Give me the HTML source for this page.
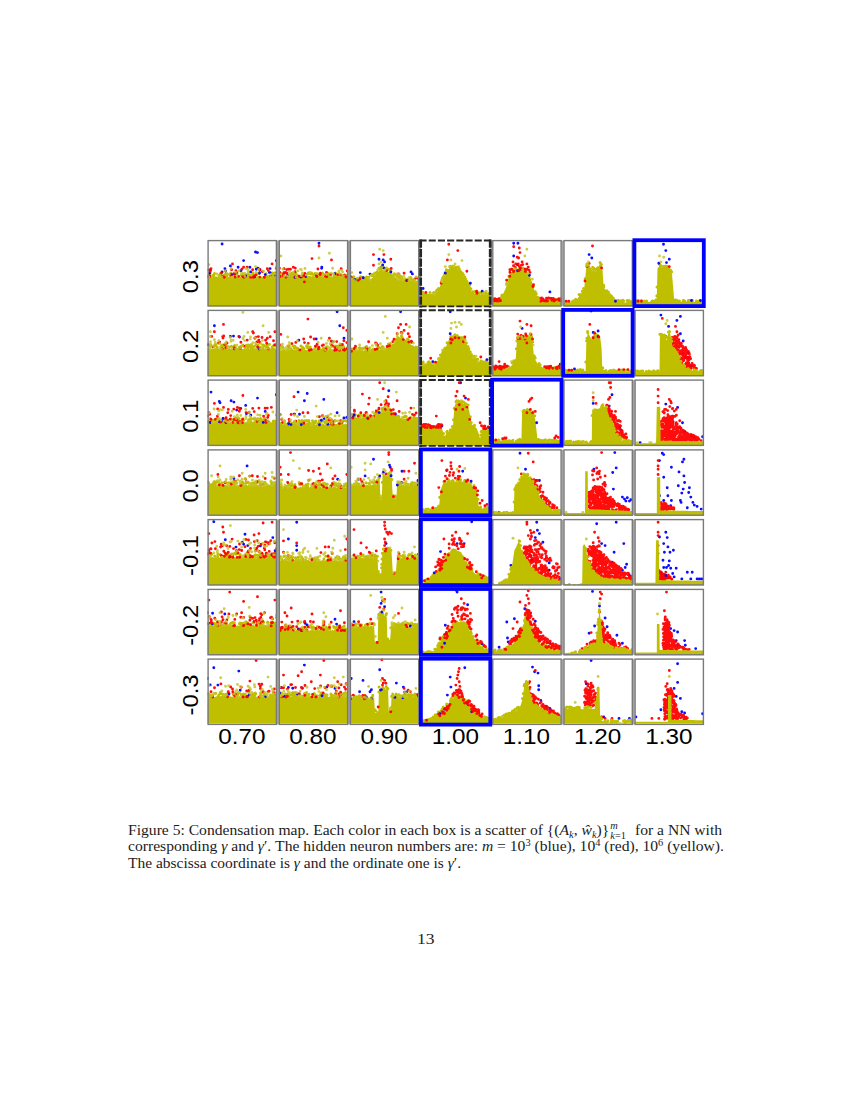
<!DOCTYPE html>
<html><head><meta charset="utf-8"><style>
html,body{margin:0;padding:0;background:#fff;}
body{width:850px;height:1100px;position:relative;overflow:hidden;}
.ln{position:absolute;font-family:"Liberation Serif",serif;font-size:14.3px;line-height:16px;color:#1c1c1c;transform-origin:0 0;white-space:nowrap;}
.ln i{font-style:italic;}
sup,sub{font-size:9.5px;line-height:0;position:relative;vertical-align:baseline;}
sup{top:-5px;} sub{top:3px;}
</style></head><body>
<svg width="850" height="1100" viewBox="0 0 850 1100" style="position:absolute;left:0;top:0"><defs><clipPath id="c00"><rect x="207.5" y="240" width="69.5" height="66.5"/></clipPath><clipPath id="c01"><rect x="278.7" y="240" width="69.5" height="66.5"/></clipPath><clipPath id="c02"><rect x="349.8" y="240" width="69.5" height="66.5"/></clipPath><clipPath id="c03"><rect x="421" y="240" width="69.5" height="66.5"/></clipPath><clipPath id="c04"><rect x="492.2" y="240" width="69.5" height="66.5"/></clipPath><clipPath id="c05"><rect x="563.4" y="240" width="69.5" height="66.5"/></clipPath><clipPath id="c06"><rect x="634.5" y="240" width="69.5" height="66.5"/></clipPath><clipPath id="c10"><rect x="207.5" y="309.8" width="69.5" height="66.5"/></clipPath><clipPath id="c11"><rect x="278.7" y="309.8" width="69.5" height="66.5"/></clipPath><clipPath id="c12"><rect x="349.8" y="309.8" width="69.5" height="66.5"/></clipPath><clipPath id="c13"><rect x="421" y="309.8" width="69.5" height="66.5"/></clipPath><clipPath id="c14"><rect x="492.2" y="309.8" width="69.5" height="66.5"/></clipPath><clipPath id="c15"><rect x="563.4" y="309.8" width="69.5" height="66.5"/></clipPath><clipPath id="c16"><rect x="634.5" y="309.8" width="69.5" height="66.5"/></clipPath><clipPath id="c20"><rect x="207.5" y="379.5" width="69.5" height="66.5"/></clipPath><clipPath id="c21"><rect x="278.7" y="379.5" width="69.5" height="66.5"/></clipPath><clipPath id="c22"><rect x="349.8" y="379.5" width="69.5" height="66.5"/></clipPath><clipPath id="c23"><rect x="421" y="379.5" width="69.5" height="66.5"/></clipPath><clipPath id="c24"><rect x="492.2" y="379.5" width="69.5" height="66.5"/></clipPath><clipPath id="c25"><rect x="563.4" y="379.5" width="69.5" height="66.5"/></clipPath><clipPath id="c26"><rect x="634.5" y="379.5" width="69.5" height="66.5"/></clipPath><clipPath id="c30"><rect x="207.5" y="449.2" width="69.5" height="66.5"/></clipPath><clipPath id="c31"><rect x="278.7" y="449.2" width="69.5" height="66.5"/></clipPath><clipPath id="c32"><rect x="349.8" y="449.2" width="69.5" height="66.5"/></clipPath><clipPath id="c33"><rect x="421" y="449.2" width="69.5" height="66.5"/></clipPath><clipPath id="c34"><rect x="492.2" y="449.2" width="69.5" height="66.5"/></clipPath><clipPath id="c35"><rect x="563.4" y="449.2" width="69.5" height="66.5"/></clipPath><clipPath id="c36"><rect x="634.5" y="449.2" width="69.5" height="66.5"/></clipPath><clipPath id="c40"><rect x="207.5" y="519" width="69.5" height="66.5"/></clipPath><clipPath id="c41"><rect x="278.7" y="519" width="69.5" height="66.5"/></clipPath><clipPath id="c42"><rect x="349.8" y="519" width="69.5" height="66.5"/></clipPath><clipPath id="c43"><rect x="421" y="519" width="69.5" height="66.5"/></clipPath><clipPath id="c44"><rect x="492.2" y="519" width="69.5" height="66.5"/></clipPath><clipPath id="c45"><rect x="563.4" y="519" width="69.5" height="66.5"/></clipPath><clipPath id="c46"><rect x="634.5" y="519" width="69.5" height="66.5"/></clipPath><clipPath id="c50"><rect x="207.5" y="588.8" width="69.5" height="66.5"/></clipPath><clipPath id="c51"><rect x="278.7" y="588.8" width="69.5" height="66.5"/></clipPath><clipPath id="c52"><rect x="349.8" y="588.8" width="69.5" height="66.5"/></clipPath><clipPath id="c53"><rect x="421" y="588.8" width="69.5" height="66.5"/></clipPath><clipPath id="c54"><rect x="492.2" y="588.8" width="69.5" height="66.5"/></clipPath><clipPath id="c55"><rect x="563.4" y="588.8" width="69.5" height="66.5"/></clipPath><clipPath id="c56"><rect x="634.5" y="588.8" width="69.5" height="66.5"/></clipPath><clipPath id="c60"><rect x="207.5" y="658.5" width="69.5" height="66.5"/></clipPath><clipPath id="c61"><rect x="278.7" y="658.5" width="69.5" height="66.5"/></clipPath><clipPath id="c62"><rect x="349.8" y="658.5" width="69.5" height="66.5"/></clipPath><clipPath id="c63"><rect x="421" y="658.5" width="69.5" height="66.5"/></clipPath><clipPath id="c64"><rect x="492.2" y="658.5" width="69.5" height="66.5"/></clipPath><clipPath id="c65"><rect x="563.4" y="658.5" width="69.5" height="66.5"/></clipPath><clipPath id="c66"><rect x="634.5" y="658.5" width="69.5" height="66.5"/></clipPath></defs><g clip-path="url(#c00)"><polygon fill="#bfbf00" points="207.5,276.9 208.5,276.8 209.5,276.3 210.5,276.1 211.5,276.4 212.5,276.3 213.5,276.8 214.4,276.1 215.4,276.4 216.4,276.5 217.4,277 218.4,276.4 219.4,276.1 220.4,276.8 221.4,276.6 222.4,276.1 223.4,277 224.4,277.1 225.4,276.8 226.4,277 227.4,276.1 228.3,276.7 229.3,277 230.3,276.7 231.3,276.4 232.3,275.9 233.3,276.3 234.3,276.6 235.3,277 236.3,277.1 237.3,276.4 238.3,276.9 239.3,276.1 240.3,276.8 241.3,276.5 242.2,275.7 243.2,276.7 244.2,276.3 245.2,276.9 246.2,276.6 247.2,275.7 248.2,276.4 249.2,276.9 250.2,276.1 251.2,276.2 252.2,276.9 253.2,276 254.2,276.5 255.2,276 256.1,277.1 257.1,276.8 258.1,276.3 259.1,275.8 260.1,276.2 261.1,276.4 262.1,277 263.1,275.9 264.1,276.5 265.1,276.7 266.1,276.5 267.1,276.8 268.1,276.5 269.1,277.1 270.1,276.6 271,276.5 272,276.3 273,276.5 274,276.2 275,276.5 276,276.1 277,276 278,307.5 206.5,307.5"/><path stroke="#bfbf00" stroke-width="3" stroke-linecap="round" d="M220.5 275.2h0M253.1 274.7h0M213.7 275.7h0M268.4 276.4h0M266.1 276.3h0M271.7 274.9h0M234.7 275.5h0M226.7 275.9h0M266.5 276.3h0M248.5 276.5h0M247.8 274.6h0M253.4 276.6h0M271.2 275.9h0M213.2 275.2h0M241.3 275.3h0M266.2 273.8h0M258.3 273.4h0M222.8 275.9h0M230.6 276h0M214.5 273.5h0M256 273.1h0M247.4 276.3h0M244.6 275.5h0M209.4 275.3h0M249.6 275.1h0M234.7 274.3h0M275.6 273.1h0M209 276.5h0M220.4 273.4h0M222.1 275.9h0M272.6 273h0M237.1 273.3h0M225.6 273.7h0M252.5 274.2h0M220 274.8h0M210.2 273.3h0M276.2 273.7h0M232.4 275.6h0M265.8 276.3h0M219.3 275.4h0M274.7 273.1h0M254.5 276.1h0M231.3 273.9h0M249 274.6h0M219.6 274.7h0M236 275h0M242.8 274.1h0M232.3 276h0M224.9 275h0M208.4 275.7h0M230.8 273.1h0M227 273.8h0M273.7 274.2h0M227.5 274.3h0M273.3 275.3h0M250.7 275.6h0M234.5 274.5h0M252.7 272.9h0M220.9 274.2h0M224.1 275.3h0M233.8 276.2h0M247 274.5h0M235.5 275.5h0"/><path stroke="#0000ff" stroke-opacity="0.95" stroke-width="2.9" stroke-linecap="round" d="M260 269.6h0M257.9 268.1h0M270.2 272.7h0M275.7 276h0M245.6 275.9h0M243.9 277.1h0M275.3 275.6h0M234.9 274h0M225.6 271h0M256.3 269.3h0M254.5 276.9h0M241 270.8h0M222.1 244h0M255.5 252h0M257.5 252.6h0M243.6 260.6h0M276.3 260.6h0M224.9 268.6h0M230.4 265.9h0M238.1 267.3h0M249.9 267.3h0M270.1 268.6h0M250.6 271.9h0M222.1 271.9h0M231.8 274.6h0M259.6 273.2h0M265.2 274.6h0M269.4 272.6h0M210.3 269.9h0M209.6 273.2h0"/><path stroke="#ff0000" stroke-opacity="0.95" stroke-width="2.9" stroke-linecap="round" d="M236.6 272.4h0M238.5 276.2h0M268.3 270.6h0M277 272.8h0M254.7 275.8h0M244.2 277h0M252.6 269.7h0M235.1 277.1h0M231.6 269.8h0M208.1 276.8h0M262.4 271.8h0M250.6 277.2h0M224.2 277.2h0M230.3 275h0M256.1 274.9h0M251.9 277.1h0M259.6 277.1h0M222.5 276.8h0M233.8 273.7h0M276.2 268.2h0M241.9 269.1h0M221.5 273h0M264.4 277.2h0M210.2 276.4h0M208.6 270.1h0M259.4 269.3h0M253.2 277.2h0M242.7 276.2h0M267.3 268.8h0M235.9 270.6h0M232.5 263.9h0M243.6 267.3h0M247.1 267.3h0M272.1 263.9h0M211 268.6h0M259.6 270.6h0M245 276.6h0M270.7 275.9h0M210.3 271.3h0"/><path stroke="#c4c428" stroke-opacity="0.85" stroke-width="2.9" stroke-linecap="round" d="M244.2 274.3h0M229.2 274.5h0M257.4 277.2h0M275.5 277h0M239 270.8h0M216.8 274h0M208.8 277.2h0M246.3 268.7h0M270.7 277.2h0M256.2 272.5h0M244.9 276.5h0M270.7 274.4h0M258.6 269.5h0M251.1 275.3h0M241.5 273.3h0M236.9 275.4h0M232.4 277.1h0M221.9 277.2h0M235.7 272.2h0M242.1 274.2h0M231.1 268.5h0M225.4 270.9h0M248 271.8h0M212.1 277.1h0M218.7 276.8h0M274.8 274.1h0M242.4 273.4h0M263.5 271.3h0M244.7 273.1h0M248.3 270h0M255.5 266.6h0M276.3 267.3h0M208.9 264.6h0"/></g><g clip-path="url(#c01)"><polygon fill="#bfbf00" points="278.7,275.9 279.7,276.9 280.7,276.8 281.6,276.1 282.6,276.4 283.6,276.3 284.6,276.6 285.6,276.8 286.6,275.8 287.6,275.8 288.6,276.9 289.6,276.3 290.6,276.8 291.6,275.7 292.6,276.3 293.6,276.7 294.6,276 295.5,277 296.5,277 297.5,275.8 298.5,275.7 299.5,276.5 300.5,277 301.5,276.2 302.5,276 303.5,276.3 304.5,275.8 305.5,276 306.5,276.3 307.5,276.4 308.5,276 309.4,276 310.4,276 311.4,276.4 312.4,276.1 313.4,275.7 314.4,276.9 315.4,276.5 316.4,276.6 317.4,276 318.4,277.1 319.4,276.9 320.4,275.9 321.4,276.2 322.4,276.7 323.3,276.7 324.3,277 325.3,276.3 326.3,276.9 327.3,276.6 328.3,276.1 329.3,276.5 330.3,276.9 331.3,276.9 332.3,276.4 333.3,276.5 334.3,275.8 335.3,276 336.3,276.8 337.2,276.3 338.2,276 339.2,276.5 340.2,276.7 341.2,276.7 342.2,276.2 343.2,276.3 344.2,276.4 345.2,276.8 346.2,276.4 347.2,276.3 348.2,276.4 349.2,307.5 277.7,307.5"/><path stroke="#bfbf00" stroke-width="3" stroke-linecap="round" d="M280.7 273.1h0M327.6 276.6h0M319.9 274.4h0M290.5 274.8h0M346.9 275.8h0M316.2 276.1h0M294.8 274.8h0M344.9 275.1h0M310.6 273.9h0M316.8 276.5h0M279.1 275.8h0M335.7 276.2h0M330.1 275.9h0M314.7 275h0M308.3 273.1h0M339.1 275h0M292.6 274.8h0M312.4 274.2h0M302.7 274.9h0M322 275.2h0M310.5 273h0M294.6 273.6h0M319.3 276.1h0M334.2 275.9h0M335.4 273.9h0M337.2 275.4h0M284.5 273h0M279.7 275.7h0M296 273.3h0M322.1 274.2h0M283.5 273.5h0M315.3 273.5h0M297.6 275.6h0M310.3 274.1h0M311.6 273h0M305.5 274.5h0M291.7 273.3h0M341.2 274.8h0M293.2 275.2h0M335.5 273h0M279.9 273.5h0M328.6 273.5h0M327.6 275.4h0M316.5 273.7h0M346.5 275.9h0M314.6 273.7h0M323.7 274.4h0M318.7 274.1h0M322.5 273.1h0M299.4 276.5h0M339.5 274.1h0M338.3 274.1h0M344 275.7h0M307.6 273.9h0M279.3 276.2h0M281.3 276h0M345.5 275h0M290.6 276.1h0M346.3 275.5h0M314 274.3h0M302.8 273.7h0M325.5 274.5h0M292.2 273.3h0"/><path stroke="#0000ff" stroke-opacity="0.95" stroke-width="2.9" stroke-linecap="round" d="M321.6 268.2h0M300.9 277h0M334.8 273.7h0M294.9 277.2h0M319 243.3h0M321.8 267.3h0M287.7 275.2h0M305.8 276.6h0"/><path stroke="#ff0000" stroke-opacity="0.95" stroke-width="2.9" stroke-linecap="round" d="M325 275.9h0M279.9 276.5h0M347.3 270.9h0M295 271.7h0M290.5 269.2h0M304.3 275.6h0M285.9 277.2h0M304.9 273.4h0M317.9 269h0M279.5 272.3h0M286.7 269.6h0M295.3 268.1h0M286.7 276.7h0M299.1 276.2h0M285.6 272.5h0M279.4 268.2h0M320.1 274.6h0M346.1 277h0M326.5 272.4h0M316.3 275.8h0M344.1 275.2h0M340.8 275.9h0M295.7 277.2h0M283.7 273.7h0M283.9 272.7h0M284 268.7h0M288.5 269.2h0M326.6 276.7h0M337.8 274.6h0M302.2 276.2h0M283 275.5h0M319 246h0M312 258.6h0M331.5 259.9h0M293.3 267.3h0M304.4 281.9h0M320.4 273.2h0M316.9 276.6h0M330.8 274.6h0M341.2 268.6h0M287 273.2h0"/><path stroke="#c4c428" stroke-opacity="0.85" stroke-width="2.9" stroke-linecap="round" d="M301.3 269.8h0M293.5 272.3h0M343.5 275.6h0M326.4 274.3h0M331.4 273.1h0M339 273.1h0M340.3 276.9h0M338.9 270.9h0M302.4 273h0M284.4 276.1h0M297.9 270.9h0M330.4 277h0M305 268.4h0M283 269.2h0M284.3 276h0M309.8 272.5h0M301.4 275.8h0M316.5 273.4h0M333.7 274.2h0M289.4 274.2h0M332.6 268.2h0M342.6 275.9h0M300.6 269.3h0M341.7 270.2h0M289.6 271.8h0M296.2 277.1h0M323.6 274.9h0M287.4 276.2h0M306.3 275.1h0M329.4 253.3h0M319 258h0M280.8 256h0M342.6 271.9h0"/></g><g clip-path="url(#c02)"><polygon fill="#bfbf00" points="349.8,280.1 350.8,280.1 351.8,279 352.8,279.1 353.8,280 354.8,279.8 355.8,279.8 356.8,279.3 357.8,279.7 358.8,279.7 359.8,279.7 360.8,279.2 361.8,279.5 362.7,279.4 363.7,279.8 364.7,280.2 365.7,280.1 366.7,279.6 367.7,279.5 368.7,279.3 369.7,279 370.7,279 371.7,278.6 372.7,277.5 373.7,276.6 374.7,276.2 375.7,274.8 376.3,274.3 376.6,273.5 377.6,272.1 378.6,271.4 379.6,270 380.4,269.6 380.6,270.2 381.6,270.1 382.6,269.7 383.6,270.8 384.6,270.9 385.6,271.1 386,271.4 386.6,271.5 387.6,271.8 388.6,271.7 389.6,272.8 390.5,273.1 391.5,272.5 392.5,274.3 393.5,275.3 394.5,276.1 395.5,277.2 396.5,278.2 397.1,279.4 397.5,278.9 398.5,279.4 399.5,278.9 400.5,279.7 401.5,279.8 402.5,279.3 403.5,279.6 404.4,280.1 405.4,279.9 406.4,279.7 407.4,279.5 408.4,279.7 409.4,280.2 410.4,279.7 411.4,280.7 412.4,280 413.4,280.9 414.4,280.2 415.4,281.1 416.4,280.9 417.4,280.7 418.3,280.8 419.3,281.1 420.3,307.5 348.8,307.5"/><path stroke="#bfbf00" stroke-width="3" stroke-linecap="round" d="M390.7 270.6h0M364.3 278.2h0M414.8 279.5h0M355.1 279.2h0M400.3 279.1h0M363.1 279h0M353.9 278.7h0M368.8 277.3h0M410.7 277.5h0M386.1 270.7h0M366.9 277.2h0M411 278.5h0M399.7 276.2h0M375 273h0M396.6 275.6h0M416.2 277.7h0M400.5 276.3h0M367.6 279.2h0M360.8 277.2h0M397.9 277.2h0M352.8 279.7h0M360.4 276.7h0M373.8 275.6h0M401.4 276.7h0M373.3 274.2h0M381 269.2h0M401.3 279.2h0M402.4 279.1h0M398.9 277.6h0M365.5 278.7h0M371.8 275.8h0M381 269.5h0M358.7 278.4h0M377.2 271.9h0M359.8 279.6h0M367.8 278.5h0M379 268.2h0M388.6 269.3h0M353.8 276.7h0M361 276.9h0M394 274.2h0M418.2 280.8h0M419 278.6h0M380.7 267.5h0M390.9 271.7h0M405.5 278.9h0M367.7 277.9h0M386.4 268.1h0M352.3 277.9h0M357.6 278.9h0M366.6 276.9h0M362.5 277.3h0M364.9 278.2h0M382.1 268h0M394.4 273.7h0M412.8 280.4h0M400.5 277.6h0M385.4 269.6h0M353.4 277.9h0M386.3 268.6h0M356.4 279.1h0M375.3 273.8h0M413.9 279.4h0"/><path stroke="#0000ff" stroke-opacity="0.95" stroke-width="2.9" stroke-linecap="round" d="M370 274.1h0M355 279.7h0M363.2 277.8h0M382 266.7h0M406.7 280.6h0M382.7 264.9h0M379 259.3h0M383.2 259.9h0M384.6 261.9h0M383.9 267.9h0M360.3 272.6h0M411 271.9h0M412.4 273.9h0M349.8 267.9h0M390.8 271.9h0M419.3 243.3h0"/><path stroke="#ff0000" stroke-opacity="0.95" stroke-width="2.9" stroke-linecap="round" d="M351.2 276.9h0M358.3 280.3h0M407.9 279.9h0M418.6 278.5h0M359.9 278.8h0M391.2 268.4h0M373.5 254.6h0M383.9 254.6h0M390.8 259.3h0M373.5 265.3h0M415.9 277.9h0M398.5 273.9h0M404.1 273.2h0M386.7 270.6h0"/><path stroke="#c4c428" stroke-opacity="0.85" stroke-width="2.9" stroke-linecap="round" d="M371.1 275.1h0M350.9 278.7h0M383.6 270.8h0M414.8 281.4h0M408.9 277.7h0M398 280h0M403.9 276.5h0M374.7 274.8h0M368.5 278.2h0M416.2 276.9h0M383.8 270.6h0M397 274h0M419.2 281.6h0M354.5 280.4h0M370.4 279.9h0M397.2 278.1h0M357.6 278.1h0M402.4 280.2h0M399.6 279.4h0M381.9 267.2h0M419 277.4h0M385.3 269.7h0M399.2 274.1h0M401.7 276.9h0M409.1 280.4h0M377.8 270h0M394 276.5h0M399.3 274.6h0M379.7 249.3h0M383.2 250.6h0M351.9 272.6h0M381.1 261.9h0M379 263.9h0"/></g><g clip-path="url(#c03)"><polygon fill="#bfbf00" points="421,293.7 422,293.9 423,293.8 424,293.9 425,294 426,293.5 427,293.5 428,294.1 429,293.7 429.9,293.7 430.9,294.3 431.9,293.8 432.9,294.1 433.9,293.8 434.9,294 435.9,292.6 436.9,292.1 437.7,291.5 437.9,290.8 438.9,288.7 439.9,286.5 440.9,283.8 441.9,282.1 442.9,279.4 443.8,276.7 444.8,273.9 445.8,272.1 446,271.2 446.8,270.7 447.8,269.8 448.8,268.8 449.8,268 450.2,267.2 450.8,267.4 451.8,267 452.8,267.3 453.8,267.1 454.8,266.4 455.8,266.3 456.8,267.5 457.7,269.2 458.7,269.9 459.7,271.1 459.9,271.1 460.7,272.4 461.7,273.8 462.7,275.3 463.7,276.9 464.7,278.4 465.7,280.1 466.2,280.7 466.7,281.9 467.7,283.9 468.7,286 469.7,287.8 470.7,289.5 471.1,290.8 471.6,291.4 472.6,292.1 473.6,292.7 474.6,293.6 475.2,293.6 475.6,294.1 476.6,294 477.6,293.8 478.6,293.7 479.6,294.3 480.6,294.5 481.6,293.8 482.6,294.4 483.6,294.2 484.6,294 485.5,294.1 486.5,294.6 487.5,294.7 488.5,294.1 489.5,294.6 490.5,294.2 491.5,307.5 420,307.5"/><path stroke="#bfbf00" stroke-width="3" stroke-linecap="round" d="M470.9 289h0M482.2 294.3h0M456.1 267.2h0M442.5 278.3h0M462.7 273.4h0M434.7 292.7h0M463.4 274.8h0M424 293.7h0M442.8 279.5h0M483.3 293h0M453 266h0M465.8 279.2h0M459.9 270.5h0M486.4 293.4h0M451 266.7h0M437.5 290h0M489 293.6h0M459.1 268.4h0M449.9 266.8h0M422.4 293.2h0M464.9 276.9h0M464.6 277.2h0M468.2 283.5h0M470.1 288.3h0M422.6 292h0M468 284.3h0M438.5 288.5h0M462.2 273.3h0M446.3 269.7h0M446.7 269.9h0M441.9 280.6h0M474.7 291.5h0M460.6 271.8h0M442.6 278.6h0M476.9 292.4h0M434 292.8h0M469.5 285.6h0M443.4 276.7h0M478.9 293h0M480.5 292.5h0M444.4 274.8h0M482.5 293.1h0M436.6 290.5h0M457.8 267.3h0M477.1 293.7h0M433.8 292.5h0M477.1 293.3h0M477 292.7h0M430 292.5h0M476.2 292.5h0M445.1 272.6h0M450.2 266.2h0M485 292.6h0M421.3 293.9h0M482.2 294.3h0M451.2 267.2h0M485.5 292.8h0M472.8 291.7h0M467.1 281.5h0M441.1 282.3h0M436.8 290.2h0M461.9 272.8h0M477.3 292.1h0"/><path stroke="#0000ff" stroke-opacity="0.95" stroke-width="2.9" stroke-linecap="round" d="M445.3 273.2h0M470.4 283.2h0M423.1 288.5h0M482.2 291.2h0"/><path stroke="#ff0000" stroke-opacity="0.95" stroke-width="2.9" stroke-linecap="round" d="M477 293.3h0M448.8 244.3h0M457.8 250.6h0M447.4 259.9h0M466.9 271.3h0M441.2 283.2h0M425.9 292.5h0M476.6 291.2h0"/><path stroke="#c4c428" stroke-opacity="0.85" stroke-width="2.9" stroke-linecap="round" d="M483.8 294.1h0M483.3 293.3h0M421.9 293.5h0M441.9 281.9h0M449.8 266.6h0M444.7 275.6h0M454.2 266.3h0M434.7 294.2h0M432.9 293.4h0M448.8 254.6h0M450.9 259.9h0M462 260.6h0M445.3 266.6h0M455.1 263.9h0M441.9 279.9h0M486.3 291.2h0M458.5 266.6h0"/></g><g clip-path="url(#c04)"><polygon fill="#bfbf00" points="492.2,301 493.2,300.9 494.2,301.1 495.2,300.9 496.2,300.8 497.1,301.1 498.1,301.5 499.1,301.4 500.1,300 501.1,298.1 501.9,297.2 502.1,296.5 503.1,294.1 504.1,291.7 505.1,289.4 506.1,287.6 507.1,284.3 508.1,281.1 509.1,278 510.1,274.3 510.2,273.8 511,273.1 512,272 513,270.9 514,270.7 515,269.9 516,270.1 517,270 518,269.6 519,269.2 520,269.2 521,269.1 522,270 523,270.1 524,270.1 524.9,270.1 525.9,270.7 526.9,270.6 527.9,272.8 528.9,274.7 529.9,276.3 530.4,277.2 530.9,278.9 531.9,282 532.9,285 533.9,288.4 534.9,291.3 535.9,293.1 536.9,295.6 537.4,297.3 537.9,298 538.8,300.1 539.4,301.2 539.8,301.1 540.8,301.6 541.8,301 542.8,301.2 543.8,301.1 544.8,301.4 545.8,301.2 546.8,301.3 547.8,301.6 548.8,301.3 549.8,301.5 550.8,301.8 551.8,301.2 552.7,301.2 553.7,301.4 554.7,301.8 555.7,301.8 556.7,301.5 557.7,301.6 558.7,301.5 559.7,301.8 560.7,301.5 561.7,302 562.7,307.5 491.2,307.5"/><path stroke="#bfbf00" stroke-width="3" stroke-linecap="round" d="M554.4 301.7h0M543.3 301.3h0M493.4 299.8h0M559.3 301.4h0M520.7 269.4h0M535.3 291.8h0M512.6 269.6h0M523 268.1h0M518.7 269.6h0M515.2 268.2h0M495.3 299.5h0M546.7 300.2h0M512.4 269.6h0M560.4 300.7h0M506.6 283.6h0M496 299.5h0M539.2 299.1h0M495 300.2h0M509.5 276.5h0M500.7 298.1h0M546 300.3h0M560.8 300.8h0M509 276.8h0M494.7 300.1h0M509.5 276.3h0M549.9 300.6h0M494.4 299.7h0M509 276.3h0M508.3 280.1h0M502 295h0M556.7 300.9h0M561 300.7h0M554.8 301h0M547.1 301h0M526.5 268.7h0M506.8 284.7h0M554.7 301.6h0M515.6 269.5h0M547.7 300.8h0M548.8 300.6h0M537.7 297.3h0M510.8 273.2h0M558.6 299.9h0M559.7 301.8h0M538.6 297.7h0M554.7 299.9h0M559.5 301.2h0M496.4 299.5h0M536.3 293.8h0M544.1 301.3h0M507.4 281.1h0M556.3 299.7h0M553.1 299.8h0M548.5 301.1h0M553.2 300.8h0M553.3 300h0M538.8 298.8h0M554.2 301.3h0M524.9 269.3h0M494 299.3h0M533.5 286.3h0M552.3 300.9h0M501.8 296.1h0"/><path stroke="#0000ff" stroke-opacity="0.95" stroke-width="2.9" stroke-linecap="round" d="M520.6 269h0M517.4 264.8h0M529.4 275.2h0M517.6 270.7h0M513.7 243.3h0M517.9 243.3h0M513.7 256h0M549.9 291.9h0"/><path stroke="#ff0000" stroke-opacity="0.95" stroke-width="2.9" stroke-linecap="round" d="M527.1 269.4h0M529.1 270.3h0M513.8 271h0M532.9 286.5h0M522.8 264.6h0M506.6 280.2h0M513.5 265.8h0M509.8 276.2h0M525.4 271.6h0M520.6 268.2h0M518.8 270.7h0M533.5 284.7h0M518.3 264h0M530 272.4h0M515.3 267.4h0M509.9 269.7h0M521.5 269.4h0M509.9 272.2h0M513.5 271.8h0M528.3 267.1h0M497.1 299.5h0M497 301h0M498.5 301.1h0M493.2 300h0M497.8 300.3h0M497.3 300.6h0M494.7 300.9h0M495.6 299.8h0M499.7 300.2h0M494.8 298.6h0M494.9 299.9h0M500.5 300.8h0M495.5 299.2h0M499 298.8h0M548.6 297.9h0M543.5 299.7h0M554.9 299.9h0M547.5 301h0M553.3 298.4h0M540.9 301.1h0M561.4 300.9h0M552.9 298.9h0M541.5 298.7h0M544.4 300.9h0M559.3 300.4h0M542.7 298.6h0M546.1 301h0M543.1 300.5h0M554.6 299.7h0M560.8 298.7h0M551.1 298.4h0M541.6 298h0M546.5 298.3h0M540.8 301.2h0M545.9 300.8h0M555.1 300.3h0M554 301h0M559 300.2h0M551.9 300.2h0M555.5 299.7h0M550.6 298.4h0M558.2 299.5h0M540.9 298.4h0M558.9 298.7h0M513.7 246.7h0M519.3 248h0M520 252.6h0M517.2 257.3h0M518.6 258h0M513 261.9h0M522.1 261.9h0M526.9 263.9h0M519.3 266.6h0M524.8 269.3h0M511.6 269.3h0M515.8 263.9h0M521.4 265.3h0"/><path stroke="#c4c428" stroke-opacity="0.85" stroke-width="2.9" stroke-linecap="round" d="M528 273.5h0M514.6 268.6h0M522.5 269.8h0M507.1 284.9h0M507.4 282.4h0M532.4 279.1h0M526.9 249.3h0M524.8 256h0"/></g><g clip-path="url(#c05)"><polygon fill="#bfbf00" points="563.4,302.6 564.3,302.6 565.3,302.6 566.3,302.7 567.3,302.5 568.3,302.6 569.3,301.8 570.3,302.1 571.3,302.4 572.3,302.1 573.3,302.3 574.3,301.6 575.2,301.8 575.3,301.5 576.3,300.4 577.2,299.1 578.2,297.3 578.6,297 579.2,296.1 580.2,295.1 581.2,293.4 582.2,291.4 583.2,290.3 584.2,288.3 585.2,278.5 586.2,268 586.3,266.9 587.2,265.6 588.2,262.8 588.4,262.4 589.2,264.7 590.2,266.8 591.1,268.4 592.1,269.4 593.1,269.4 594.1,270 595.1,270 596,270.9 596.1,270.6 597.1,269.2 598.1,267.6 599.1,265.5 600.1,264 600.2,263.7 601.1,265.1 602.1,266.6 602.3,267.1 603.1,278.7 603.7,286.8 604.1,287.9 605.1,289 606,290.3 607,292.1 608,293.2 608.5,293.7 609,294.5 610,295.9 611,296.7 612,298.7 613,299.2 614,301 614.8,302.1 615,301.5 616,302.1 617,301.8 618,302 619,301.6 619.9,301.7 620.9,301.8 621.9,302.5 622.9,301.9 623.9,302.4 624.9,302.6 625.9,302.6 626.9,302.2 627.9,302.2 628.9,302.4 629.9,302.6 630.9,302.1 631.9,302.7 632.9,302.7 633.9,307.5 562.4,307.5"/><path stroke="#bfbf00" stroke-width="3" stroke-linecap="round" d="M623.1 300.2h0M629.1 300.6h0M587 264.9h0M627.2 301h0M627.6 301.5h0M585.1 278.4h0M575.7 299.3h0M573.7 301.4h0M632.6 300.9h0M566.7 302.4h0M600.4 263.2h0M579.8 294.6h0M620.8 301h0M592.7 267.3h0M627 300.4h0M597.7 267.8h0M572.4 301.6h0M629.4 301.7h0M618.1 300.2h0M593.6 267.9h0M622.1 300.7h0M594.8 270.2h0M622.6 302.2h0M594.9 269.2h0M614.1 299.9h0M583.6 288.4h0M573.5 300.7h0M632 302.5h0M606.9 290.7h0M586.9 264.1h0M582.3 291.2h0M623.6 300.9h0M618 301.6h0M611.6 297.2h0M616.1 300.7h0M612.3 297.3h0M597.1 268.5h0M611.4 296.1h0M629.1 301.8h0M603.7 285.3h0M601.4 264.4h0M610 294.8h0M620.1 301.4h0M618.8 300.7h0M608.1 292.9h0M620.9 300.8h0M621.9 302h0M611.2 297.3h0M629.8 301.5h0M600.1 262.4h0M621.5 302.1h0M596.5 269.3h0M613.4 299.6h0M575.3 301.3h0M603.7 286.7h0M592.6 268.5h0M617.2 301.3h0M613.4 298.2h0M574.5 300.8h0M608.5 292.3h0M611 296.4h0M566.3 301.4h0M579.1 294.6h0"/><path stroke="#0000ff" stroke-opacity="0.95" stroke-width="2.9" stroke-linecap="round" d="M589.1 254.6h0M591.8 258h0M615.5 301.2h0"/><path stroke="#ff0000" stroke-opacity="0.95" stroke-width="2.9" stroke-linecap="round" d="M587 266.6h0M589.2 263.4h0M585 281h0M592.5 246h0M601.6 267.9h0M566.1 301.2h0M568.9 301.2h0"/><path stroke="#c4c428" stroke-opacity="0.85" stroke-width="2.9" stroke-linecap="round" d="M588.2 264.2h0M592.1 269.1h0M592.7 270.2h0M586.6 265.9h0M595.6 271.3h0M588.4 261.9h0"/></g><g clip-path="url(#c06)"><polygon fill="#bfbf00" points="634.5,302.2 635.5,302.2 636.5,302 637.5,301.8 638.5,301.6 639.5,302 640.5,301.9 641.5,302.1 642.5,301.8 643.5,302 644.4,301.7 645.4,302 646.4,302 647.4,301.8 648.4,301.8 649.4,301.9 650.4,301.6 651.4,301.8 652.4,301.9 653.4,301.6 654.4,301.9 655.4,301.8 656.4,298.6 656.8,296.9 657.4,272.3 657.5,268.6 658.3,267.5 659.3,266 659.5,265.5 660.3,265.8 661.3,266.2 662.3,266.2 663.3,266.8 664.3,266.8 665.3,266.8 665.8,267.2 666.3,267.2 667.3,267.9 668.3,268.3 669.3,268.4 670.3,270.4 671.3,272.3 672,273.9 672.2,276.4 673.2,287.9 674.1,298.9 674.2,299.2 675.2,300.3 676.2,301.7 677.2,301.4 678.2,301.9 679.2,301.7 680.2,301.5 681.2,301.8 682.2,301.6 683.2,301.6 684.2,301.8 685.2,301.6 686.1,301.6 687.1,302 688.1,301.9 689.1,301.5 690.1,302 691.1,301.6 692.1,301.8 693.1,302.1 694.1,302 695.1,301.8 696.1,301.8 697.1,301.9 698.1,301.7 699.1,302.3 700,301.7 701,301.9 702,302.1 703,301.9 704,302.3 705,307.5 633.5,307.5"/><path stroke="#bfbf00" stroke-width="3" stroke-linecap="round" d="M651.6 301.8h0M696.5 301.5h0M696.3 301.1h0M692.3 301.6h0M670.4 269.9h0M683.6 300.9h0M640.5 301.6h0M653 301h0M689 300.6h0M636 300.7h0M675.5 299.8h0M652.3 301h0M699 300.9h0M663.1 266.4h0M677.1 300.6h0M667.5 267h0M644.4 301h0M655.8 300.1h0M657 286.9h0M702 302h0M660.7 265.5h0M656.8 295.8h0M668.4 267.9h0M699.6 300.9h0M635 301.2h0M638.5 300.5h0M688.3 300.5h0M684.5 300.9h0M699.7 301.8h0M638.8 300.8h0M700.4 301.5h0M663.9 266.4h0M691.1 301.1h0M667.1 266.3h0M659.7 264.5h0M678 301.2h0M644.5 301.4h0M641.3 300.6h0M679.4 301h0M697 301.4h0M683.3 300.5h0M692.4 300.5h0M677.5 301.7h0M697.6 301.9h0M665.9 266.8h0M689.5 300.6h0M700.1 301.9h0M665.2 266.7h0M665.6 266h0M684 300.4h0M690.1 301.9h0M654.4 301.7h0M640.3 301.8h0M654 301.7h0M664.5 266.8h0M636.7 300.6h0M691.3 301.4h0M671.7 271.7h0M646.6 300.9h0M638.1 302h0M687.7 301.8h0M683.2 300.8h0M639.9 301.6h0"/><path stroke="#0000ff" stroke-opacity="0.95" stroke-width="2.9" stroke-linecap="round" d="M663.5 244.2h0M665.8 250.6h0M669.3 259.3h0M658.8 263.3h0M666.5 262.6h0M691.5 300.5h0M700.5 300.5h0"/><path stroke="#ff0000" stroke-opacity="0.95" stroke-width="2.9" stroke-linecap="round" d="M669.3 266.6h0M638 301.2h0M641.5 301.2h0"/><path stroke="#c4c428" stroke-opacity="0.85" stroke-width="2.9" stroke-linecap="round" d="M659.5 256h0M663.7 257.3h0M660.9 261.9h0M662.3 266.6h0"/></g><g clip-path="url(#c10)"><polygon fill="#bfbf00" points="207.5,347.8 208.5,348.2 209.5,348.8 210.5,348.6 211.5,348.7 212.5,348.2 213.5,348.8 214.4,348.4 215.4,347.6 216.4,348.2 217.4,347.6 218.4,349 219.4,349 220.4,348.1 221.4,348 222.4,348.7 223.4,347.8 224.4,347.8 225.4,347.8 226.4,348.1 227.4,348.5 228.3,349.1 229.3,347.9 230.3,349 231.3,348.4 232.3,349 233.3,348.8 234.3,347.8 235.3,348.6 236.3,347.7 237.3,347.5 238.3,348.2 239.3,348.8 240.3,348.4 241.3,347.8 242.2,348.9 243.2,349 244.2,347.9 245.2,348.2 246.2,348.5 247.2,349 248.2,347.7 249.2,348.4 250.2,349.1 251.2,348.5 252.2,348.7 253.2,348.8 254.2,348.3 255.2,348 256.1,348.5 257.1,348.4 258.1,348.1 259.1,348.9 260.1,348.1 261.1,348.3 262.1,348.7 263.1,348.8 264.1,348.9 265.1,348.6 266.1,347.9 267.1,348.9 268.1,349 269.1,348.7 270.1,348.7 271,348.3 272,348.3 273,348.5 274,347.8 275,348.6 276,348.9 277,347.8 278,377.2 206.5,377.2"/><path stroke="#bfbf00" stroke-width="3" stroke-linecap="round" d="M259.9 347.3h0M215.9 344.5h0M248.9 345.3h0M229 347h0M252.7 347.5h0M247 345.8h0M208.4 344.8h0M220.9 346.6h0M257.5 345.2h0M234.6 348.3h0M235.3 347.4h0M250.5 347.1h0M240.6 346.6h0M256.2 345h0M263 348h0M210.8 345.2h0M224.8 344.7h0M217.2 347.1h0M216 344.6h0M273.2 346h0M245.1 346.3h0M231.4 346.3h0M221 346.8h0M225 344.9h0M222 346.1h0M272.2 346.9h0M275.7 346h0M225.6 347.4h0M220.7 348.6h0M234.6 345.5h0M226.4 345.6h0M272.6 348.6h0M246.3 345.3h0M208.2 344.7h0M228.2 347.1h0M251 348h0M264.6 345.8h0M254.3 346.2h0M258.1 345.1h0M275.4 344.4h0M250.4 345.8h0M263.2 344.9h0M269.4 344.3h0M258.6 347.3h0M242.8 345.1h0M234.1 346.2h0M222.3 345h0M266.1 346.7h0M226.3 347h0M251.5 344.9h0M248.1 346.8h0M215.2 345.6h0M267.5 346.8h0M223 346h0M239.4 347.3h0M267.3 344.7h0M210.7 346.2h0M208.9 345h0M214.9 344.7h0M251 344.7h0M246.9 348.4h0M217.3 347.6h0M248.1 345.1h0"/><path stroke="#0000ff" stroke-opacity="0.95" stroke-width="2.9" stroke-linecap="round" d="M208 344.6h0M233.5 336.1h0M234.6 348.9h0M259.4 349h0M214.4 325.7h0M230.4 336.4h0M239.5 337h0"/><path stroke="#ff0000" stroke-opacity="0.95" stroke-width="2.9" stroke-linecap="round" d="M273.5 340.8h0M262 337.5h0M258.8 340.1h0M266.7 343.3h0M223.7 336h0M223 338.1h0M255.9 337.1h0M213.2 346.9h0M234 348h0M226 347.8h0M270.2 336.8h0M219.7 342.1h0M257.6 347.2h0M224.7 344.6h0M222.2 348.8h0M222.7 336.8h0M274.6 344.9h0M238.8 336.4h0M258.4 336.6h0M265.6 340.3h0M240.4 348.2h0M243.9 346.1h0M256.9 341.9h0M247.2 340.1h0M223.5 324.4h0M274.9 331.7h0M252.7 331.7h0M253.4 333h0M214.4 331.7h0M211.7 336.4h0M254.8 338.3h0M267.3 338.3h0M218.6 343h0M227 343h0M240.9 342.3h0M259.6 342.3h0M268.7 349h0"/><path stroke="#c4c428" stroke-opacity="0.85" stroke-width="2.9" stroke-linecap="round" d="M269.2 348.6h0M266.1 348.6h0M209.9 349h0M245.6 348.5h0M211.1 344.9h0M221.6 348.9h0M244 336.5h0M255.4 348.9h0M228.4 347h0M213.6 346.6h0M250.5 337h0M226.1 342h0M260.1 349h0M218.8 340.7h0M210.4 344h0M209.4 347.4h0M232 348.2h0M233.2 340.2h0M235.6 349h0M210.2 344.6h0M262.4 346.4h0M225.4 343.4h0M230.1 337.4h0M231.1 340.2h0M250.3 339.1h0M255.5 343.2h0M255.4 337.9h0M242.9 338.5h0M210.3 336.5h0M244.7 340.6h0M214.4 339.8h0M261 343.8h0M210.5 341.7h0M220.2 348.7h0M252.9 342.6h0M231 341.3h0M242.7 346h0M219.8 343.7h0M262.4 340.6h0M236.9 345.3h0M227.5 348h0M251.7 344.2h0M240.4 347.9h0M215.2 342.5h0M242.9 312.4h0M263.1 325.7h0M210.3 331.7h0M247.8 332.4h0M268.7 332.4h0"/></g><g clip-path="url(#c11)"><polygon fill="#bfbf00" points="278.7,349.8 279.7,349.2 280.7,350.4 281.6,350.3 282.6,349.6 283.6,349.9 284.6,349.2 285.6,349.2 286.6,349.3 287.6,350 288.6,349.2 289.6,350.4 290.6,349 291.6,349.2 292.6,349 293.6,350.1 294.6,349.4 295.5,349.6 296.5,349.4 297.5,349.9 298.5,349.5 299.5,349.2 300.5,349.5 301.5,349.3 302.5,349 303.5,350.2 304.5,349.9 305.5,349.9 306.5,350.3 307.5,349.5 308.5,349.5 309.4,349.5 310.4,349.5 311.4,349.9 312.4,348.9 313.4,349.6 314.4,349.7 315.4,349.4 316.4,348.9 317.4,350 318.4,348.9 319.4,349.8 320.4,349.1 321.4,348.9 322.4,349.1 323.3,349 324.3,349.1 325.3,349.9 326.3,350 327.3,349.4 328.3,349.9 329.3,349.6 330.3,349.6 331.3,350.2 332.3,349.3 333.3,350.2 334.3,350 335.3,349.9 336.3,348.9 337.2,349 338.2,348.9 339.2,349.4 340.2,350.4 341.2,350.2 342.2,350.2 343.2,349 344.2,350 345.2,350.1 346.2,350.1 347.2,350.1 348.2,349.1 349.2,377.2 277.7,377.2"/><path stroke="#bfbf00" stroke-width="3" stroke-linecap="round" d="M291.1 349h0M330 349.5h0M309.7 349.4h0M288.4 349.7h0M340.1 347.1h0M283.4 348h0M326.6 347.2h0M282.7 346.8h0M336 346h0M343.8 346.7h0M292.9 346.1h0M346.9 349.5h0M300.9 346.1h0M324.1 349.4h0M279.5 348.4h0M338.2 347.6h0M318.2 349.1h0M295.2 346.8h0M324.6 348h0M315.9 347.1h0M343.8 346.9h0M325.9 349.5h0M306.5 345.9h0M294 345.9h0M289 346.2h0M302.5 347.2h0M309.8 348.5h0M325.7 348.6h0M304 348.5h0M316.9 346.2h0M316.6 347h0M325.6 348.8h0M295.4 347.5h0M310.3 346.9h0M281.5 345.9h0M347.7 348.8h0M309.2 348.5h0M297.4 348.7h0M344.8 349h0M311 349.8h0M342.8 345.9h0M307.3 347.6h0M297.7 348.3h0M288.6 348.8h0M338.3 345.9h0M326.8 346.8h0M323 348.6h0M346.5 349.1h0M302.2 348.8h0M288.9 348.7h0M307.7 346.8h0M295.2 346.6h0M334 346.1h0M294.8 346.5h0M289.7 348.8h0M319.5 348.5h0M341.2 347.6h0M281.3 346.5h0M314.6 348.7h0M342.5 347.8h0M294.4 348.2h0M343.6 347.1h0M343.4 349.5h0"/><path stroke="#0000ff" stroke-opacity="0.95" stroke-width="2.9" stroke-linecap="round" d="M337.1 311.7h0M339.8 325.7h0M316.2 339h0M344 338.3h0M298.8 340.3h0M332.9 341.7h0"/><path stroke="#ff0000" stroke-opacity="0.95" stroke-width="2.9" stroke-linecap="round" d="M318.8 347.2h0M347.7 348h0M347.2 348.9h0M331.2 341.3h0M311.3 349.6h0M291.9 343.6h0M323.4 344.9h0M346.8 342.6h0M304.5 342.6h0M344.5 350.2h0M336.7 341.6h0M326.2 349h0M279.4 344.7h0M322.2 345.6h0M344.3 349.3h0M309.4 350.2h0M336.4 349.8h0M315.4 346.3h0M317.1 344.3h0M299.9 349.9h0M308.2 343.4h0M334.7 350.2h0M325.1 350.3h0M295.8 342.4h0M332.4 346.1h0M340.3 344.7h0M318.5 348.9h0M343.9 340.7h0M342.4 344.5h0M343 349.5h0M339.6 350.3h0M307.9 319.1h0M343.3 327.7h0M346.8 330.4h0M280.8 334.4h0M310.6 337h0M314.1 339h0M329.4 338.3h0M303.7 339h0M331.5 345h0M335 347.7h0M288.4 346.3h0"/><path stroke="#c4c428" stroke-opacity="0.85" stroke-width="2.9" stroke-linecap="round" d="M286.3 350.3h0M328.2 340.4h0M282.8 349h0M328.9 348.1h0M289.2 342.6h0M280.9 348.8h0M290.1 347.6h0M340.1 343.9h0M315.2 350.3h0M287.6 346h0M333.7 341.3h0M325.3 350.1h0M278.8 350h0M326.5 343.4h0M297.4 340.8h0M331.3 346.9h0M342.6 347.8h0M281.9 346.7h0M331.6 350.1h0M340.2 347.5h0M333.2 342.4h0M328.3 346.9h0M330.1 343.8h0M282.5 344.1h0M279.6 349.2h0M318.1 342.2h0M288.4 346.4h0M287 349.8h0M289.4 349.4h0M289.7 344.4h0M286.2 347.7h0M339.4 349.2h0M307.5 344.9h0M287.7 337h0M321.1 338.3h0"/></g><g clip-path="url(#c12)"><polygon fill="#bfbf00" points="349.8,350.2 350.8,350.8 351.8,350.3 352.8,350.9 353.8,350.8 354.8,350.5 355.8,350.8 356.8,350.7 357.8,350.1 358.8,350.7 359.8,350.8 360.8,350.7 361.8,351.1 362.7,350.9 363.7,350.5 364.7,350.3 365.7,350.2 366.7,351 367.7,350.9 368.7,350.8 369.7,350.6 370.7,350.6 371.7,350.2 372.7,350.5 373.7,349.9 374.7,350.4 375.7,350.3 376.6,350.3 377.6,349.7 378.6,349.4 379.6,349.6 380.6,349.9 381.6,349.6 382.6,349.8 383.6,349.3 384.6,349.2 385.6,349.1 386.6,347.6 387.6,347 388.6,346.8 389.6,346.2 390.5,345.3 391.5,344.8 392.5,344 393.5,343.6 393.6,343.8 394.5,343.2 395.5,342.3 396.5,341.5 397.5,341.4 398.5,340.2 399.5,339.7 400.5,339.4 401.5,338.5 402,337.9 402.5,338.5 403.5,338.8 404.4,339.6 405.4,339.6 406.4,340 407.4,340.9 408.2,340.7 408.4,340.8 409.4,342.9 410.4,344.3 411.4,344.8 412.4,346.1 413.4,348.5 413.8,349.1 414.4,348.8 415.4,349.1 416.4,350.1 417.4,350.9 418.3,350.5 419.3,351.3 420.3,377.2 348.8,377.2"/><path stroke="#bfbf00" stroke-width="3" stroke-linecap="round" d="M395.9 339.6h0M378.7 347.3h0M383.2 347.2h0M355.4 348.9h0M360.3 348h0M360.3 349h0M371.9 349.9h0M378.6 347.7h0M362.9 348.6h0M401.5 336h0M382.2 349.1h0M407.5 338.9h0M408.4 340h0M365.6 348h0M361.7 350.2h0M376.9 349.7h0M417.1 350.2h0M382.4 346.6h0M369 348.4h0M394.9 341.7h0M413.9 348h0M416.5 349h0M382.8 349.2h0M368.9 350.1h0M400.4 338.8h0M354 348.3h0M415.8 347.1h0M381.2 348.6h0M383.3 349.3h0M416.2 347.9h0M359.2 350.6h0M381.4 347.4h0M359.4 347.7h0M390.3 343.4h0M388.5 346.7h0M383.5 349.5h0M354.5 350.1h0M402.3 338.2h0M352 349.3h0M388.5 345.6h0M382.6 347.4h0M412.6 346.7h0M398.6 340.2h0M388.3 344.1h0M398.1 337.8h0M402 337.1h0M364.2 348.1h0M354.5 348.2h0M417.8 348.3h0M411.3 342.5h0M373.4 348.9h0M374.7 350.3h0M366.5 349.2h0M364.1 348h0M397.8 338.7h0M383.7 348.6h0M356 347.8h0M397.6 341h0M351.1 349.1h0M419 350.8h0M418.6 349.7h0M417.4 347.6h0M382.6 349.2h0"/><path stroke="#0000ff" stroke-opacity="0.95" stroke-width="2.9" stroke-linecap="round" d="M400.6 311.7h0"/><path stroke="#ff0000" stroke-opacity="0.95" stroke-width="2.9" stroke-linecap="round" d="M377 348.9h0M409.5 336.8h0M401.2 332.4h0M351.5 351.2h0M366.9 348.3h0M377.6 345.3h0M387.1 346.5h0M354.3 348.8h0M355.4 346.2h0M411.9 342h0M394 339.3h0M376.6 343.7h0M408.8 342.1h0M403.3 339.6h0M411.3 341.2h0M392.9 341.8h0M366.7 350.1h0M375.2 349.5h0M400.6 324.4h0M406.1 324.4h0M398.5 327.7h0M404.1 330.4h0M397.1 333.7h0M408.2 333.7h0M368.6 341.7h0M375.6 343h0M366.5 347h0M389.5 345.7h0M402 333h0"/><path stroke="#c4c428" stroke-opacity="0.85" stroke-width="2.9" stroke-linecap="round" d="M376.2 345.4h0M365.9 350.3h0M401.5 333.5h0M413.4 343.1h0M369.6 351.5h0M397.1 336.3h0M397.7 334h0M380.4 343.7h0M356.6 349.8h0M382.5 348.9h0M372.4 345.6h0M384.8 349.1h0M375.8 344.3h0M370 347.7h0M394.7 342.2h0M366.7 346.8h0M361.6 350h0M385.3 316.4h0M383.2 332.4h0M387.4 338.3h0M409.6 327h0M351.9 339h0M359.6 345h0"/></g><g clip-path="url(#c13)"><polygon fill="#bfbf00" points="421,364 422,363.6 423,363.8 424,363.8 425,363.4 426,363.3 427,363.7 428,363.3 429,363.5 429.9,363.9 430.9,363.9 431.9,363.3 432.9,363.3 433.9,363.4 434.9,363.9 435.9,362.3 436.9,361.5 437.9,360.5 438.4,360 438.9,359.5 439.9,357.7 440.9,356.3 441.9,354.9 442.9,353.3 443.8,351.5 444.6,350.5 444.8,349.9 445.8,347.6 446.8,344.7 447.8,342.4 448.8,340.1 449.5,338.7 449.8,338.4 450.8,338 451.8,337.5 452.8,337.2 453.8,336.9 454.8,337.2 455.8,336.9 456.5,336.7 456.8,336.5 457.7,337 458.7,337.1 459.7,337.7 460.7,337.8 461.3,338.3 461.7,338.5 462.7,339.1 463.7,340.6 464.7,340.7 465.5,341.9 465.7,342.3 466.7,344.3 467.7,347 468.7,349.9 469.7,352.3 470.4,353.7 470.7,354.2 471.6,355.4 472.6,356.2 473.6,357.6 474.6,358.8 475.6,359.8 475.9,360.5 476.6,360.6 477.6,361.3 478.6,361.2 479.6,362 480.1,361.9 480.6,362.5 481.6,362.8 482.6,362.6 483.6,362.8 484.6,363 485.5,362.8 486.5,363 487.5,363.3 488.5,363.5 489.5,363.4 490.5,363.6 491.5,377.2 420,377.2"/><path stroke="#bfbf00" stroke-width="3" stroke-linecap="round" d="M444 350.5h0M468 346.5h0M468.6 349.2h0M458.3 337.2h0M442.5 353.7h0M433.7 362.4h0M477.8 359.3h0M463.7 340.1h0M486.6 362.6h0M445 348.1h0M464.9 339.3h0M423 363.5h0M464.6 339.3h0M450.8 336.6h0M481.4 361.1h0M471.4 354.4h0M443.2 351.2h0M457.2 335.5h0M462.3 337.8h0M476.2 359.3h0M430.5 363.3h0M483.2 362.1h0M459 337.3h0M485.9 361.1h0M454.9 334.8h0M444.2 349.6h0M453.1 336.8h0M480.8 360.9h0M421.8 363.7h0M475.4 358.8h0M428.8 361.7h0M485.9 362.2h0M480.8 362h0M473.2 356.8h0M438.6 358.4h0M451.2 337.5h0M476.2 360h0M461.3 337.4h0M434.5 363h0M466.4 343.1h0M471.5 355.1h0M486.6 361.3h0M441 355.4h0M468.9 348.8h0M485.7 362h0M474.2 356.3h0M440.4 355.1h0M476 359.4h0M487.2 362.5h0M443.6 350.7h0M447.1 342.8h0M428.5 363h0M442.8 352.2h0M470.3 352.1h0M451.6 336.4h0M443.5 351.5h0M427.9 362.5h0M428.6 363h0M441.7 355h0M454.6 336.3h0M457.4 336.5h0M469.7 351.4h0M423.2 361.9h0"/><path stroke="#0000ff" stroke-opacity="0.95" stroke-width="2.9" stroke-linecap="round" d="M450.2 311.7h0M450.2 333.7h0M432.8 361.6h0M487 359.6h0"/><path stroke="#ff0000" stroke-opacity="0.95" stroke-width="2.9" stroke-linecap="round" d="M450.6 339h0M458.8 338.1h0M455.1 337.7h0M464.8 337h0M463.4 341.7h0M450.9 343h0M430.7 358.3h0M435.6 362.3h0M480.8 357h0M452.3 339.7h0"/><path stroke="#c4c428" stroke-opacity="0.85" stroke-width="2.9" stroke-linecap="round" d="M473.2 357.7h0M465.2 340.8h0M487.9 363.3h0M438.6 359.1h0M424 364.9h0M439.2 358.2h0M477.9 362.2h0M434.7 364.6h0M451.6 323.1h0M455.1 322.4h0M459.2 322.4h0M461.3 324.4h0M450.9 328.4h0M456.5 327h0M475.9 356.3h0M442.6 350.3h0"/></g><g clip-path="url(#c14)"><polygon fill="#bfbf00" points="492.2,370 493.2,369.8 494.2,369.6 495.2,369.2 496.2,369.2 497.1,369.4 498.1,369.4 499.1,368.7 500.1,368.7 501.1,369.2 502.1,368.5 503.1,368.9 504.1,368.6 505.1,368.7 506.1,368.8 507.1,368.5 508.1,368.3 509.1,368.2 509.6,368.4 510.1,367.7 511,366.2 512,364.9 513,363.6 514,361.5 515,359.6 515.8,358.3 516,354.9 517,340.1 517.2,337.3 518,337.4 519,337.2 520,337.5 521,338.2 522,337.9 523,338.6 523.5,338.1 524,338.4 524.9,337.4 525.9,337.5 526.9,337.3 527.9,336.7 528.9,336.4 529.9,336.2 530.4,336.1 530.9,336.5 531.9,339 532.5,340 532.9,345 533.9,356.7 534.9,358.6 535.9,360.9 536.9,362.3 537.4,363.3 537.9,363.8 538.8,365.5 539.8,366.1 540.8,367.1 541.8,368.6 542.2,369.1 542.8,369.1 543.8,369 544.8,369.1 545.8,369.2 546.8,368.9 547.8,369.4 548.8,369.3 549.8,369.5 550.8,369.5 551.8,369.5 552.7,369.3 553.7,369.3 554.7,369.5 555.7,369.5 556.7,369.1 557.7,369.8 558.7,369.3 559.7,369.5 560.7,369.5 561.7,369.3 562.7,377.2 491.2,377.2"/><path stroke="#bfbf00" stroke-width="3" stroke-linecap="round" d="M532.4 339.3h0M548.7 368.5h0M513.5 361.9h0M558.8 368.9h0M550.8 367.3h0M540.1 365.1h0M503.5 367.4h0M504.5 366.8h0M506.8 367h0M509.5 368h0M498 367.6h0M496 368.4h0M508.1 367.5h0M508.7 366.8h0M526.1 335.5h0M553.7 368.5h0M519.7 336.7h0M558 368.5h0M519.6 336h0M518.6 337h0M534.8 357.3h0M554.6 367.6h0M516.9 341.1h0M555.8 368.4h0M493 368.7h0M521.9 336.1h0M516.4 348.8h0M494.8 367.8h0M503.8 368.4h0M513.6 362.1h0M539.1 363.6h0M522.6 336.4h0M547.7 368.2h0M517.8 336.9h0M549.3 367.3h0M498.8 367.8h0M513.9 360.8h0M521.9 338.1h0M538.8 365.3h0M535.2 357.9h0M531.6 336.8h0M532.8 342.1h0M556.9 368.1h0M554.3 367.8h0M506.6 367h0M549.4 368.9h0M544 368.2h0M502.3 367.3h0M494.4 369.4h0M501.1 368.4h0M492.2 368.2h0M534.1 355.8h0M497 369.1h0M512.1 362.8h0M541.1 367.9h0M530.1 333.9h0M521.2 337.2h0M509.2 367.2h0M543.7 368.4h0M550 369.2h0M528.2 336.6h0M500.3 368.1h0M539.1 365.5h0"/><path stroke="#0000ff" stroke-opacity="0.95" stroke-width="2.9" stroke-linecap="round" d="M522.1 328.4h0M560.3 364.3h0"/><path stroke="#ff0000" stroke-opacity="0.95" stroke-width="2.9" stroke-linecap="round" d="M525 339h0M530.7 334.1h0M526.3 336h0M517.8 338.5h0M525.7 334h0M522.7 336.5h0M519.8 338.5h0M517.7 334.1h0M521.2 335.5h0M503.8 367.4h0M493.6 367.3h0M507.3 366.1h0M496.5 366.5h0M501.2 366.6h0M505.2 367.2h0M506.7 366.3h0M495.7 366h0M492.9 366.6h0M501.2 367.8h0M503.3 366.7h0M501.3 369.2h0M497.1 366.7h0M495 369.2h0M501.9 367.6h0M499.8 366.2h0M495.6 368.3h0M496 367.7h0M506 366.6h0M499.4 368.5h0M557.1 368.7h0M560.1 367.9h0M547.7 367.6h0M560.4 366.6h0M548.9 366.6h0M559.5 366.3h0M546.3 368h0M556.8 367.3h0M557.1 368.3h0M550.7 366.2h0M556.1 368h0M560.9 368.3h0M544.7 366.6h0M549.2 368.4h0M549.2 366.7h0M547 366.8h0M552.6 368.3h0M558.9 366.3h0M520 321.1h0M526.9 324.4h0M531.1 325.7h0M531.1 334.4h0M520.7 338.3h0M524.8 337h0M532.5 339h0M526.9 343h0M499.1 361.6h0M504.7 364.3h0M504.7 366.9h0M522.8 336.4h0"/><path stroke="#c4c428" stroke-opacity="0.85" stroke-width="2.9" stroke-linecap="round" d="M525 337.7h0M521.7 336.6h0M518 337.7h0M533.1 345.1h0M530.3 333.6h0M521.8 337.6h0M520.7 327h0M511.6 361.6h0"/></g><g clip-path="url(#c15)"><polygon fill="#bfbf00" points="563.4,371.7 564.3,371.3 565.3,371.5 566.3,371.6 567.3,371.2 568.3,371.4 569.3,371.2 570.3,371 571.3,371.1 572.3,371.3 573.3,370.9 574.3,371.2 575.3,371 576.3,370.8 577.2,371 578.2,370.9 579.2,370.9 580.2,371.2 581.2,371.1 582.2,370.7 583.2,371.1 584.2,370.9 585.2,371.1 585.6,371 586.2,347.4 586.3,343.3 587.2,336.5 587.7,332.5 588.2,333.2 589.2,334.8 590.2,337.1 591.1,339 592.1,338.3 593.1,337.5 594.1,336.8 595.1,335.8 595.3,335.5 596.1,335.9 597.1,336.3 598.1,336.8 599.1,337.1 600.1,337.7 600.2,337.5 601.1,344.4 601.6,348.4 602.1,363.1 602.3,369 603.1,369.6 604.1,370.3 605.1,371.4 606,371.3 607,371.3 608,371.2 609,371.2 610,371.4 611,371.6 612,371.6 613,371.7 614,371.5 615,371.1 616,371.2 617,371.2 618,371.6 619,371.3 619.9,371.6 620.9,371.4 621.9,371.5 622.9,371.6 623.9,371.5 624.9,371.2 625.9,371.5 626.9,371.3 627.9,371.7 628.9,371.3 629.9,371.3 630.9,371.7 631.9,371.4 632.9,371.2 633.9,377.2 562.4,377.2"/><path stroke="#bfbf00" stroke-width="3" stroke-linecap="round" d="M618.7 371.4h0M597.6 335.2h0M623.5 370.5h0M580.4 369.5h0M624.6 370.3h0M571.7 370.3h0M612 371.5h0M578 370.5h0M582.1 370.7h0M597.2 335.9h0M621.6 370.8h0M596.1 334.4h0M574.9 370.7h0M616.2 370.9h0M566.8 371h0M622.4 371.3h0M615.5 371h0M587.6 331.5h0M576.6 370.6h0M586.9 338.2h0M579.5 369.9h0M569.3 370.2h0M617.4 371.2h0M627.1 370h0M611 370.8h0M587.6 332.4h0M610.8 370.4h0M621.1 370.6h0M596.1 335.1h0M596.4 334.5h0M620.3 370.4h0M594.6 334.9h0M602.8 367.9h0M565.4 370.2h0M624.4 371h0M613.5 370.1h0M594.7 335.7h0M615.1 370.7h0M568.7 370.4h0M629.2 371.4h0M606 370.5h0M605.2 370.9h0M595.5 335.4h0M602.5 367.7h0M614.2 371h0M570.4 370.6h0M631.3 371h0M610.2 370.7h0M592.9 337.5h0M582.9 370.1h0M569.9 370.6h0M609.4 371h0M631.3 370.4h0M577.8 370.1h0M586.6 340.7h0M577.8 370.3h0M632.8 370.6h0M595.2 334.8h0M585.8 362h0M621.5 370h0M568 371.1h0M613.7 370.6h0M596.7 335.3h0"/><path stroke="#0000ff" stroke-opacity="0.95" stroke-width="2.9" stroke-linecap="round" d="M591.1 311.1h0M593.2 332.4h0M598.1 331h0M598.1 336.4h0M574.5 368.9h0"/><path stroke="#ff0000" stroke-opacity="0.95" stroke-width="2.9" stroke-linecap="round" d="M589.8 324.4h0M594.6 333h0M598.8 337h0M593.2 337.7h0M568.9 370.3h0M623.8 369.6h0M619 369.6h0M628 369.6h0M571.7 370.3h0"/></g><g clip-path="url(#c16)"><path stroke="#0000ff" stroke-opacity="0.95" stroke-width="2.9" stroke-linecap="round" d="M660.9 315.1h0M668.6 326.4h0M680.4 316.4h0M676.9 320.4h0M680.4 333.7h0M664.4 336.4h0M672.7 343h0M683.2 341h0M683.2 353.6h0M688 353h0M685.3 357.6h0M688.7 357.6h0M691.5 366.3h0"/><path stroke="#ff0000" stroke-opacity="0.95" stroke-width="2.9" stroke-linecap="round" d="M689 352.6h0M683 367.9h0M684.4 352.6h0M685.6 347.5h0M688.6 366.9h0M690.3 365.2h0M682.2 361.7h0M677 346h0M696.5 368.5h0M684.5 357.3h0M680.2 351.5h0M673.8 347.6h0M676.2 349.5h0M688.3 365.9h0M673.4 339.8h0M687.3 368.7h0M685.8 353.7h0M689 357.1h0M673.1 343.2h0M677.4 346.8h0M689.8 357h0M675.5 346.5h0M675.9 337.8h0M684.8 364.9h0M688.8 363.1h0M673 350.9h0M679.1 343.4h0M676.7 364.9h0M683.2 350.5h0M689.2 358.7h0M688 364.5h0M686.7 350.2h0M676.6 338.1h0M685.4 367.1h0M689.4 358.6h0M671.5 338.7h0M687 365.1h0M678.1 358.3h0M685.6 350h0M692.1 363.5h0M684.1 354.1h0M672.2 346h0M683.9 367.7h0M674.7 343.1h0M683.9 350.7h0M677.7 346.7h0M676.7 350.7h0M681.7 350.4h0M684.9 355.7h0M677.7 353.6h0M685.7 364.3h0M678.1 339.9h0M680 363.8h0M682.9 347.8h0M683.9 358.7h0M674.2 338.1h0M686.7 352h0M676.7 350h0M686.3 350.1h0M676.8 343.9h0M672.3 337.5h0M685.2 367.3h0M684.9 353.3h0M688.8 365.4h0M686.4 353.2h0M689 366.7h0M676.9 344.7h0M682.7 359.1h0M676.4 363.2h0M680.3 368.7h0M676.4 363.4h0M686.3 362.9h0M677.6 368.2h0M673.2 348.7h0M687.4 366.6h0M682.2 359h0M678.9 339.7h0M686.8 357h0M693.8 368h0M682.9 352.8h0M674.1 347.3h0M694.5 367.6h0M683.6 357.4h0M682.7 352.4h0M685.1 357.4h0M673.9 348.6h0M680.6 362.8h0M675.7 349.1h0M681.2 343.1h0M689.8 357.2h0M677 345.2h0M694 365.3h0M693.2 365.9h0M682.8 360.9h0M688.6 352.4h0M676.3 345.7h0M689.7 357.3h0M680.7 350.7h0M676 358.9h0M683 357.3h0M678.6 341.6h0M677.4 358.2h0M673.4 340.6h0M680.6 354h0M687.2 359.5h0M694 366.5h0M675.2 345.8h0M675.9 338.6h0M686.5 353.8h0M675.3 349.1h0M674.4 353.9h0M672.6 344.1h0M684.2 348.3h0M674.2 357.7h0M676.8 345.8h0M679.5 366.5h0M674.9 353.5h0M685 350.8h0M683.8 350.7h0M678.6 354.4h0M675.7 351.4h0M680.2 344.3h0M685.9 348.8h0M684.1 348h0M691.1 365h0M680.9 358.2h0M690.9 368.3h0M677.1 336.7h0M687.1 366.6h0M679.1 359.7h0M681.4 346.1h0M691.2 365.5h0M688.7 365.6h0M683.8 367.2h0M680.6 359.5h0M675.3 350.3h0M675.8 346.1h0M682.7 355.5h0M672.7 346.8h0M679.7 354h0M681.2 344.8h0M674.4 358.5h0M681.4 343.7h0M678.1 343.2h0M687.7 364.1h0M689.4 354.3h0M679.9 343h0M685.9 355.7h0M675.8 356.6h0M681.5 360.6h0M677.1 364.6h0M676 338.2h0M685.5 348.6h0M682 364.4h0M682.7 346.5h0M688.2 357.7h0M688.3 351.4h0M679.8 363.3h0M690.6 358.8h0M682.5 349.9h0M681.4 368h0M688.8 360.3h0M694.6 365.8h0M678.4 350.4h0M675.1 343.4h0M676.7 350.9h0M674.9 358.5h0M678.5 360.4h0M682.5 358.7h0M672.4 350.7h0M674.9 340.1h0M679.7 357.7h0M679.5 353.2h0M673.2 354.6h0M687.3 362.5h0M688.9 370.5h0M676.8 338.4h0M676.7 348.1h0M677.5 357h0M684.9 357h0M674.1 352.6h0M676.3 341.2h0M674.9 355.7h0M676.1 358.7h0M688.9 365.8h0M683.8 360.5h0M690.6 369.2h0M683.4 357.9h0M679.1 347.5h0M676.5 349.1h0M678.7 346.4h0M678.9 367.7h0M682.2 358.7h0M662.3 318.4h0M675.5 326.4h0M676.9 331.7h0M695 368.3h0M665.8 336.4h0M674.8 336.4h0M678.3 335h0"/><polygon fill="#bfbf00" points="634.5,372.2 635.5,372.3 636.5,371.8 637.5,372.4 638.5,372.3 639.5,371.8 640.5,372.3 641.5,372.3 642.5,371.9 643.5,372.4 644.4,372 645.4,372.1 646.4,372.2 647.4,372.2 648.4,372.2 649.4,372 650.4,372.1 651.4,371.9 652.4,372 653.4,372.1 654.4,371.8 655.4,372 656.4,372.3 657.4,371.9 658.3,372.1 659.3,371.8 659.5,372.2 659.9,335.3 660.3,335.3 661.3,335.7 662.3,335.5 663.3,335.6 664.3,335.6 665.1,335.5 665.3,336.2 666.3,339.9 666.5,340.6 667.3,337.4 668.3,333.3 668.6,332.1 669.3,332.8 670,332.7 670.3,334.2 671.3,339.3 672,343.3 672.2,344.4 673.2,347.8 673.4,348.3 674.2,349.9 675.2,351.5 676.2,353.2 677.2,355 678.2,357 679.2,358.6 680.2,360.5 681.2,362.3 681.8,363.5 682.2,364.1 683.2,364.9 684.2,365.5 685.2,366.7 686.1,367.8 687.1,368.6 688.1,369.3 688.7,369.9 689.1,370.2 690.1,370.4 691.1,370.4 692.1,370.7 693.1,370.7 694.1,371 695.1,370.8 696.1,371.3 697.1,371.3 698.1,371.1 699.1,371.3 700,371.5 701,371.9 702,371.9 703,371.7 704,372.2 705,377.2 633.5,377.2"/><path stroke="#bfbf00" stroke-width="3" stroke-linecap="round" d="M655.9 372h0M653.8 370.8h0M657.5 371.3h0M664.4 334.9h0M642 371h0M637.4 372.2h0M668.4 331.9h0M646.2 371.6h0M634.9 370.8h0M680.9 361.3h0M683.7 365.1h0M657.1 371.8h0M690.5 370.2h0M671.7 341.6h0M636.9 370.9h0M674.6 349.7h0M677 353.8h0M638 371.1h0M648.4 371.7h0M650.9 371.8h0M671.8 341.2h0M677.2 355h0M657.6 370.7h0M694.3 369.8h0M696.5 370.4h0M662.8 335.4h0M642.4 372h0M653.8 371.8h0M701 371.5h0M658 372.1h0M671.2 338.2h0M659.9 334.2h0M678.3 356.3h0M673.6 348.4h0M665.8 336.7h0M676.2 351.8h0M676.1 352.3h0M665.6 337.2h0M640.7 371.2h0M648.9 370.9h0M642.8 371h0M693.9 370.8h0M677.3 355h0M635.5 371.1h0M684.6 366.1h0M638.2 372.2h0M702 370.5h0M662.6 335.5h0M658.4 370.9h0M675 350.6h0M688.1 368.4h0M669.5 331.5h0M699.7 371.5h0M700.7 370.4h0M646.9 371.9h0M667.2 337.6h0M679.3 357.5h0M642.5 371.8h0M653.5 371.2h0M677.5 354.2h0M641.4 371.4h0M635.8 371.1h0M661.5 334.2h0"/><path stroke="#c4c428" stroke-opacity="0.85" stroke-width="2.9" stroke-linecap="round" d="M667.2 320.4h0M665.8 323.7h0M669.3 331.7h0"/></g><g clip-path="url(#c20)"><polygon fill="#bfbf00" points="207.5,421.3 208.5,421.5 209.5,422.2 210.5,421.4 211.5,422.4 212.5,421.6 213.5,421.2 214.4,421.8 215.4,421.4 216.4,421.2 217.4,421.6 218.4,421.8 219.4,421.5 220.4,422.4 221.4,421.6 222.4,422.2 223.4,421.7 224.4,421.3 225.4,421.8 226.4,422.2 227.4,421.9 228.3,422.1 229.3,421.4 230.3,421.4 231.3,421.4 232.3,421.9 233.3,422.4 234.3,421.7 235.3,422.3 236.3,421.4 237.3,421.5 238.3,422.1 239.3,422.3 240.3,422.3 241.3,421.4 242.2,422 243.2,421.5 244.2,422.2 245.2,422 246.2,422.2 247.2,422.3 248.2,422.6 249.2,421.8 250.2,422.6 251.2,421.6 252.2,422.4 253.2,421.3 254.2,422.2 255.2,422.4 256.1,422 257.1,421.7 258.1,422.3 259.1,422.3 260.1,422.2 261.1,421.7 262.1,421.9 263.1,421.2 264.1,421.9 265.1,421.6 266.1,422.1 267.1,421.2 268.1,421.8 269.1,421.4 270.1,421.7 271,422.6 272,422.3 273,422.1 274,421.7 275,421.3 276,421.2 277,422 278,447 206.5,447"/><path stroke="#bfbf00" stroke-width="3" stroke-linecap="round" d="M275.9 421.1h0M222.2 422h0M223.2 418.6h0M242.9 420.1h0M212.3 421.8h0M227.8 419.9h0M210.3 418.5h0M273.4 422h0M250.8 418.6h0M217.5 418.9h0M208.3 421.4h0M239.1 418.5h0M226 420.1h0M243.5 420.3h0M216.8 421.4h0M214.3 420h0M258.2 418.8h0M209 422.1h0M255.7 419.1h0M253.4 418.8h0M264.9 418.5h0M215.2 419.2h0M251 421.6h0M224.4 421.3h0M236.2 420.1h0M254.5 419.3h0M256.7 419.7h0M218.5 420.8h0M243.1 418.6h0M273.2 421.3h0M238.6 421.4h0M260.7 418.5h0M211.6 420.2h0M236.9 420.9h0M218.8 418.9h0M233.9 422.1h0M208.8 422h0M248.7 419.7h0M214.3 420h0M237.7 418.6h0M235.4 421.8h0M273.9 421h0M234.6 421.6h0M210.3 421.1h0M256.5 419h0M232.9 419.9h0M262.6 420.6h0M224.2 421.5h0M241.3 421.3h0M232.3 419.7h0M230.7 419h0M260.8 420.8h0M234.8 420.6h0M255.3 422h0M216.9 418.8h0M269 421.9h0M257.8 420.4h0M274.1 421.7h0M214 421h0M263.6 419.4h0M263.8 421.8h0M242 420h0M248.1 421.4h0"/><path stroke="#0000ff" stroke-opacity="0.95" stroke-width="2.9" stroke-linecap="round" d="M240.7 408.4h0M223 418.5h0M250.8 415.3h0M219.4 421.7h0M246.4 413.8h0M267.7 421.5h0M263.3 422.4h0M221.6 420.5h0M239.9 422.7h0M210.3 422.5h0M226 422.6h0M211 392.1h0M276.3 394.8h0M257.5 398.1h0M219.3 401.4h0M220 402.8h0M231.1 400.8h0M233.9 402.1h0M245.7 405.4h0M236.7 410.1h0M265.2 411.4h0"/><path stroke="#ff0000" stroke-opacity="0.95" stroke-width="2.9" stroke-linecap="round" d="M252.7 408.4h0M226.1 417.8h0M263.6 416.2h0M268.3 415.5h0M238 422.7h0M230.2 419.3h0M225.6 421.8h0M215.6 419.4h0M217.7 408.9h0M257.5 421.8h0M265.1 408.2h0M267.7 417.4h0M217.4 416.2h0M230.7 415.6h0M249 412.4h0M233.8 409.1h0M242.3 422.7h0M258 421.1h0M234.1 419.5h0M227.3 420.8h0M239.5 408.1h0M220.8 422h0M239.3 411.3h0M209.7 414.2h0M267.3 408.1h0M239.8 421.6h0M266.1 422.5h0M254.2 411.6h0M233.1 422.4h0M236.1 420h0M236.9 419.7h0M242.6 419.4h0M225.7 418.9h0M227.8 412.7h0M246.1 412.6h0M265.8 420.4h0M239.8 409.5h0M235.9 418.1h0M242.9 395.5h0M214.4 403.4h0M223.5 407.4h0M237.4 407.4h0M258.9 408.1h0M208.9 412.8h0M228.3 409.4h0M271.4 407.4h0M207.5 416.1h0M211 419.4h0"/><path stroke="#c4c428" stroke-opacity="0.85" stroke-width="2.9" stroke-linecap="round" d="M230 422h0M246 416.2h0M267.1 413.4h0M237.3 415h0M212.3 422.5h0M227.4 422h0M249.2 421.9h0M218.7 410.9h0M260.1 415.2h0M257.9 419.8h0M213.7 422.4h0M219.2 418.5h0M222.4 409.9h0M237.7 417.3h0M209.3 413h0M240.3 422.7h0M249.5 411.9h0M257.7 414.9h0M254.6 417.9h0M217.5 420.5h0M232.2 411.2h0M266.3 414.4h0M267.8 420.8h0M272.9 412h0M218.4 414.5h0M268.6 422.4h0M234.8 422.3h0M221 420.1h0M234.3 416.6h0M220.3 409.6h0M249.8 416.3h0M276.3 414.9h0M240.7 415.5h0M215.4 422.1h0M236.1 418.6h0M246 418.8h0M214.1 409h0M258.9 422.7h0M225.4 420.7h0M245.7 409.4h0M266.6 414.1h0"/></g><g clip-path="url(#c21)"><polygon fill="#bfbf00" points="278.7,423.3 279.7,423.6 280.7,423.2 281.6,423.6 282.6,424.2 283.6,424.2 284.6,423.8 285.6,424.2 286.6,423.8 287.6,424.4 288.6,424 289.6,423.4 290.6,424 291.6,423.9 292.6,423.9 293.6,423.5 294.6,424.2 295.5,423.5 296.5,423.6 297.5,423.5 298.5,423.6 299.5,423.4 300.5,424.2 301.5,424.1 302.5,423.2 303.5,424 304.5,423.3 305.5,424.1 306.5,423.8 307.5,423.9 308.5,424.3 309.4,424.3 310.4,424.1 311.4,423.6 312.4,423.3 313.4,424 314.4,423.9 315.4,424.4 316.4,424.4 317.4,423.5 318.4,423.8 319.4,424.2 320.4,423.8 321.4,424.5 322.4,423.2 323.3,423.8 324.3,424.4 325.3,424.5 326.3,423.9 327.3,423.5 328.3,424 329.3,423.6 330.3,424.2 331.3,423.7 332.3,423.5 333.3,424 334.3,424.3 335.3,423.9 336.3,424 337.2,424 338.2,423.9 339.2,423.2 340.2,423.7 341.2,424.4 342.2,423.9 343.2,424.3 344.2,424.5 345.2,423.2 346.2,424.2 347.2,423.9 348.2,423.2 349.2,447 277.7,447"/><path stroke="#bfbf00" stroke-width="3" stroke-linecap="round" d="M293.9 422.2h0M310.7 423.6h0M303.4 423.3h0M307.2 423.9h0M346.6 421h0M335.5 420.8h0M302 423.7h0M308.8 420.5h0M279 424.1h0M338.4 424h0M302.3 421.5h0M326.3 420.6h0M320.3 421h0M291.6 423.2h0M295.2 424.1h0M325.2 422.6h0M323.3 421.3h0M345.2 420.5h0M341.7 422.4h0M320.5 422.4h0M305.6 421h0M303.1 422.8h0M300.3 423.4h0M326.8 420.5h0M285.1 423.6h0M315.8 420.9h0M315.5 422.4h0M327.9 422.2h0M343.4 420.5h0M340.4 423h0M304.8 420.8h0M288.7 423h0M325 422.4h0M284.4 420.8h0M312.5 420.8h0M299.1 420.5h0M294.4 422.5h0M334.6 420.4h0M299.5 421.6h0M294 421.9h0M278.7 421.1h0M297.1 423.6h0M299.4 423h0M331.8 423h0M308.8 421.6h0M315.2 421.7h0M299.9 421.8h0M282.7 422.6h0M306.4 420.6h0M302.2 420.6h0M313.5 422.4h0M346.2 421h0M318.4 423.3h0M295.5 422.1h0M319.2 420.8h0M309.8 423.8h0M342 423.8h0M279.6 422.9h0M329.9 421.6h0M295.2 422.9h0M302.9 423.8h0M300.8 423.6h0M327.3 421.8h0"/><path stroke="#0000ff" stroke-opacity="0.95" stroke-width="2.9" stroke-linecap="round" d="M324.1 418.6h0M288.1 424.1h0M321.4 420.2h0M290.9 424.6h0M327.9 424.2h0M299.5 414.3h0M347.8 417h0M301.3 424.6h0M319.5 424.7h0M288.6 423.6h0M343.9 417.9h0M298.1 392.1h0M307.2 393.5h0M304.4 400.8h0M323.8 399.4h0M294 414.1h0M337.1 412.8h0M346.8 417.4h0M280.1 414.7h0"/><path stroke="#ff0000" stroke-opacity="0.95" stroke-width="2.9" stroke-linecap="round" d="M331.5 419.9h0M327.4 416.7h0M340.7 420.8h0M303.9 423.2h0M281.7 419.4h0M319.4 416.8h0M339.5 423.6h0M294.7 414.1h0M295.8 421.3h0M332.5 423.8h0M328.9 419.8h0M282.6 422.6h0M291.1 414.5h0M322.5 415.8h0M333.3 421.4h0M333.2 424.3h0M342 422.3h0M331.6 424h0M289.4 421h0M294 396.8h0M303 412.8h0M307.9 412.8h0M289.1 419.4h0"/><path stroke="#c4c428" stroke-opacity="0.85" stroke-width="2.9" stroke-linecap="round" d="M328.3 415.7h0M298.3 424.4h0M327 419.1h0M280 414.9h0M338.2 420.9h0M284.3 421.5h0M323.1 416.5h0M295.2 423h0M332 420.4h0M297.5 416.5h0M325.8 416.4h0M286.3 424.7h0M294.7 421.3h0M327.4 422.2h0M284.2 423.6h0M311.6 424.4h0M317.2 416.6h0M332.1 423.4h0M311.3 424.7h0M297.1 423.7h0M294.4 415.2h0M335 421.2h0M341.4 422.1h0M330.2 418.5h0M335.1 415.9h0M339.1 415.6h0M304.4 416.5h0M282 418.6h0M290.7 420.2h0M341.8 421.2h0M316.2 406.1h0M296.7 410.1h0M330.8 414.1h0"/></g><g clip-path="url(#c22)"><polygon fill="#bfbf00" points="349.8,417.4 350.8,417.3 351.8,417 352.8,416.8 353.8,417.4 354.8,417.8 355.8,417.1 356.8,417.7 357.8,416.7 358.8,417.4 359.8,417 360.8,417.4 361.8,417.5 362.7,417.9 363.7,417.5 364.7,417.9 365.7,417.3 366.7,417.1 367.7,417.5 368.7,417.8 369.7,417.9 370.7,417.1 371.7,417.4 372.7,417.4 373.7,417.7 374.2,418.2 374.7,416.9 375.7,415.6 376.6,415.5 377.6,414.4 378.6,413.2 379,411.9 379.6,411.9 380.6,411.5 381.6,412 382.6,410.7 383.6,410.3 384.6,410.1 385.6,411 386.6,410.5 387.6,411.7 388.6,411.1 389.6,411.8 390.2,411.4 390.5,412 391.5,414.1 392.5,415.6 393.5,416.1 394.5,417.5 395,417.9 395.5,418.1 396.5,418.3 397.5,418.5 398.5,418.6 399.5,418.3 400.5,418.1 401.5,418.6 402.5,418.4 403.5,418.4 404.4,419.2 405.4,418.8 406.4,418.1 407.4,419.3 408.4,419.3 409.4,418.7 410.4,419.4 411.4,418.4 412.4,419.4 413.4,418.5 414.4,419.4 415.4,419.2 416.4,419.5 417.4,418.8 418.3,419.2 419.3,419.6 420.3,447 348.8,447"/><path stroke="#bfbf00" stroke-width="3" stroke-linecap="round" d="M358.8 414.9h0M388.6 408.8h0M353.6 414.2h0M374 416.8h0M382.2 410.2h0M351.7 414.5h0M389.1 409h0M350.7 414.3h0M395.1 418.5h0M384.3 407.5h0M363.4 416.6h0M404.9 416.3h0M382.3 408.4h0M387.4 410.5h0M384.6 409.9h0M366.1 416.7h0M382.6 410.1h0M354.9 415.7h0M392.9 413.3h0M388.3 408.4h0M378.9 412.6h0M394.8 416.7h0M410.4 418h0M385.2 408.8h0M410.6 417.6h0M383.7 408.9h0M360.5 415h0M391.7 412.6h0M403.7 417.1h0M376.6 413.9h0M367.3 417.6h0M394 415h0M384 410.3h0M415.9 418.2h0M410.8 418.4h0M375.4 414.8h0M382.2 408.5h0M390.9 411.6h0M404.5 416.8h0M417.8 418.4h0M390.1 409.5h0M414.8 418.1h0M393.9 414.5h0M363.6 415.1h0M413.7 417.3h0M398.6 417.7h0M406.3 416.6h0M363.9 417.5h0M359.6 417.5h0M377.4 411.3h0M370.8 417.1h0M378 411h0M355.2 414.4h0M389.6 409.8h0M397 415.9h0M369.6 416.4h0M372.5 416.9h0M368 417h0M396 416.8h0M398.8 416.6h0M413.8 418.3h0M369.7 417.3h0M393.5 416h0"/><path stroke="#0000ff" stroke-opacity="0.95" stroke-width="2.9" stroke-linecap="round" d="M352.9 417.2h0M354.1 415h0M379.1 412.6h0M367.8 418.2h0M395.4 414h0M388.8 390.8h0M349.8 407.4h0"/><path stroke="#ff0000" stroke-opacity="0.95" stroke-width="2.9" stroke-linecap="round" d="M399.2 411.5h0M390.9 410.3h0M416.1 413h0M414.4 415.1h0M354.5 411.2h0M376.1 413.4h0M368.1 418.5h0M412.5 414.4h0M373.6 416.2h0M385.3 404.6h0M394.4 413.8h0M370.6 415.7h0M364.4 415.5h0M386.3 402.7h0M393.3 409.6h0M352.9 418h0M354.4 410.2h0M366 412.9h0M409.7 418.1h0M408 419.6h0M376.3 411h0M378.9 408.9h0M388.6 403.9h0M366.3 412.4h0M385.3 409.4h0M360.8 412.8h0M391.6 414.1h0M379.7 382.8h0M383.2 388.8h0M362.4 394.1h0M369.3 398.1h0M368.6 404.1h0M388.1 396.8h0M397.1 400.8h0M381.1 404.8h0M386 400.8h0M388.1 406.1h0M379 408.1h0M358.2 416.1h0M370.7 416.1h0M411 408.1h0"/><path stroke="#c4c428" stroke-opacity="0.85" stroke-width="2.9" stroke-linecap="round" d="M373.8 413h0M386.3 406.4h0M373 418h0M361.4 415.8h0M376.3 413.9h0M401.9 417.7h0M383.5 411.8h0M405.4 413h0M360.4 418.1h0M409.5 412.2h0M387.9 407.9h0M372.9 416.8h0M403.3 419.3h0M402.6 413.3h0M372.8 412.2h0M367.2 414.5h0M384.6 382.8h0M396.4 392.1h0M377.6 399.4h0M384.6 401.4h0M413.8 408.1h0"/></g><g clip-path="url(#c23)"><polygon fill="#bfbf00" points="421,426.4 422,427.1 423,426.9 424,426.7 425,427.2 426,427.1 427,427.4 428,427.2 429,427.4 429.9,427.5 430.9,427.2 431.9,427.1 432.9,427.8 433.9,427.2 434.9,427.6 435.9,428.1 436.9,427.6 437.9,427.6 438.9,427.8 439.9,427.7 440.9,428.2 441.9,427.9 442.9,431.5 443.2,433.4 443.8,435.5 444.6,438.4 444.8,437.5 445.8,434.4 446,433.3 446.8,432.9 447.8,432.2 448.8,431.9 449.8,430.6 450.2,430.8 450.8,430.1 451.8,428.3 452.8,426.9 453,426.6 453.8,415.2 454.4,407.1 454.8,405.4 455.8,403 456.8,402.5 457.7,403.2 458.7,402.7 459.7,403.4 460.7,402.9 461.7,403.1 462.7,403.3 463.7,403.9 464.7,404.8 465.7,405.2 466.7,405.5 467.7,406.2 468.3,406.7 468.7,408.8 469.7,413.5 470.7,420.5 471.1,423.6 471.6,424.2 472.6,425.1 473.6,425.9 474.6,426.7 475.6,427.6 476.6,428.2 477.6,430.7 478.6,433.2 478.7,433.3 479.6,437.1 480.1,438.6 480.6,436.6 481.5,432 481.6,431.6 482.6,431.9 483.6,431.3 484.6,430.5 485.5,430.8 486.5,430.4 487.5,430.1 488.5,429.4 489.5,428.8 490.5,428.5 491.5,447 420,447"/><path stroke="#bfbf00" stroke-width="3" stroke-linecap="round" d="M458.4 402.5h0M459.7 401.7h0M431.3 427.4h0M490.4 428.8h0M457.1 401.1h0M436.3 426.9h0M481.5 431.5h0M428.5 427.1h0M465.6 404.1h0M474.5 425.2h0M458.5 401.1h0M426.3 427h0M450.3 430.2h0M446.8 431.7h0M428.7 427.1h0M438.5 427.5h0M433.4 426.2h0M427.2 426.6h0M484.8 430.2h0M465.8 403.8h0M487.2 428.2h0M438.4 427h0M465.5 403.7h0M462.1 401.6h0M424.4 425.8h0M461.1 403.2h0M453.5 419.8h0M474.3 426.2h0M470.3 416.8h0M465.2 404.4h0M438.7 426.2h0M443.5 433.5h0M424.5 425.7h0M431.1 427.4h0M452.4 426.7h0M430.7 426.3h0M487.9 429.5h0M484.4 429.3h0M480.8 435h0M447.3 431.3h0M484.4 429.6h0M439.4 427.3h0M456 401.7h0M450.5 429.8h0M471.2 422.5h0M486.3 428.8h0M440.4 426.8h0M421.2 425.8h0M454.2 408.3h0M452.3 426.6h0M461.3 402.5h0M444.8 437h0M481.2 431.5h0M483 429.8h0M432.9 426.4h0M489.7 427.5h0M424.5 426.6h0M456.4 401.1h0M482.9 430.8h0M468 404.9h0M463.6 402.1h0M438.8 427.1h0M490 428.9h0"/><path stroke="#0000ff" stroke-opacity="0.95" stroke-width="2.9" stroke-linecap="round" d="M460.6 382.8h0M465.5 398.1h0M441.9 426.1h0M488.4 427.4h0"/><path stroke="#ff0000" stroke-opacity="0.95" stroke-width="2.9" stroke-linecap="round" d="M425 427.4h0M439.7 424.7h0M422.2 425.1h0M441.8 425.2h0M432.3 426.6h0M429.7 425.5h0M432.8 427.1h0M425.6 424.5h0M430.4 427.6h0M438.8 424.6h0M436.2 427.4h0M438.4 424.5h0M421.3 425.9h0M440.8 427.4h0M427.2 427.5h0M437.9 425.8h0M424.8 424.8h0M428.3 424.7h0M431.5 426.4h0M441.3 424.6h0M423 426.4h0M424.3 424.9h0M433.3 426.7h0M437.1 425.6h0M423.9 424.4h0M437.5 426.8h0M422.8 426.3h0M422.1 425.9h0M438.4 427.6h0M433.2 427.3h0M431.3 427.6h0M425.8 424.4h0M431.1 427.7h0M434.3 426.7h0M437.3 426.7h0M488.2 426.9h0M484.6 428.6h0M483.8 427.5h0M483.6 427.9h0M485.7 428.7h0M484.3 426.3h0M481.5 425.8h0M483.8 428.5h0M459.2 382.8h0M457.1 391.5h0M455.8 396.1h0M464.1 396.1h0M468.3 399.4h0M436.3 416.1h0M480.1 422.7h0M484.9 426.1h0M455.8 409.4h0M462.7 409.4h0M459.2 404.8h0M466.9 407.4h0M469.7 419.4h0"/><path stroke="#c4c428" stroke-opacity="0.85" stroke-width="2.9" stroke-linecap="round" d="M457.1 402.8h0M461.3 400.8h0M466.2 409.4h0"/></g><g clip-path="url(#c24)"><polygon fill="#bfbf00" points="492.2,441.1 493.2,440.9 494.2,441.1 495.2,440.8 496.2,440.9 497.1,440.8 498.1,440.9 499.1,440.5 500.1,441 501.1,440.4 502.1,440.3 502.6,440.6 503.1,440.9 504.1,440.9 505.1,440.9 506.1,440.6 507.1,440.8 508.1,440.9 509.1,441 510.1,441 511,441.2 512,441.3 513,441.4 514,441.8 515,441.9 516,441.6 516.5,441.9 517,441.8 518,441 519,441.1 520,440.5 521,440 521.4,439.8 522,416.1 522.1,411.9 523,411.5 524,411.3 524.8,410.4 524.9,410.6 525.9,411 526.9,411 527.9,411.1 528.9,411.3 529.9,411 530.4,411.4 530.9,411.5 531.9,412.4 532.9,413 533.9,413.2 534.9,418.2 535.3,419.8 535.9,425.2 536.9,434.2 537.4,438.7 537.9,439.3 538.8,440.2 539.4,440.9 539.8,441.4 540.8,441.2 541.8,441.2 542.8,441.3 543.8,441.4 544.8,441.3 545.8,441.2 546.8,441.2 547.8,441.3 548.8,441.3 549.8,441.2 550.8,441.5 551.8,441.1 552.7,441.4 553.7,441.5 554.7,441.3 555.7,441.1 556.7,441.2 557.7,441.1 558.7,441.4 559.7,441.3 560.7,441 561.7,441.1 562.7,447 491.2,447"/><path stroke="#bfbf00" stroke-width="3" stroke-linecap="round" d="M545 439.9h0M544.3 440.6h0M503.7 439.7h0M554.6 439.9h0M525.3 410.7h0M512.3 441.2h0M520.5 440.2h0M557.3 440.9h0M506.4 440.9h0M516.1 441.6h0M538.4 439.4h0M519.5 440.4h0M560.3 441.1h0M549.8 440.1h0M509.3 440.8h0M524.1 410.9h0M527 410.9h0M493.2 441.1h0M512.5 441.1h0M533.2 412.4h0M523 411.2h0M552 440.3h0M542.2 440.5h0M538.7 439.5h0M539.5 440h0M520.4 440.1h0M504.5 440.3h0M523.9 410.3h0M510.2 440.9h0M503.5 439.7h0M498.7 440h0M496.7 440.2h0M527.3 409.6h0M499 439.9h0M556.3 440.5h0M534.7 415.8h0M545.4 439.8h0M559.8 440.7h0M520.6 440h0M505.7 439.9h0M547.9 441.1h0M512.9 440.3h0M540.7 440.4h0M554.6 441.3h0M561.4 440.7h0M560.2 440.9h0M508.8 441.1h0M495.8 440.3h0M508.8 440.7h0M529.9 410.6h0M548.4 440.3h0M526.5 410.7h0M518.2 439.9h0M527.2 410.1h0M528.9 410.5h0M516.8 440.9h0M555.6 440.7h0M549.9 439.9h0M533.4 411.7h0M505.9 440.4h0M543.6 440.7h0M519.9 439.3h0M553.8 440.7h0"/><path stroke="#0000ff" stroke-opacity="0.95" stroke-width="2.9" stroke-linecap="round" d="M536.7 422.7h0"/><path stroke="#ff0000" stroke-opacity="0.95" stroke-width="2.9" stroke-linecap="round" d="M530.4 399.4h0M529 401.4h0M531.8 398.1h0M530.4 409.4h0M535.3 411.4h0M526.9 412.8h0M532.5 412.8h0M504.7 438h0M506.1 438h0M502.6 438.7h0M556.1 436h0M558.2 437.4h0M554.7 438h0M495.7 440h0"/></g><g clip-path="url(#c25)"><path stroke="#0000ff" stroke-opacity="0.95" stroke-width="2.9" stroke-linecap="round" d="M612 394.8h0M609.2 406.1h0M619.6 427.4h0M621 430h0M593.2 403.4h0"/><path stroke="#ff0000" stroke-opacity="0.95" stroke-width="2.9" stroke-linecap="round" d="M622.4 436.8h0M619.1 433.5h0M615.5 425.9h0M614.1 434.8h0M613.2 422.1h0M621.5 436.6h0M619.5 438.4h0M613.4 430.1h0M617.7 432.5h0M613.5 426.3h0M611.2 427.4h0M612.1 427.2h0M619.2 436.5h0M623.9 436.1h0M608.9 416.1h0M607.6 411.6h0M614.8 416.8h0M624.9 437.1h0M613.5 431.4h0M615.1 425.7h0M613 427.4h0M620.7 430.1h0M611.4 417.3h0M608 413.6h0M608.6 408.5h0M617.7 426.6h0M606.6 405.6h0M626.1 438.5h0M620.5 432.8h0M612.2 415.4h0M611.5 414.2h0M620.9 431.3h0M618.9 420.8h0M624.4 437.7h0M617.8 436.2h0M618.7 427.9h0M609.1 413.5h0M615.7 437.2h0M607.3 406.5h0M623.2 436.3h0M617.4 420.8h0M621.8 434.9h0M614.3 421.3h0M613.9 418.2h0M612.3 428.3h0M614.5 425.3h0M620.6 426.1h0M624.8 438.2h0M613.5 435.4h0M610.2 410.6h0M625.8 438.1h0M614.4 420.8h0M609.9 423.3h0M619.4 429.2h0M618.3 434.2h0M610.7 426.8h0M614.6 426.7h0M606.9 408h0M617.6 435.6h0M616.2 429.3h0M616.9 426.4h0M608.1 418.3h0M614.3 419.8h0M607.4 411.5h0M618.3 425.7h0M611.8 411.5h0M616.4 432h0M618.5 427.5h0M609.3 408.9h0M613.4 434.2h0M608.8 409.5h0M610.3 414.3h0M618.5 438.3h0M616.2 431.8h0M626.7 437.4h0M623.7 436.6h0M612.4 429.1h0M613.5 416.2h0M610.2 424.3h0M611.9 421.8h0M624.1 434.9h0M617 433.9h0M622 433.9h0M616.3 434.6h0M615.5 417.1h0M616.4 434.8h0M622.2 431h0M610 416.7h0M608.7 413.6h0M621.6 431.9h0M615.8 427.7h0M608.6 415.3h0M611.5 425.2h0M613.1 419.2h0M611 413.8h0M613.3 426.4h0M609.3 419.3h0M616.3 436.2h0M622 430.8h0M611.1 417.3h0M615.6 418.4h0M618.7 427.7h0M609 412h0M620.5 426.1h0M619.2 429.2h0M608.5 415.7h0M608.6 406.3h0M616 427.4h0M621.5 436.2h0M621.3 435.6h0M611.6 429.2h0M611.4 419.5h0M618.5 435.8h0M618.7 420.6h0M606.9 405.1h0M619.8 425.5h0M617.8 428h0M616.3 425.1h0M608 408.2h0M614.1 417.1h0M618.6 436h0M616.6 436h0M616.5 427.4h0M610.3 415.6h0M612.8 415.7h0M609.6 417.3h0M617.9 432.6h0M612.3 420.2h0M617.4 424h0M611.8 411.4h0M608.2 419.1h0M617.5 434.3h0M608.7 416.7h0M609.8 420.9h0M613.7 421.2h0M616.3 431h0M614.2 433.5h0M608.5 416.8h0M614.3 415.5h0M606.9 414.5h0M617.3 432.8h0M615.4 418h0M617 427h0M612.9 416.8h0M615.9 433.3h0M615.3 423h0M609.6 422.1h0M616 433.3h0M609.2 382.8h0M610.6 382.8h0M610.6 387.5h0M609.9 397.5h0M608.5 399.4h0M593.2 397.5h0M596 403.4h0M615.5 411.4h0M620.3 421.4h0M622.4 432.7h0M625.9 434h0M566.8 442.7h0M577.2 442.7h0"/><polygon fill="#bfbf00" points="563.4,442.5 564.3,442.6 565.3,442.5 566.3,442.5 567.3,442.7 568.3,442.3 569.3,442.8 570.3,442.5 571.3,442.3 572.3,442.7 573.3,442.3 574.3,442.8 575.3,442.6 576.3,442.3 577.2,442.8 578.2,442.4 579.2,442.8 580.2,442.2 581.2,442.4 582.2,442.6 583.2,442.4 584.2,442.4 585.2,442.3 586.2,442.6 587.2,442.7 588.2,442.4 589.2,442.6 590.2,442.5 591.1,442.6 591.8,440.1 592.1,413.7 592.2,409.2 593.1,409.8 594.1,410.4 594.6,410.9 595.1,411.1 596.1,411 597.1,411.3 598.1,412.2 599.1,410.5 600.1,409.6 601.1,408 602.1,407 603,406.1 603.1,406.2 604.1,406.3 605.1,406.7 606,407.3 606.4,407.3 607,409 608,412.5 609,415.8 609.2,416.7 610,418.8 611,421.1 612,424 613,426.8 614,429.4 615,432 615.5,433.2 616,433.8 617,435.2 618,436 619,437 619.9,438.2 620.9,439.4 621.9,440.6 622.4,441 622.9,441.2 623.9,441.6 624.9,441.3 625.9,441.4 626.9,441.6 627.9,441.7 628.9,442.3 629.9,442.3 630.9,442.4 631.9,442.1 632.9,442.6 633.9,447 562.4,447"/><path stroke="#bfbf00" stroke-width="3" stroke-linecap="round" d="M614.1 428.3h0M581.7 441.8h0M591.2 441.6h0M599.9 409.4h0M616.8 434.6h0M619.8 437h0M606.7 406.9h0M601.5 406.9h0M627.4 441.1h0M596.5 410.3h0M598.8 410.5h0M571.5 442.5h0M598.9 409.9h0M621.3 438.5h0M612.5 424.3h0M628.7 440.6h0M625.8 441.1h0M612.7 425.1h0M586.2 442h0M583.4 442.5h0M599.9 409.4h0M615 430.8h0M596.7 410h0M570.6 441.1h0M631.5 441.6h0M590.6 442.1h0M578.5 441.2h0M568.6 441.2h0M583.4 441.4h0M594.7 409.7h0M625.2 440.9h0M623.8 440.8h0M602 407.2h0M567.6 442.5h0M624.5 440h0M566.2 441.6h0M582.9 442.1h0M586.5 442.2h0M598.6 410.4h0M580.3 442.1h0M576.2 441.8h0M577.7 442.1h0M610.3 418.7h0M617.3 434.9h0M567.1 441.9h0M598.4 411h0M596.1 411h0M614.7 430.8h0M569.2 441.6h0M578.8 442.5h0M602.1 405.6h0M613.1 425.5h0M592.1 415.6h0M573.7 442.1h0M629.5 441h0M580.3 442.6h0M628.2 441.7h0M617.4 434.2h0M567.1 441.3h0M602.8 404.7h0M611.7 421.8h0M631.8 442.1h0M613.7 427.7h0"/><path stroke="#c4c428" stroke-opacity="0.85" stroke-width="2.9" stroke-linecap="round" d="M593.2 392.8h0M593.2 400.8h0M571.7 442.7h0M584.2 442.7h0"/></g><g clip-path="url(#c26)"><path stroke="#0000ff" stroke-opacity="0.95" stroke-width="2.9" stroke-linecap="round" d="M665.8 404.1h0M677.6 407.4h0M682.5 422.7h0M680.4 428h0M684.6 431.4h0M691.5 436h0M694.3 437.4h0M702.6 436.7h0M640.1 442.7h0"/><path stroke="#ff0000" stroke-opacity="0.95" stroke-width="2.9" stroke-linecap="round" d="M661.9 426.8h0M668.4 425h0M667.7 428.7h0M671.9 424.2h0M682.9 438.7h0M664.6 420.4h0M667.8 417.1h0M688.2 437.9h0M681.9 441.3h0M689.2 439.1h0M683.6 440.1h0M662.1 420.6h0M661 434.6h0M667.5 417.8h0M690.8 440.3h0M701.1 440.6h0M661.2 439.3h0M668.2 439h0M683.8 433.1h0M690.6 437.3h0M685.7 437.8h0M693.1 438.8h0M679.5 426.9h0M664.4 434.4h0M676.5 432.1h0M679.6 426.8h0M679.3 432.6h0M662 434.7h0M690.2 438.3h0M680.5 433.8h0M665.5 427.5h0M690.5 438.5h0M662.7 437.4h0M661.4 430.7h0M672.1 438.4h0M678.7 441.2h0M686.3 432.7h0M670 417.2h0M661.2 438.3h0M662.8 424.7h0M675.8 429.4h0M679.7 434.6h0M686.1 440.3h0M668.2 418.3h0M667.1 426h0M660.7 435.8h0M664.6 430.3h0M668.8 416.6h0M666.3 424.9h0M670.7 420.1h0M670.3 427.5h0M668.8 427.3h0M663.3 427.4h0M692.9 436.6h0M665.8 422.8h0M673.5 437.7h0M683.3 434.1h0M663.1 424.2h0M698.9 439.3h0M686.1 439.5h0M670.1 425.4h0M670.8 427h0M692.2 440.4h0M670.5 424.8h0M682.6 439.3h0M666.7 419.2h0M672.6 427.3h0M666.8 427.8h0M678.7 427.4h0M691.9 435.6h0M673.6 434.6h0M675.2 436h0M667.4 420.4h0M668.2 437.3h0M692 435.7h0M672.3 422.2h0M662.8 433.1h0M662.9 425.8h0M664.5 432.8h0M679.7 440.6h0M686.9 436.6h0M672.1 417.5h0M691.8 439.7h0M690.5 436.8h0M669.7 418.7h0M675.5 433h0M669.4 431.6h0M681.4 435.9h0M664.1 419.5h0M667.4 420.2h0M661.5 435.6h0M666.4 422.7h0M672.8 431.6h0M686.3 439.4h0M664.3 426.9h0M677.7 441.2h0M666.6 426.2h0M686.1 439.6h0M685.8 438.7h0M665.6 420.7h0M667.9 423.2h0M666.8 429h0M691.6 441.3h0M690.8 439.4h0M672.6 424.9h0M679.4 436.2h0M661.7 427.2h0M662.4 424.3h0M666.8 425.5h0M685.5 433.2h0M670.3 434h0M676 425.8h0M663.8 430.8h0M660.2 433.2h0M674.9 440.6h0M668.1 432.2h0M689.1 435.5h0M683 436.2h0M672.6 420.1h0M689 437.2h0M669 429.4h0M664.7 435.8h0M690.4 436.8h0M671.5 420.5h0M666 430.8h0M668.3 424.9h0M668.5 416.1h0M681.1 439.2h0M676.2 439.7h0M673.8 440h0M692.7 438h0M683.1 433.4h0M683.7 430.7h0M664.6 421.6h0M668.2 440.8h0M663.1 418.4h0M672.6 424.5h0M666.4 428.1h0M664.1 417.8h0M682.2 432.4h0M675.4 432.4h0M670.6 417.2h0M676.4 425.9h0M680.1 434.4h0M662.2 423.9h0M668.3 429.5h0M669.7 438.1h0M694.1 435.7h0M663 436h0M669.7 433.4h0M679.5 437.7h0M672.6 416.4h0M695.2 438.6h0M676.7 433.8h0M675.9 429h0M667.9 429.7h0M677.2 424h0M665.1 440.6h0M671.5 432.1h0M675.9 424.1h0M666.4 436.7h0M678.9 437.2h0M670.6 426.6h0M670.7 439.6h0M666.2 420h0M689.5 436.9h0M668.3 416.5h0M662.7 432.5h0M675 433.5h0M668.9 435.1h0M691.8 438.2h0M680.5 430.9h0M667.3 433.8h0M680.6 436h0M667.2 427.3h0M662.8 425.4h0M686.4 440h0M669.1 427.5h0M672.1 425.5h0M689.6 440.6h0M666.6 438.2h0M660.3 433.9h0M671.2 420.1h0M673.3 429.4h0M667.3 437h0M665.8 435.7h0M664.8 439.6h0M660.5 440.8h0M697 440.4h0M674.6 438.8h0M676.3 422.8h0M671.4 435.2h0M673.1 425.9h0M682.7 436.1h0M673.2 422h0M672 434.7h0M696.6 437.9h0M666.6 437.3h0M669.7 422.7h0M668.3 428.5h0M665.3 426.2h0M668.6 430.3h0M678.6 436.6h0M660.7 441.1h0M667.5 433.8h0M669.9 438.3h0M667.8 426.6h0M695 440.4h0M667 436.1h0M661.9 433.5h0M674.3 428.6h0M681.2 428.7h0M673.4 433.1h0M684.1 436.6h0M680.8 431.1h0M673.6 436.7h0M671.4 432.7h0M670.5 433h0M676.6 432h0M679.6 435.4h0M672.4 419.8h0M666.6 430.5h0M694.6 436.4h0M679.6 432.8h0M671.6 437.9h0M676.8 426.8h0M693.1 435.3h0M665.8 431.4h0M674.1 427.7h0M692.5 435.8h0M665.7 426.8h0M661.4 436.5h0M679 427.8h0M661.7 436.2h0M682.3 432.2h0M684.3 439.1h0M674.2 432h0M690.8 438.6h0M665.9 426.6h0M671.3 437.7h0M685.4 437.5h0M661.3 438.1h0M666.7 435.6h0M664.9 429.1h0M660.3 424.8h0M669.1 417.5h0M665 434.5h0M682.5 438.3h0M668.9 424.7h0M678.9 440.3h0M677.7 430.2h0M664.3 418.1h0M665.1 438.9h0M686.5 433.9h0M684.9 432.6h0M663.5 430.7h0M663.7 430.7h0M682.8 433h0M698.9 439.2h0M686.9 439.5h0M690.6 437.9h0M667.5 423.5h0M685.1 435.7h0M667.1 418.2h0M672.4 426.2h0M695.8 438.7h0M675.9 429.2h0M671 424.6h0M676.3 439.1h0M686.9 433.3h0M662 440.7h0M662.4 420.8h0M672 432.6h0M679.6 433.6h0M673.1 435.1h0M666.7 422.5h0M671.1 431.2h0M691 434.4h0M668.1 427.3h0M673.5 434.5h0M685.1 434.4h0M692.6 439.1h0M682.4 430.1h0M677.7 431.7h0M684.2 438.7h0M683.3 433.8h0M663 418.5h0M662.6 424h0M678.2 428.1h0M660.9 435.1h0M674.2 439.4h0M666.9 428h0M672.9 423.8h0M688.2 434h0M697.9 437.7h0M680.5 428.2h0M672.7 418.1h0M685.1 439.7h0M664.9 426.1h0M668.8 421.6h0M672.2 416.3h0M677.5 430.1h0M669.3 436.5h0M669.6 418.4h0M686.6 436.1h0M696.2 437h0M696.2 437.1h0M672.1 424.9h0M665.1 418.1h0M698.1 438.1h0M672.9 440.3h0M666.3 418.4h0M666.7 426.5h0M680.3 428.2h0M666.3 420.2h0M667.9 424.4h0M661.3 437.6h0M689.2 435.8h0M664.8 418.5h0M690.2 440.6h0M678.2 438.5h0M660.3 421.7h0M668.4 419.3h0M681.3 436.9h0M662.6 438.4h0M686.5 438.5h0M670.1 424h0M679.1 437.7h0M660.9 431.4h0M665.3 418.9h0M667 439.9h0M678.9 440.8h0M670.6 416.6h0M679.1 427h0M674.3 411.1h0M673.1 416.3h0M667.7 410.6h0M674.9 416.4h0M664.2 413h0M672.7 408.4h0M664.6 409.5h0M672.4 408.7h0M671.2 402.9h0M667.9 414.8h0M676.4 415.3h0M662.9 411.8h0M669.8 406.6h0M658.1 389.5h0M658.1 396.1h0M658.1 402.8h0M669.3 399.4h0M670.7 401.4h0M665.8 409.4h0M664.4 412.8h0M676.2 409.4h0M679.7 420.7h0"/><polygon fill="#bfbf00" points="634.5,443.3 635.5,443.3 636.5,443.3 637.5,443.3 638.5,443.3 639.5,443.3 640.5,443.3 641.5,443.3 642.5,443.3 643.5,443.3 644.4,443.3 645.4,443.3 646.4,443.3 647.4,443.3 648.4,443.3 649.4,443.3 650.4,443.3 651.4,443.3 652.4,443.3 653.4,443.3 654.4,443.3 655.4,443.3 656.1,441.3 656.4,426.5 656.8,406.8 657.4,406.8 658.3,406.8 659.3,406.8 660.2,406.8 660.3,416.5 660.6,440.7 661.3,440.7 662.3,440.7 663.3,440.7 664.3,440.7 665.3,440.8 666.3,440.8 667.3,440.8 668.3,440.8 669.3,440.8 670.3,440.8 671.3,440.8 672.2,440.9 673.2,440.9 674.2,440.9 675.2,440.9 676.2,440.9 677.2,440.9 678.2,440.9 679.2,441 680.2,441 681.2,441 682.2,441 683.2,441 684.2,441 685.2,441.1 686.1,441.1 687.1,441.1 688.1,441.1 689.1,441.1 690.1,441.1 691.1,441.1 692.1,441.2 693.1,441.2 694.1,441.2 695.1,441.2 696.1,441.2 697.1,441.2 698.1,441.3 699.1,441.3 700,441.3 701,441.3 702,441.3 703,441.3 704,441.3 705,447 633.5,447"/><path stroke="#c4c428" stroke-opacity="0.85" stroke-width="2.9" stroke-linecap="round" d="M637.3 442.7h0M649.8 442.7h0M651.2 442.7h0"/></g><g clip-path="url(#c30)"><polygon fill="#bfbf00" points="207.5,485.1 208.5,484.8 209.5,484.3 210.5,484.8 211.5,485.4 212.5,484.9 213.5,485.1 214.4,484.5 215.4,484.9 216.4,484.8 217.4,484.5 218.4,484.6 219.4,484.4 220.4,485.5 221.4,485 222.4,485 223.4,485.4 224.4,485.3 225.4,484.7 226.4,485.5 227.4,485.1 228.3,485.6 229.3,484.7 230.3,484.8 231.3,484.4 232.3,485.4 233.3,485.2 234.3,485.4 235.3,484.8 236.3,485.6 237.3,485.3 238.3,485.4 239.3,484.3 240.3,485.4 241.3,485.6 242.2,485.3 243.2,484.9 244.2,485.2 245.2,484.7 246.2,484.6 247.2,485.5 248.2,485.2 249.2,485.5 250.2,484.6 251.2,484.9 252.2,485.4 253.2,484.5 254.2,485 255.2,484.9 256.1,484.6 257.1,485.3 258.1,485.2 259.1,484.9 260.1,485.4 261.1,485.7 262.1,484.4 263.1,485.7 264.1,484.7 265.1,484.9 266.1,484.6 267.1,484.4 268.1,485.1 269.1,484.5 270.1,485.1 271,485.6 272,485.4 273,484.5 274,484.6 275,485.5 276,485 277,485.7 278,516.8 206.5,516.8"/><path stroke="#bfbf00" stroke-width="3" stroke-linecap="round" d="M232.7 483.6h0M235.4 481.8h0M241.8 483.4h0M233.9 485.2h0M256.7 482.2h0M207.9 481.8h0M218 482h0M211.6 484.4h0M229 482.8h0M235 483.2h0M231.2 483.4h0M247.4 482.6h0M242.5 482.1h0M221.8 482.7h0M231 482.7h0M243.1 484.1h0M247.8 482h0M208 482.2h0M220.1 484.5h0M264.8 482.2h0M263.4 484.7h0M252.6 483.6h0M230.9 483.8h0M225.8 482.8h0M254.6 482.4h0M271.5 482.7h0M215 483.8h0M226.4 483.1h0M245.9 482.2h0M221 484h0M271.1 481.8h0M214.7 482h0M214.7 481.7h0M250.9 483.4h0M226.7 482.9h0M236.4 482.8h0M259.8 481.9h0M233 483.2h0M215.5 483.1h0M221.4 484.1h0M214.2 482.3h0M217 481.8h0M248.2 482.3h0M265.5 483.3h0M208.6 482.7h0M275.1 484.4h0M271.4 482h0M215.9 482h0M256.1 484.8h0M214.1 481.8h0M242.7 482.5h0M234.7 483.1h0M274.5 482.4h0M258.8 482.2h0M245.8 483.3h0M210.4 485h0M254.5 483.6h0M273.6 483.8h0M213.7 482.8h0M222.8 485.2h0M271.5 484.2h0M265.1 483.3h0M212.7 485.2h0"/><path stroke="#0000ff" stroke-opacity="0.95" stroke-width="2.9" stroke-linecap="round" d="M247.1 465.9h0M233.9 478.5h0"/><path stroke="#ff0000" stroke-opacity="0.95" stroke-width="2.9" stroke-linecap="round" d="M235.3 481.1h0M249.8 476.1h0M274.3 478.3h0M262.8 484.1h0M239.4 475.8h0M240.9 485.5h0M252.3 475.7h0M231.3 484.1h0M257.6 481.4h0M260.5 485h0M234.4 480.9h0M223.1 485.4h0M219.2 484.9h0M217.9 474.5h0M245.7 479.2h0M257.5 476.5h0M265.2 478.5h0M224.9 482.5h0"/><path stroke="#c4c428" stroke-opacity="0.85" stroke-width="2.9" stroke-linecap="round" d="M263.1 476.6h0M273.5 477.7h0M249.3 484.8h0M251.6 484.3h0M272.3 477h0M267.2 484.5h0M259.1 480.5h0M240.4 481.3h0M237.8 480h0M270.9 481h0M230.8 477h0M240.4 483.4h0M228.2 485.7h0M218.2 477.1h0M227.9 484.3h0M236.2 485.3h0M250.1 485.8h0M218.9 481.8h0M262.9 484.6h0M236.7 483.4h0M233 482.4h0M260 485.8h0M249.4 476.2h0M262.2 481.8h0M255.8 485h0M225.2 481.7h0M220 480h0M232.9 481.8h0M264.8 485.8h0M245.8 479h0M251 484.6h0M273.9 483.3h0M262.8 485.8h0M251.6 485.1h0M217 485.8h0M276.9 485.4h0M259.7 485.8h0M249.5 484.7h0M264.7 483.4h0M251.2 483.3h0M233.6 476.9h0M260.9 483.8h0M217.5 480.8h0M252.4 480.2h0M263.6 482.5h0M245.1 478.5h0M253.8 485.5h0M240 482.4h0M230.7 479.3h0M211.6 475.7h0M260.8 485.8h0M226.2 479.5h0M255.8 481h0M251.9 484.4h0M272.6 485.5h0M242.1 479.2h0M260.8 485.8h0M235.4 481.7h0M259.4 482.9h0M220 465.9h0M242.2 473.2h0M265.2 473.2h0M272.1 472.5h0"/></g><g clip-path="url(#c31)"><polygon fill="#bfbf00" points="278.7,486.8 279.7,487.4 280.7,487 281.6,486.9 282.6,486.6 283.6,487.2 284.6,486.6 285.6,487.6 286.6,486.6 287.6,487.6 288.6,486.4 289.6,486.9 290.6,487.1 291.6,487.6 292.6,487.5 293.6,486.7 294.6,487.2 295.5,487.5 296.5,486.5 297.5,487.4 298.5,487.4 299.5,487.6 300.5,486.6 301.5,487.3 302.5,486.9 303.5,487.6 304.5,487.4 305.5,486.3 306.5,487.6 307.5,487.4 308.5,486.7 309.4,487.6 310.4,486.5 311.4,487.6 312.4,487.1 313.4,486.3 314.4,487.4 315.4,486.7 316.4,486.4 317.4,486.5 318.4,486.4 319.4,486.9 320.4,486.7 321.4,487.6 322.4,486.8 323.3,486.4 324.3,486.3 325.3,487.3 326.3,486.4 327.3,487.6 328.3,487.3 329.3,487.1 330.3,487.1 331.3,486.7 332.3,487.6 333.3,486.7 334.3,486.5 335.3,487.1 336.3,487.5 337.2,487.6 338.2,486.8 339.2,486.6 340.2,486.9 341.2,486.4 342.2,487.1 343.2,486.6 344.2,486.7 345.2,487.4 346.2,487.6 347.2,487.2 348.2,486.7 349.2,516.8 277.7,516.8"/><path stroke="#bfbf00" stroke-width="3" stroke-linecap="round" d="M344.5 485.7h0M317.1 485h0M336.1 484.7h0M289.8 484.8h0M300.7 484.1h0M287.5 486.1h0M295.5 486.7h0M323.9 486.6h0M325.2 483.7h0M334.7 483.6h0M307.5 486.6h0M316.9 486.9h0M314.1 486.4h0M306.2 484.8h0M323 485.3h0M303.2 486.4h0M306.1 487h0M314.4 485h0M344.9 485.5h0M305.7 485.8h0M313.7 483.6h0M294.9 484.6h0M321.3 485.2h0M307.5 484.8h0M333.3 484.8h0M291.7 484.3h0M333.5 484.7h0M302 484h0M281.4 487.1h0M280.7 484.4h0M294.9 484.5h0M338.5 483.7h0M345 485.3h0M311.9 485.4h0M340 484.1h0M311.9 484.2h0M327.3 484.3h0M339.1 485.6h0M347.4 486.9h0M324.3 483.6h0M304.6 486h0M316.1 485.7h0M288.7 483.9h0M312.3 486.1h0M280.4 486.4h0M299.8 484.7h0M318.4 485.7h0M291.1 485.9h0M336.7 484.7h0M343.2 486.5h0M336.9 485.6h0M319.6 483.6h0M312.4 487.2h0M346.2 483.7h0M346.6 484.1h0M308.1 484.1h0M293.2 485.8h0M336.8 484.9h0M330.8 485.4h0M291 483.9h0M335 485.2h0M345.6 484.6h0M285.6 486.8h0"/><path stroke="#0000ff" stroke-opacity="0.95" stroke-width="2.9" stroke-linecap="round" d="M337.7 479.2h0"/><path stroke="#ff0000" stroke-opacity="0.95" stroke-width="2.9" stroke-linecap="round" d="M332.9 478.7h0M324 486.6h0M315.8 487.2h0M341.3 487.7h0M322.1 484.7h0M295.1 487h0M313.4 483.7h0M339.3 487h0M319.8 481.1h0M299.6 483.2h0M295 487.6h0M322.3 479.9h0M340.6 485.9h0M326.7 487.8h0M308.8 480.2h0M331.2 486.1h0M315 484.5h0M278.7 487.6h0M332.5 483.5h0M290.5 452.6h0M327.3 463.9h0M280.1 467.2h0M308.6 470.5h0M313.4 471.2h0M319 468.5h0M320.4 473.9h0M280.8 474.5h0M288.4 474.5h0M335 475.9h0M346.8 474.5h0M318.3 481.2h0M287.7 482.5h0M301.6 483.8h0"/><path stroke="#c4c428" stroke-opacity="0.85" stroke-width="2.9" stroke-linecap="round" d="M339.2 487.1h0M315.9 483h0M342.1 487.1h0M283 487.5h0M333.9 482.1h0M329.8 487.3h0M287.5 487.2h0M324.3 483.3h0M299 482.3h0M284.9 485.3h0M281.8 480h0M319.5 482.4h0M279.4 483.9h0M288.2 486.8h0M339.3 480.2h0M279.7 480.2h0M335.9 483.2h0M287.7 487.7h0M323.1 483.5h0M292 481.6h0M318.3 487.3h0M348 485.6h0M344.4 484.2h0M339.9 484.7h0M281.1 483h0M312 486.7h0M338.2 487.8h0M338.1 484.5h0M303.7 486.5h0M281.5 485.5h0M310.2 479.6h0M290.9 483.5h0M316.8 481.8h0M325.7 485.6h0M308.4 480.4h0M342.7 487.2h0M314.7 484.4h0M293.3 460.6h0M299.5 468.5h0M330.8 467.9h0"/></g><g clip-path="url(#c32)"><polygon fill="#bfbf00" points="349.8,485.4 350.8,484.9 351.8,484.9 352.8,484.8 353.8,484.5 354.8,484.3 355.8,484.7 356.8,484.8 357.8,485.2 358.8,484.6 359.8,485.4 360.8,484.4 361.8,485 362.7,484.3 363.7,484.5 364.7,484.4 365.7,485.4 366.7,485 367.7,484.9 368.7,485.3 369.7,485.4 370.7,484.7 371.7,485.3 372.7,484.6 373.7,485.1 374.7,485.2 375.7,484.7 376.3,485 376.6,483.8 377.6,479.7 378.6,480.5 379.6,479.8 379.7,479.9 380.4,497.8 380.6,497.9 381.6,498.7 381.8,498 382.5,475.9 382.6,475.1 383.6,475.1 384.6,474.8 385.6,475.3 386.6,475.8 387.6,475.2 388.6,475.3 389.6,474.6 390.5,474.4 391.5,474.5 392.5,492 392.9,498.4 393.5,498.6 394.5,498.5 395.5,497.8 396.4,497.8 396.5,496.4 397.1,484.4 397.5,484.8 398.5,484.9 399.5,484.5 400.5,485.4 401.5,484.3 402.5,485.3 403.5,484.3 404.4,485.4 405.4,484.7 406.4,484.4 407.4,485 408.4,485.1 409.4,484.7 410.4,484.8 411.4,485 412.4,484.6 413.4,484.6 414.4,485.1 415.4,484.8 416.4,485.2 417.4,484.8 418.3,485.1 419.3,484.9 420.3,516.8 348.8,516.8"/><path stroke="#bfbf00" stroke-width="3" stroke-linecap="round" d="M366.4 483h0M388.6 473.6h0M398.8 484h0M398.1 482.6h0M410.1 484.8h0M374.7 484.7h0M383 473.4h0M354.2 484h0M397.7 483.9h0M379.3 477.5h0M350.1 483.8h0M395.3 498.2h0M405.9 483.6h0M417.8 481.9h0M414.9 483.5h0M382.3 482.2h0M374.3 483.4h0M411.1 484h0M413.3 483.4h0M362.7 483.4h0M401.9 482.8h0M393.1 497.3h0M375.1 481.8h0M399.1 482.8h0M418.4 481.9h0M398.7 483.7h0M411.4 484.5h0M410.7 484.2h0M395.6 497.5h0M400.8 483.4h0M375.9 482.4h0M377.2 480.4h0M412.4 482.6h0M411.6 484.3h0M374.3 484h0M417.8 484.7h0M402.5 482.9h0M376.5 482.4h0M369.3 483.3h0M407.8 484.2h0M369.5 483.9h0M390.4 472.3h0M366.1 482.7h0M355.4 484h0M394 496.3h0M414.8 483.1h0M363.1 483.2h0M378.8 477.7h0M374.3 484.1h0M393.3 495.4h0M395.8 497h0M356.6 482.7h0M399.4 484.4h0M404.4 482.9h0M411.2 483.5h0M395.4 496.1h0M372.2 482.3h0M358.9 484.1h0M356 483.9h0M379.1 478.2h0M381.2 497.9h0M391.9 479.4h0M390.4 473.8h0"/><path stroke="#0000ff" stroke-opacity="0.95" stroke-width="2.9" stroke-linecap="round" d="M391.1 475.7h0M383.5 471.9h0M379.7 475.9h0M397.3 485.1h0M373.5 459.2h0M389.5 465.2h0M390.2 467.2h0M402 471.2h0M365.1 475.9h0M358.2 479.2h0M401.3 482.5h0M418 480.5h0"/><path stroke="#ff0000" stroke-opacity="0.95" stroke-width="2.9" stroke-linecap="round" d="M361.9 481.8h0M376.9 482.3h0M393.5 496.8h0M418.1 484.8h0M363.4 485.8h0M391.6 470.4h0M388.8 452.6h0M388.8 454.6h0M391.5 469.2h0M404.1 471.2h0M408.9 471.2h0M414.5 463.2h0M360.3 479.2h0M404.1 479.2h0M386 473.9h0"/><path stroke="#c4c428" stroke-opacity="0.85" stroke-width="2.9" stroke-linecap="round" d="M352.1 485.1h0M406.1 481.4h0M397.8 481.8h0M361.8 483.7h0M354.7 484.4h0M404.7 483.6h0M377.4 474.6h0M380.7 495.9h0M401.2 483h0M370.3 480.8h0M395.4 498.6h0M358.8 478.9h0M390.3 472.7h0M383.8 469.5h0M357.9 478.9h0M408.7 485.4h0M356.9 482.6h0M375.7 484.4h0M381.1 499.1h0M363.9 479.6h0M385.1 470.8h0M368.5 478.1h0M374 484.1h0M408.1 478.2h0M399.8 481.9h0M414 484.5h0M355.8 481.1h0M416.3 483h0M405.7 484.9h0M373.6 480h0M365.1 463.2h0M370.7 463.9h0M388.1 461.9h0M365.1 469.9h0M415.9 473.2h0M374.9 477.2h0M351.2 467.2h0"/></g><g clip-path="url(#c33)"><polygon fill="#bfbf00" points="421,511.4 422,512 423,511.2 424,511.7 425,511.5 426,510.9 427,510.9 428,510.7 429,510.5 429.9,510.7 430.9,510.6 431.9,510 432.9,510.1 433.9,510.1 434.9,509.8 435.9,508.8 436.9,508.4 437.9,507.9 438.9,507.6 439.1,507.4 439.9,497.4 440.5,489.6 440.9,489.2 441.9,486.3 442.9,484 443.2,482.9 443.8,483.1 444.8,483.1 445.8,482.8 446.8,482.6 447.8,482.3 448.8,482.1 449.8,481.5 450.8,481.9 451.8,481.7 452.3,481.4 452.8,481.9 453.8,482.3 454.8,482.9 455.8,483.4 456.8,482.7 457.7,481.8 458.7,480.6 459.2,480.8 459.7,480.5 460.7,481 461.7,481.5 462.7,481.4 463.7,481.5 464.7,481.9 465.7,482.5 466.7,482.7 467.7,483.1 468.7,483.2 469.7,483.4 470.7,484.1 471.6,484.8 472.6,486.4 473.6,486.6 474.6,488.3 475.6,489 476.6,489.6 477.6,497.5 478.6,505.8 478.7,506.1 479.6,507 480.6,507.4 481.6,508.1 482.6,508.9 483.6,509.9 484.6,509.2 485.5,509.7 486.5,509.3 487.5,508.8 488.5,509 489.5,508.3 490.5,508.2 491.5,516.8 420,516.8"/><path stroke="#bfbf00" stroke-width="3" stroke-linecap="round" d="M456 482.8h0M467.9 480.8h0M487.6 507.3h0M433.8 509.2h0M425.9 509.9h0M435.7 508.2h0M445.3 481.6h0M444.6 481.9h0M466.7 481.3h0M457.8 480.3h0M448.6 480.1h0M452.8 480.6h0M432.1 508.8h0M459.7 479.7h0M464.9 480.5h0M478 499.2h0M484.9 508.2h0M439.8 497.4h0M486.8 508.6h0M486.6 509.3h0M453.3 481.5h0M424.1 511.1h0M438.8 506h0M467.6 481.7h0M459.4 479.2h0M448.3 482h0M422.8 509.5h0M465.7 480.3h0M438.8 505.9h0M422.8 510.3h0M488.7 508.6h0M423.9 511.5h0M483.7 509.6h0M433.3 508.7h0M432.2 509.7h0M470.9 483h0M487.7 508.5h0M470.6 483h0M480.6 506.9h0M475.2 488.4h0M425.9 509.2h0M437.4 508.1h0M443.9 481.8h0M459.6 479.8h0M452.2 480.9h0M453.2 481.3h0M430.5 510h0M453.3 480.9h0M430.4 510.3h0M430.9 510h0M457.3 480h0M487.5 508.6h0M428 509.1h0M486.1 508.3h0M460.6 479.7h0M421.4 509.9h0M439.7 497.3h0M449.2 480.7h0M474 485.4h0M467.4 481.1h0M464.6 480.6h0M426.2 510.6h0M425.8 510.8h0"/><path stroke="#0000ff" stroke-opacity="0.95" stroke-width="2.9" stroke-linecap="round" d="M446.7 470.5h0M462.7 471.2h0M471.1 481.2h0"/><path stroke="#ff0000" stroke-opacity="0.95" stroke-width="2.9" stroke-linecap="round" d="M450.9 466h0M458.3 476.4h0M444.6 481.1h0M449.4 475.5h0M458.4 479h0M447 478.7h0M455.3 478.1h0M459.6 466.5h0M453.1 475.3h0M447.1 469.9h0M450 472.4h0M466.3 481.4h0M459.7 476.4h0M467.9 479.9h0M451.5 468.9h0M458.9 471.3h0M445.4 476.1h0M453.6 472.7h0M441.4 491.9h0M438.8 487.6h0M480 503.3h0M477.7 490.9h0M475.7 488h0M477.4 494.9h0M474 487.7h0M474.1 487.4h0M441.9 460.6h0M450.9 462.6h0M482.2 500.5h0M432.8 507.8h0M484.9 505.8h0M487 504.4h0"/><path stroke="#c4c428" stroke-opacity="0.85" stroke-width="2.9" stroke-linecap="round" d="M457.1 469.2h0M464.8 468.5h0"/></g><g clip-path="url(#c34)"><path stroke="#0000ff" stroke-opacity="0.95" stroke-width="2.9" stroke-linecap="round" d="M520 453.2h0M525.5 469.2h0M539.4 480.5h0M536 480.5h0M545.7 505.8h0"/><path stroke="#ff0000" stroke-opacity="0.95" stroke-width="2.9" stroke-linecap="round" d="M541.1 496.2h0M553.9 508h0M537.8 489.7h0M538.2 493h0M535.7 485h0M543.3 503h0M542.6 496h0M553 507.7h0M552.7 505.3h0M545.8 499h0M546.5 498.2h0M549.7 502.2h0M552.6 504.8h0M532.2 480.1h0M547.9 505.2h0M540 488.2h0M531.7 483.4h0M532.2 480.7h0M550.1 502.7h0M545.8 503.1h0M542.2 495.7h0M539.8 487h0M535.6 485.6h0M551.3 507.7h0M554.4 505.6h0M549.5 503.5h0M545.2 503.1h0M533.9 479.8h0M535.2 480.4h0M544.2 499.4h0M536.6 488.4h0M536.9 485.8h0M534.5 482.7h0M546.4 500.7h0M540.8 497.9h0M548.3 500.7h0M534.8 487.5h0M537.6 492.5h0M549.4 503.6h0M549.1 506.5h0M541.2 496.7h0M548.9 507.4h0M535.1 482.1h0M534.5 483.6h0M543 492.2h0M539.4 489.6h0M540.3 491.6h0M533.4 481.5h0M531.7 479.9h0M542.2 501h0M528.3 453.2h0M533.2 461.9h0M521.4 473.9h0M530.4 479.2h0M537.4 480.5h0M540.8 485.8h0M544.3 497.1h0M547.8 501.1h0M556.8 507.8h0M499.1 512.4h0"/><polygon fill="#bfbf00" points="492.2,513.4 493.2,513.5 494.2,513.8 495.2,513.6 496.2,513.4 497.1,513.7 498.1,513.5 499.1,513.6 500.1,513.4 501.1,513.7 502.1,513.3 503.1,513.5 504.1,513.8 505.1,513.3 506.1,513.5 507.1,513.4 508.1,513.5 509.1,513.6 510.1,513.9 511,513.9 512,513.5 513,513.7 513.7,513.6 514,503.7 514.4,490.8 515,489.7 516,487.9 517,486.3 518,484.3 518.6,482.8 519,482.3 520,480.2 521,478.3 522,476.8 522.8,474.8 523,475 524,474.4 524.9,473.2 525.5,472.9 525.9,473.7 526.9,474.4 527.9,475.7 528.9,476.8 529.9,478.4 530.9,479.5 531.8,480.5 531.9,480.4 532.9,482.3 533.9,484.8 534.9,486.4 535.9,488.4 536.9,490.3 537.9,492.8 538,492.9 538.8,494.2 539.8,495.9 540.8,498 541.8,499.5 542.8,501.3 543.8,503.4 544.3,504.3 544.8,504.8 545.8,506 546.8,506.4 547.8,507.3 548.8,508.3 549.8,509.6 550.8,510.5 551.3,510.8 551.8,511 552.7,510.8 553.7,510.9 554.7,511 555.7,511 556.7,511.1 557.7,511.2 558.7,511.3 559.7,511.7 560.7,511.7 561.7,511.8 562.7,516.8 491.2,516.8"/><path stroke="#bfbf00" stroke-width="3" stroke-linecap="round" d="M503.1 513.4h0M518.6 483h0M535.2 486.8h0M532.9 481.1h0M512.8 512.4h0M510.6 513.3h0M519.8 479.4h0M547.6 506.4h0M499.7 512.7h0M516.8 485.8h0M537.7 492h0M533 482h0M513.3 513.2h0M542.6 501.1h0M537.8 492.4h0M493.8 512.6h0M514.1 502.1h0M550.7 509.9h0M510.4 513h0M506 512.9h0M494.5 513.4h0M558.9 510.2h0M538.2 491.8h0M499.7 513h0M496.8 512.8h0M523.9 473.9h0M555.3 510.4h0M494.5 512.6h0M502.9 512.9h0M514.7 489.4h0M527.8 474.8h0M499.5 513.5h0M516.9 484.9h0M521.6 477h0M516.3 485.9h0M535.1 486.9h0M535.7 487.5h0M507 512.2h0M535.4 486.5h0M557.6 510.4h0M527.6 474.2h0M530.2 477.8h0M544.9 504.9h0M501.9 513.5h0M507.8 512.9h0M553.7 510.2h0M516.2 486.8h0M516.5 486.1h0M523.3 474.1h0M535.9 487.2h0M503.9 512.6h0M515.5 488h0M530.2 478.6h0M549.9 509.6h0M515.2 488.5h0M544.1 502.5h0M557 510.7h0M515.8 488.1h0M547.2 506.5h0M549.7 508.5h0M505.8 512.4h0M561 510.7h0M561.1 511.5h0"/><path stroke="#c4c428" stroke-opacity="0.85" stroke-width="2.9" stroke-linecap="round" d="M517.9 467.9h0M495.7 512.4h0M506.1 512.4h0"/></g><g clip-path="url(#c35)"><path stroke="#0000ff" stroke-opacity="0.95" stroke-width="2.9" stroke-linecap="round" d="M614.8 452.6h0M616.2 467.9h0M612.7 472.5h0M593.9 469.2h0M622.4 497.1h0M624.5 499.1h0M627.3 497.8h0M629.4 501.1h0M630.8 499.8h0M625.9 501.1h0M613.4 489.1h0"/><path stroke="#ff0000" stroke-opacity="0.95" stroke-width="2.9" stroke-linecap="round" d="M603 510.4h0M599.9 509.2h0M608.5 502.8h0M595.4 503.6h0M605.2 506.7h0M613.7 505.3h0M589.3 496.9h0M593.5 503.4h0M591.4 491.9h0M595.1 497.1h0M604.3 496.6h0M619.3 505.9h0M605.6 500.2h0M601.5 494.9h0M591 499.4h0M591 495.7h0M592 508.5h0M597.8 494.5h0M600.4 506.7h0M598.6 503.7h0M598.3 509.1h0M593.8 510h0M604.8 503h0M624.6 509h0M599.2 509.9h0M599.2 490.3h0M608.7 508h0M610.4 505h0M599.9 495h0M607.4 508.8h0M596.4 506.9h0M599.1 506.4h0M619.4 510.9h0M605.8 508h0M601.2 494.9h0M609.6 502.1h0M591.1 498.6h0M619.2 506.2h0M598.2 490.3h0M600.1 491.1h0M612.8 503.6h0M603.2 495.6h0M601 508.8h0M591.6 494.4h0M604.3 495.1h0M609.6 504.8h0M605.2 508.1h0M621.1 508.2h0M599.4 508.7h0M592.9 491.5h0M605.9 493.6h0M612.7 500.6h0M610.8 506.5h0M599.3 507.9h0M599.9 508.6h0M624.7 507.9h0M599.9 494.3h0M612.6 510.3h0M609.5 498.7h0M596.1 501.6h0M612.7 499.5h0M592.2 496.2h0M617 505.7h0M597.9 491.6h0M607.1 508.5h0M621.6 506.5h0M588.2 496.4h0M624.9 509.4h0M589 497h0M617.2 504.8h0M595.1 508.3h0M588.8 495.8h0M600.1 501.1h0M595.9 505h0M626.8 509.4h0M589 500.7h0M598.3 490.3h0M603.6 502.1h0M626.7 509.1h0M592.3 491.9h0M607.2 502.8h0M622.5 507.5h0M593.6 507h0M600.5 509.2h0M591.3 494.4h0M593.4 499.6h0M591.2 503.2h0M599.5 489.6h0M616.4 504.7h0M598 507h0M594.8 498.6h0M595.1 499.7h0M594.9 495.9h0M627.3 510.8h0M592.1 502.7h0M612.5 509.7h0M595.9 507.8h0M605.9 501.8h0M607 493.8h0M593.3 508.9h0M601.8 487.4h0M619.7 508.2h0M593.8 510.8h0M606.6 494h0M595.8 491.7h0M606.4 507.3h0M595.1 501.3h0M594.1 498.9h0M589.2 499.7h0M608.7 509.5h0M613.4 505.3h0M599.8 492.9h0M592.4 497.9h0M611.9 501.2h0M592.9 492h0M604 489.7h0M600.5 508.1h0M595.7 501.2h0M625 509.9h0M609 511.1h0M627.3 509.7h0M604.7 506.1h0M602.6 506.4h0M601.4 509.2h0M594.8 504.7h0M601.4 508.1h0M608.6 501.8h0M624.7 509.9h0M624.3 507h0M616.4 509.6h0M598.8 492.7h0M597.3 505.8h0M589.2 501.5h0M600.9 507h0M592.2 509.9h0M600 505.2h0M598.9 506.4h0M614.4 510.7h0M592.8 498.7h0M592 499.2h0M606.5 502.5h0M615.7 510.8h0M606.9 501.7h0M591.7 510.7h0M590.8 508.3h0M607 505.5h0M595.3 495.4h0M615.4 504.3h0M611 503.1h0M607.8 506.6h0M590.9 495h0M611 503.5h0M598.5 498.7h0M596.2 497.7h0M590.8 491.7h0M598.8 493.8h0M589.5 499.2h0M593.8 509.4h0M590.1 508.6h0M595 502.2h0M613.2 501.8h0M594.2 508.9h0M599.7 486.9h0M589.3 496.2h0M603.2 497.5h0M594.8 495.1h0M612.8 503.6h0M606.8 498.5h0M608.2 508.8h0M589 492.7h0M605.9 505.9h0M604.5 503.4h0M591.8 496.9h0M618.8 505.1h0M598.7 506.7h0M599.5 500.7h0M594.6 508.5h0M600.7 503.8h0M596.6 498.3h0M603.6 495.5h0M611.2 499.7h0M589.3 494.7h0M598.1 505.3h0M598.8 510.5h0M589.6 505.8h0M621.1 509.6h0M595.4 508.5h0M603.4 506.3h0M621.8 510.4h0M603.8 493.5h0M599.5 505h0M618.4 505.3h0M596.7 506.7h0M592.8 490.7h0M590.4 499.4h0M612 503.4h0M598.1 498.7h0M596 506.5h0M610.8 503.9h0M623.3 508.3h0M597.6 497.4h0M613.8 506.6h0M604.4 497.9h0M607.6 507.7h0M603.6 494.2h0M626.1 509.4h0M623.1 507.2h0M619.1 508.5h0M599.9 501.8h0M593.6 502h0M602.7 506.2h0M625.4 507.7h0M606.2 510.5h0M592.7 508.5h0M593.3 500.2h0M593.5 494.4h0M610.9 505.7h0M607.7 510.9h0M601.1 499h0M611.3 501.5h0M593.1 494.7h0M597.7 496.3h0M592.5 509h0M601.5 502.8h0M601.7 493.6h0M614 502.9h0M606.2 499.9h0M605.3 508.9h0M588.8 501h0M596.9 493.7h0M622.8 506.3h0M604.6 492h0M593 500.1h0M612.7 501.8h0M598.2 500.6h0M589.5 492.4h0M593.5 497.1h0M593.7 495.1h0M604.2 499.2h0M589.4 502.5h0M595.3 489.4h0M627.6 509.3h0M592 491.1h0M595.2 510.3h0M594.7 505.5h0M591.5 495.3h0M590.1 502.5h0M627.3 510h0M594.9 497.6h0M628.9 509.8h0M599.3 508.2h0M603.1 500.2h0M610.6 502.1h0M610.5 497.3h0M611.7 502.5h0M608 506.1h0M605.3 495.9h0M590.8 505.1h0M600.6 495.8h0M604.9 508.1h0M595.7 508.1h0M592 492.5h0M593.6 500.4h0M589 506.9h0M598.5 487.5h0M597.9 510.1h0M604 506.2h0M603.9 510.3h0M614.6 502.8h0M599.5 506.8h0M604.3 504.8h0M601.5 498.1h0M600.8 510.7h0M600.5 503.3h0M591.2 495.8h0M588.3 505.9h0M591.9 509.4h0M609 505.8h0M588.1 506.3h0M608.8 500.7h0M609.1 509.4h0M607.6 505.9h0M599 492h0M592.7 490.3h0M597.6 502.6h0M597.8 492.5h0M614.5 503.9h0M608.6 504.6h0M620.9 507.5h0M600.2 492.7h0M593.6 507.4h0M605.9 497.8h0M602.6 506.8h0M602 489h0M619.4 504.5h0M588.7 492.4h0M596.5 489.7h0M602.7 490h0M594.4 499.1h0M598.9 493.9h0M608.4 498.1h0M612.5 501.7h0M609.2 502.4h0M619.4 506.9h0M598.8 487.9h0M611.7 507.1h0M597.6 501.2h0M608.9 500.9h0M601.4 491.8h0M603.5 508h0M597.5 505.4h0M596 501.7h0M604.7 505.9h0M591.1 509.5h0M617.8 503.8h0M592.1 507.9h0M595.6 508h0M601.2 509.7h0M602.4 505.4h0M595.8 490.1h0M614 500.9h0M602.5 488.8h0M607.7 499.3h0M606.3 510.6h0M612.5 503.1h0M595.5 488.8h0M602.8 497h0M598 504h0M604.9 502.2h0M619.1 506.3h0M600.4 477.2h0M592.5 474.9h0M594.9 486.4h0M599.1 473.8h0M605.1 486h0M593.6 479.9h0M592.6 470.8h0M597.7 472.2h0M593.9 471h0M605.4 484.7h0M599.7 489.8h0M603 484.3h0M597 486.9h0M593.1 487.9h0M604.6 482.4h0M598.3 487h0M597.7 479h0M596.8 473.6h0M601.6 452.6h0M596.7 467.9h0M599.5 471.2h0M605.1 475.9h0"/><polygon fill="#bfbf00" points="563.4,513.1 564.3,513.1 565.3,513.1 566.3,513.1 567.3,513.1 568.3,513.1 569.3,513.1 570.3,513.1 571.3,513.1 572.3,513.1 573.3,513.1 574.3,513.1 575.3,513.1 576.3,513.1 577.2,513.1 578.2,513.1 579.2,513.1 580.2,513.1 581.2,513.1 582.2,513.1 583.2,513.1 584.2,513.1 584.9,513.1 585.2,477.2 585.2,471.2 586.2,471.2 587.2,471.2 587.7,471.2 588,509.1 588.2,509.1 589.2,509.2 590.2,509.2 591.1,509.2 592.1,509.3 593.1,509.3 594.1,509.4 595.1,509.4 596.1,509.5 597.1,509.5 598.1,509.5 599.1,509.6 600.1,509.6 601.1,509.7 602.1,509.7 603.1,509.8 604.1,509.8 605.1,509.9 606,509.9 607,509.9 608,510 609,510 610,510.1 611,510.1 612,510.2 613,510.2 614,510.3 615,510.3 616,510.3 617,510.4 618,510.4 619,510.5 619.9,510.5 620.9,510.6 621.9,510.6 622.9,510.7 623.9,510.7 624.9,510.7 625.9,510.8 626.9,510.8 627.9,510.9 628.9,510.9 629.9,511 630.9,511 631.9,511.1 632.9,511.1 633.9,516.8 562.4,516.8"/><path stroke="#c4c428" stroke-opacity="0.85" stroke-width="2.9" stroke-linecap="round" d="M566.1 512.4h0M582.8 512.4h0"/></g><g clip-path="url(#c36)"><path stroke="#0000ff" stroke-opacity="0.95" stroke-width="2.9" stroke-linecap="round" d="M662.3 453.2h0M663.7 454.6h0M659.5 460.6h0M683.9 459.2h0M682.5 461.9h0M671.4 467.2h0M679 471.9h0M683.9 475.9h0M663.7 477.2h0M684.6 482.5h0M678.3 485.8h0M683.2 489.1h0M667.2 487.8h0M689.4 487.8h0M681.8 493.1h0M688.7 492.5h0M690.8 497.1h0M667.9 495.8h0M659.5 495.8h0M663.7 500.5h0M671.4 500.5h0M680.4 500.5h0M681.1 502.4h0M670.7 505.8h0M692.9 502.4h0M694.3 505.1h0M697.1 506.4h0M687.3 507.8h0M701.2 509.1h0"/><path stroke="#ff0000" stroke-opacity="0.95" stroke-width="2.9" stroke-linecap="round" d="M663.1 505.1h0M661.8 506.8h0M673.9 507.9h0M661.4 510.2h0M666.7 505.7h0M671.3 507.5h0M661.7 503.7h0M661.4 504.8h0M661.7 506.1h0M668 506.2h0M664.4 505.6h0M669 507.4h0M667.3 505.9h0M673.8 509.2h0M663.6 509.6h0M660.9 507.4h0M667.8 508.4h0M665.4 505.6h0M667.1 508.2h0M662.5 507.2h0M661.2 504.2h0M661 510.3h0M666 503.9h0M661.3 502.8h0M660.4 508.8h0M673.3 507.7h0M664.7 504.2h0M662.8 509.8h0M661.7 510h0M660.8 510.1h0M662.9 506.1h0M664.7 507.8h0M667.7 509.4h0M663.4 507h0M664 505.2h0M671.8 508.5h0M661 502.8h0M673.5 509.2h0M671 506.9h0M660.7 509.1h0M664.4 503.2h0M665.7 504.3h0M662.7 510.1h0M666.4 510h0M661.8 506.9h0M667.7 507h0M670.2 509.1h0M662 504.7h0M658.1 460.6h0M658.1 465.9h0M658.1 469.2h0M658.1 474.5h0"/><polygon fill="#bfbf00" points="634.5,513.1 635.5,513.1 636.5,513.1 637.5,513.1 638.5,513.1 639.5,513.1 640.5,513.1 641.5,513.1 642.5,513.1 643.5,513.1 644.4,513.1 645.4,513.1 646.4,513.1 647.4,513.1 648.4,513.1 649.4,513.1 650.4,513.1 651.4,513.1 652.4,513.1 653.4,513.1 654.4,513.1 655.4,513.1 656.4,513.1 656.8,513.1 656.9,477.2 657.4,477.2 658.3,477.2 659.3,477.2 660.2,477.2 660.3,500.9 660.4,510.4 661.3,510.4 662.3,510.5 663.3,510.5 664.3,510.5 665.3,510.5 666.3,510.5 667.3,510.5 668.3,510.6 669.3,510.6 670.3,510.6 671.3,510.6 672.2,510.6 673.2,510.6 674.2,510.6 675.2,510.7 676.2,510.7 677.2,510.7 678.2,510.7 679.2,510.7 680.2,510.7 681.2,510.7 682.2,510.8 683.2,510.8 684.2,510.8 685.2,510.8 686.1,510.8 687.1,510.8 688.1,510.9 689.1,510.9 690.1,510.9 691.1,510.9 692.1,510.9 693.1,510.9 694.1,510.9 695.1,511 696.1,511 697.1,511 698.1,511 699.1,511 700,511 701,511 702,511.1 703,511.1 704,511.1 705,516.8 633.5,516.8"/></g><g clip-path="url(#c40)"><polygon fill="#bfbf00" points="207.5,556.6 208.5,556.5 209.5,557.4 210.5,557 211.5,557.4 212.5,556.8 213.5,557.6 214.4,557.5 215.4,557 216.4,557.6 217.4,556.6 218.4,556.4 219.4,557.5 220.4,557.6 221.4,557.4 222.4,557.3 223.4,556.2 224.4,556.5 225.4,557.3 226.4,556.1 227.4,556.6 228.3,556.5 229.3,557.6 230.3,556.5 231.3,556.3 232.3,556.6 233.3,557.6 234.3,557.1 235.3,557.5 236.3,557.3 237.3,557.5 238.3,557.7 239.3,557.1 240.3,556.2 241.3,556.3 242.2,557.5 243.2,557 244.2,557.7 245.2,557.1 246.2,557.7 247.2,556.8 248.2,557.5 249.2,557.5 250.2,557.5 251.2,556.8 252.2,556.6 253.2,557.2 254.2,557.2 255.2,556.5 256.1,557.3 257.1,557.5 258.1,557.4 259.1,556.4 260.1,557 261.1,557.2 262.1,557.1 263.1,556.5 264.1,556.3 265.1,557.1 266.1,557.6 267.1,556.2 268.1,557.4 269.1,556.6 270.1,556.7 271,557.6 272,557.3 273,556.3 274,556.7 275,556.8 276,557.2 277,557.3 278,586.5 206.5,586.5"/><path stroke="#bfbf00" stroke-width="3" stroke-linecap="round" d="M263.1 554.3h0M254.8 555.2h0M232.6 554.9h0M244.7 556.5h0M267.8 554.2h0M240.6 556h0M235.4 553h0M260.4 553.1h0M260.5 553.4h0M211.7 554.3h0M231.4 554h0M259.9 556.3h0M221.9 556.3h0M254.6 555.4h0M258.1 556.4h0M247.5 553.1h0M248.5 553.3h0M276.4 555.1h0M248.9 555.6h0M240 555.4h0M232.2 553.9h0M232 555.8h0M232.9 555.2h0M269.3 554.8h0M217.8 554h0M246 556.7h0M275.2 553.1h0M260.7 556.2h0M252.9 556.7h0M214.7 555.9h0M246.9 553.2h0M266.4 553.5h0M245.7 553.9h0M240.1 557h0M226.1 556.3h0M272.4 556.3h0M227.9 554.9h0M227.8 553.5h0M274 555.8h0M262.6 554.2h0M255.6 554.7h0M252.1 557h0M269.3 556.4h0M211.1 554.7h0M227 553.7h0M267.8 555.6h0M259.5 556.8h0M217.6 556.2h0M210.3 556.1h0M234.6 553.3h0M209.3 553.9h0M208 553.6h0M228.6 557h0M259.8 554.8h0M222.1 557.1h0M269.5 556.4h0M240.2 554.6h0M220.3 554.6h0M271.4 555.3h0M236.2 554.2h0M238.4 553.4h0M258 555.2h0M225.6 553.7h0"/><path stroke="#0000ff" stroke-opacity="0.95" stroke-width="2.9" stroke-linecap="round" d="M236 547.1h0M275.1 550.7h0M256.4 549.1h0M225.3 539.8h0M272.1 555.1h0M230.3 556.6h0M268.8 542.9h0M260.4 545.9h0M213.8 521.7h0M245 534.3h0M242.2 542.3h0M243.6 544.3h0M272.8 537.6h0M247.8 545.6h0"/><path stroke="#ff0000" stroke-opacity="0.95" stroke-width="2.9" stroke-linecap="round" d="M239.5 544h0M275.1 553.7h0M208 554.4h0M223.8 551.3h0M266.6 553.7h0M248.5 550.9h0M273.2 554h0M245.6 556h0M229.8 546.4h0M225.2 553.1h0M268.8 543.9h0M221.2 544.2h0M266.5 542.1h0M273.3 556.4h0M258 546.4h0M259.2 551.5h0M254.4 541.6h0M275.5 555.4h0M220.6 547h0M226.6 545.8h0M214.9 541.6h0M257.2 540.8h0M258.7 551.2h0M264.8 549.7h0M236.5 550.6h0M266.3 553.3h0M271.8 554h0M208.9 549.9h0M232.1 539.1h0M211.9 543h0M260.7 557.3h0M226.3 554.3h0M250.3 555.6h0M265.4 541.9h0M269.4 542.9h0M239.7 557.3h0M264.4 557.1h0M210.8 548.6h0M269.2 551.4h0M245.8 556.6h0M241.7 550.5h0M276.6 548.8h0M245 546.8h0M224.3 556.2h0M261.9 554.9h0M261.2 544.2h0M237.8 552.7h0M249.9 557.1h0M273 556h0M263.6 556.4h0M221.1 555.6h0M245.9 539.5h0M264.2 547.9h0M256.7 548.1h0M270.8 540.6h0M209.6 552.8h0M272.1 554.3h0M252.4 556.8h0M231.9 555.6h0M237.2 557.4h0M273.8 554h0M229.4 557.2h0M248 551.9h0M230.1 556h0M215.4 548.8h0M261.8 553.2h0M210.6 553.1h0M239.2 549.6h0M264.8 545.3h0M265.9 555.9h0M274.5 557.2h0M209 552.7h0M275.9 555.9h0M255.6 550.8h0M274.3 556.3h0M248.5 540h0M274.8 542.7h0M221.6 555.6h0M233.5 548.6h0M232.9 557.3h0M222.4 545.7h0M250.5 548.4h0M263.1 523h0M272.1 522.3h0M222.8 527h0M223.5 532.3h0M208.9 533.6h0M254.1 535h0M258.9 533.6h0M211 548.9h0M228.3 552.2h0"/><path stroke="#c4c428" stroke-opacity="0.85" stroke-width="2.9" stroke-linecap="round" d="M209.3 555.9h0M236.6 551.4h0M264.3 546.5h0M266.9 545.7h0M232 554.9h0M248.2 556.2h0M258.7 543h0M207.8 556.5h0M242.3 557.5h0M216.8 546.2h0M237.9 541.1h0M244 539.4h0M222.2 557.6h0M249.5 550.7h0M276.6 554.9h0M246.9 554.3h0M256 541h0M241.5 542.9h0M256 557.5h0M274.2 540.9h0M231.2 541.6h0M223.3 544.8h0M225.5 545.2h0M267.7 554.6h0M263.2 543.3h0M251.6 551.7h0M241.6 547.3h0M223.7 542.9h0M250.7 542.9h0M249.1 544.1h0M255 551.2h0M273.7 554.8h0M261.1 555.5h0M274.5 541.5h0M230.1 542h0M254.7 544.9h0M221.7 557.3h0M270.1 543.7h0M260.1 552.3h0M228 548.4h0M243.3 555.6h0M254.7 548.1h0M217.4 550.3h0M257.9 550.7h0M213.8 552.9h0M217.3 552h0M230.4 525.6h0"/></g><g clip-path="url(#c41)"><polygon fill="#bfbf00" points="278.7,560.2 279.7,560.1 280.7,560.7 281.6,560.7 282.6,560.7 283.6,560.1 284.6,561 285.6,559.7 286.6,560.7 287.6,560.5 288.6,559.7 289.6,560.9 290.6,560.5 291.6,559.5 292.6,560.6 293.6,560.5 294.6,560.3 295.5,559.5 296.5,560.5 297.5,561 298.5,560.9 299.5,559.9 300.5,560.5 301.5,559.7 302.5,560.3 303.5,559.8 304.5,560.3 305.5,559.7 306.5,560.2 307.5,560.1 308.5,559.9 309.4,560.8 310.4,560.9 311.4,560.4 312.4,560.7 313.4,560.4 314.4,560.6 315.4,559.8 316.4,559.9 317.4,559.9 318.4,560.2 319.4,560.3 320.4,560.9 321.4,560.7 322.4,560 323.3,560 324.3,560.6 325.3,560.6 326.3,559.5 327.3,560.1 328.3,559.4 329.3,560.5 330.3,561 331.3,559.7 332.3,560.3 333.3,560.9 334.3,559.9 335.3,559.5 336.3,560.4 337.2,560.4 338.2,560.5 339.2,560.8 340.2,560 341.2,560.4 342.2,560.9 343.2,559.7 344.2,559.5 345.2,560.4 346.2,559.7 347.2,560.7 348.2,560.8 349.2,586.5 277.7,586.5"/><path stroke="#bfbf00" stroke-width="3" stroke-linecap="round" d="M323.9 559.1h0M325.8 556.3h0M280.4 556.5h0M328.1 559.9h0M298.5 557.1h0M312.7 559.6h0M325.7 556.3h0M287.9 556.7h0M346.3 560.5h0M282.2 559.7h0M347.2 560.3h0M295.9 560.1h0M291.4 556.2h0M283.8 556.4h0M345.3 558.3h0M330.8 557.7h0M317.9 559.7h0M296.8 560.3h0M278.8 559.7h0M287.1 558.7h0M298.2 559.7h0M291.3 557.9h0M328.6 558.9h0M301.6 557.1h0M340.1 559.1h0M279.7 557.7h0M302.1 560.3h0M285.3 559.7h0M295.4 557.8h0M292.2 560.1h0M343.2 557.9h0M297.1 558.1h0M343.6 556.7h0M292.6 556.9h0M338.7 556.9h0M313.7 559.8h0M343.1 558h0M347.8 560.4h0M345.2 557.5h0M292 559.3h0M304 560.3h0M301.8 559.6h0M329.5 560.1h0M339.9 559.1h0M316.2 559.4h0M312.5 559.2h0M342.9 558.3h0M330.6 557.9h0M338.5 559.1h0M288.7 558h0M317.3 557.8h0M329.3 558.3h0M346.2 559.1h0M289.6 560.3h0M312.9 558.5h0M335.6 557.8h0M305.7 560.3h0M299.2 560.2h0M314.8 558.2h0M285.4 556.3h0M302.5 558.5h0M315.6 558.3h0M328.4 557h0"/><path stroke="#0000ff" stroke-opacity="0.95" stroke-width="2.9" stroke-linecap="round" d="M296.7 522.3h0M288.4 539h0M296.7 545.6h0M296.7 550.3h0"/><path stroke="#ff0000" stroke-opacity="0.95" stroke-width="2.9" stroke-linecap="round" d="M330.6 559.7h0M328.1 556h0M320.9 552.6h0M288.2 555.7h0M345.9 560.3h0M345.3 549.6h0M328 560.2h0M292.4 560.1h0M311.7 559.8h0M283.5 540.9h0M296.7 542.9h0M346.8 539h0M325.2 546.9h0M328.7 546.9h0M283.5 552.2h0M332.2 553.6h0"/><path stroke="#c4c428" stroke-opacity="0.85" stroke-width="2.9" stroke-linecap="round" d="M333 559.6h0M310.2 555.8h0M286.5 559.7h0M304.7 548.3h0M297.7 559.4h0M314.8 557.9h0M342 560.1h0M300.3 555.5h0M332.8 548.3h0M310.6 557h0M302.8 552.5h0M280.1 559h0M306.4 558h0M335.6 560h0M317.1 559.8h0M287.5 552.4h0M300.7 558.6h0M309.5 559h0M283.9 553.1h0M338.7 557.7h0M337.2 556.3h0M305.5 557.2h0M303.2 550h0M339.9 560.9h0M332.5 553.3h0M340.8 560.8h0M305.2 560h0M339.2 557.6h0M297.3 560.1h0M289.5 555.6h0M319.3 560.5h0M292.6 553.1h0M291.2 559.6h0M343.4 557.7h0M346.6 558.9h0M345.6 555.4h0M287.3 556.5h0M308.1 551.6h0M340.5 550.6h0M298.7 553.4h0M301 560.4h0M317.7 557.3h0M316.9 548.4h0M281.1 558.2h0M331.6 552.1h0M340.1 560h0M319.8 556.2h0M281.8 558.8h0M323.6 554.3h0M284.8 555.9h0M317.4 560.9h0M299.7 552.7h0M325.2 552.8h0M293 553.7h0M289.3 560.8h0M283.5 529.6h0M344.7 536.3h0M334.3 540.3h0"/></g><g clip-path="url(#c42)"><polygon fill="#bfbf00" points="349.8,558.3 350.8,557.4 351.8,558.1 352.8,557.8 353.8,558 354.8,557.8 355.8,557.8 356.8,558.1 357.8,558.3 358.8,557.5 359.8,558.2 360.8,558 361.8,557.9 362.7,558.1 363.7,558.2 364.7,558.1 365.7,557.9 366.7,558.3 367.7,558.2 368.7,557.9 369.7,557.5 370.7,557.7 371.7,557.6 372.7,557.8 373.7,558.4 374.7,557.4 375.7,558.2 376.6,558 377.6,557.6 378.3,574.7 378.6,574.4 379.6,574.2 380.6,574.7 381.1,574.7 381.6,566.8 382.5,551.8 382.6,551.9 383.6,551.3 384.6,550.3 385.6,549.8 386.6,550.2 387.6,550.1 388.6,550.1 389.6,550.4 390.5,551.3 391.5,551.1 392.5,567.7 392.9,574.9 393.5,574.9 394.5,575.1 395.5,574.2 395.7,574 396.5,564.5 397.1,557.8 397.5,558.2 398.5,558.3 399.5,558 400.5,558.2 401.5,557.9 402.5,557.3 403.5,557.2 404.4,557.2 405.4,557.2 406.4,557.8 407.4,557.7 408.4,557.7 409.4,557.5 410.4,557.8 411.4,557.6 412.4,557.7 413.4,557.3 414.4,557.4 415.4,556.8 416.4,557.8 417.4,557.2 418.3,556.9 419.3,557.5 420.3,586.5 348.8,586.5"/><path stroke="#bfbf00" stroke-width="3" stroke-linecap="round" d="M360.8 555.7h0M363.2 555h0M377.4 556.2h0M382 558.9h0M408.5 555.6h0M360 557.8h0M385.8 549.9h0M387.5 550.3h0M353.7 555.5h0M409 554.6h0M388.3 549.1h0M403.9 556.7h0M390.9 550.2h0M350 556.5h0M374.3 556.8h0M362.4 555.6h0M370.1 558h0M387.7 548.1h0M404.2 557.7h0M378.3 571.5h0M361.6 555.7h0M398.1 556.1h0M418.7 556.4h0M365.6 556.9h0M374.9 555.4h0M378.3 573.5h0M419.3 555.9h0M404.9 557.8h0M382.3 553.3h0M398.3 557.4h0M356.4 556.9h0M366.2 556.4h0M400 555.8h0M403.2 556.5h0M381.7 564.2h0M411.5 555.2h0M357.7 555.9h0M383.9 549.6h0M371.6 556.9h0M411.9 556.8h0M383.3 549h0M379.9 574.4h0M376.6 556.4h0M395 572.5h0M375.9 556.5h0M404.4 556.7h0M371.8 558h0M402.8 556.5h0M370.7 555.9h0M372.7 555.4h0M381.5 567.8h0M388.9 549.3h0M415.2 555.2h0M375.1 555.1h0M403 555.5h0M370.2 555.9h0M402.7 555.9h0M410.9 554.7h0M393 574.2h0M385 549.2h0M415.4 556.2h0M368.1 557.6h0M368.7 556.6h0"/><path stroke="#0000ff" stroke-opacity="0.95" stroke-width="2.9" stroke-linecap="round" d="M386 543.6h0"/><path stroke="#ff0000" stroke-opacity="0.95" stroke-width="2.9" stroke-linecap="round" d="M360.8 553.8h0M399 553.4h0M407.4 558.5h0M418.5 554.3h0M414.7 558.4h0M371.5 555.5h0M354.1 555h0M385.4 551.1h0M398.2 558.8h0M360.7 553.7h0M412.7 556.5h0M394.1 573.4h0M355.8 557.8h0M370.4 553.2h0M384.6 522.3h0M384.6 525.6h0M385.3 529h0M386.7 532.3h0M388.1 534.3h0M389.5 532.3h0M391.5 533.6h0M384.6 539h0M385.3 542.3h0M384.6 545.6h0M386 548.9h0M354 529.6h0M361 542.9h0M366.5 547.6h0M369.3 552.2h0M376.3 550.9h0"/><path stroke="#c4c428" stroke-opacity="0.85" stroke-width="2.9" stroke-linecap="round" d="M405.4 556.6h0M378 561.1h0M415.6 555h0M404.4 554.9h0M371.2 556h0M368.3 555.9h0M418.5 556.5h0M390 547.9h0M412 553h0M363.9 557.3h0M372.3 556.8h0M370.7 555.2h0M359.9 556.7h0M353.6 558.5h0M369.6 557.4h0M372.4 553.4h0M399.7 557.1h0M393.3 572.8h0M414.5 546.9h0M398.5 552.2h0M404.1 552.2h0"/></g><g clip-path="url(#c43)"><polygon fill="#bfbf00" points="421,583.3 422,583 423,583 424,582.7 425,582.4 426,581.8 427,581.2 428,581.2 429,580.4 429.9,579.6 430.9,578.8 431.9,578.2 432.9,577.1 433.9,576.6 434.2,576.6 434.9,575.4 435.9,574.3 436.9,573.1 437.9,571.2 438.9,570 439.9,569.2 440.5,568.6 440.9,567.5 441.9,565.8 442.9,563.8 443.8,561.7 444.8,560.1 445.8,558.2 446,557.9 446.8,556.8 447.8,555 448.8,554.3 449.8,553.2 450.8,551.9 450.9,551.4 451.8,551.5 452.8,551.5 453.8,551.9 454.8,551.7 455.8,552 456.8,551.3 457.1,551.6 457.7,552.5 458.7,553.3 459.7,554.8 460.7,555.5 461.7,556.6 462,557.1 462.7,558.1 463.7,559.9 464.7,561.4 465.7,563.3 466.7,564.4 467.6,565.9 467.7,566 468.7,567.4 469.7,568.5 470.7,569.3 471.6,570.3 472.6,571.1 473.6,572.2 474.6,572.9 475.6,573.9 475.9,574.5 476.6,574.7 477.6,575 478.6,575.5 479.6,576 480.6,576.6 481.6,576.9 482.6,577.7 483.6,577.8 484.6,578.1 485.5,578.5 486.5,578.9 487.5,578.8 488.5,579.2 489.5,579.4 490.5,579.2 491.5,586.5 420,586.5"/><path stroke="#bfbf00" stroke-width="3" stroke-linecap="round" d="M428 579.6h0M481.9 575.9h0M486 577.2h0M470.9 567.9h0M463 556.9h0M447.6 555.1h0M485.3 577.5h0M436.2 573.6h0M423.9 581h0M481.2 576.4h0M482.1 577.2h0M447.7 555.3h0M445.5 557.3h0M472 570.4h0M447.9 554.2h0M459.7 553.1h0M454.5 551.2h0M441.8 565.7h0M453.7 551.6h0M467.4 564.9h0M435.8 572.4h0M425.9 580.9h0M455.5 550.7h0M451.6 551.6h0M468 565.9h0M478.2 573.8h0M487.5 578.3h0M453.5 549.8h0M480.1 576.2h0M426.5 579.4h0M479.1 575.2h0M434.1 575.2h0M463.6 559.4h0M468.6 565.7h0M436.4 572.6h0M421.5 582.6h0M489.1 577.5h0M477.7 574.4h0M482 576.6h0M471.6 569.2h0M430.4 578.8h0M465.5 562.1h0M452.3 550.6h0M432.8 575.3h0M431.4 576.9h0M461.7 555.7h0M479.5 575h0M455.4 550.3h0M459.4 554.1h0M480.5 576.6h0M449.1 553.4h0M460.3 553.5h0M435.7 573.3h0M470.4 568.1h0M433.2 576.3h0M457.8 552.2h0M484.9 576.6h0M421.4 582.4h0M421.3 583.5h0M485.5 577.6h0M466.2 562.7h0M433.7 575.8h0M438.8 570h0"/><path stroke="#0000ff" stroke-opacity="0.95" stroke-width="2.9" stroke-linecap="round" d="M457.1 543.6h0M460.6 543.6h0M464.1 543.6h0M440.5 551.6h0M434.2 572.9h0M471.7 521.7h0"/><path stroke="#ff0000" stroke-opacity="0.95" stroke-width="2.9" stroke-linecap="round" d="M440.4 566h0M441.5 564.8h0M435.6 566.9h0M437.9 565.3h0M437.7 561.9h0M441.9 568.6h0M438.6 564.4h0M439.9 563.1h0M440.7 560.2h0M440 568.8h0M442.5 562.3h0M436.2 571.4h0M439.7 559.8h0M441.6 565h0M441.2 568.4h0M439.9 570.2h0M438.9 559.3h0M459.9 539.3h0M459.5 538.3h0M453.4 543.1h0M449.1 543.9h0M458.2 548.7h0M459.6 539.8h0M463.7 544.7h0M452 539.8h0M449.2 548.2h0M461.4 541.2h0M454.7 544.6h0M454.4 538.8h0M456.9 545.8h0M460.4 543.7h0M461.5 546.9h0M462.8 544.4h0M453.9 541.4h0M463.7 546.6h0M452.5 544.4h0M463.6 545h0M470.3 567h0M472 565.1h0M481.7 577.9h0M467.4 567.3h0M470.8 565.2h0M470.6 569h0M464.6 558.6h0M471.3 568.4h0M483.2 575.8h0M469.6 563.1h0M476.3 571.8h0M469.2 568.3h0M467.4 559.7h0M469.5 563.1h0M469.8 562.4h0M464.8 558.7h0M480.5 574.6h0M445.7 560.2h0M442 561h0M443.4 561.2h0M443.4 557.4h0M448.4 555h0M445 554.3h0M467.6 533.6h0M452.3 535.6h0M443.9 539h0M455.8 532.3h0M424.5 580.8h0M428 578.9h0"/></g><g clip-path="url(#c44)"><path stroke="#0000ff" stroke-opacity="0.95" stroke-width="2.9" stroke-linecap="round" d="M536.7 522.3h0M537.4 530.3h0M539.4 533.6h0M535.3 537.6h0M542.9 542.3h0M530.4 555.6h0M531.8 560.2h0M549.2 562.9h0M549.2 570.2h0M510.9 565.5h0M560.3 578.9h0"/><path stroke="#ff0000" stroke-opacity="0.95" stroke-width="2.9" stroke-linecap="round" d="M527.6 559.5h0M547.9 575.1h0M545 571.6h0M550.8 577.4h0M533.9 553.4h0M547.8 573.3h0M529.8 561.7h0M535.2 554.6h0M541.8 572.9h0M532.2 551.7h0M544.4 576.2h0M536.1 567.7h0M526.3 549.2h0M540 572.8h0M532.5 568.2h0M541.1 567.1h0M523.8 553.2h0M526.7 551.2h0M536.2 563.4h0M530.5 551.7h0M538.9 562.1h0M539.9 575.6h0M531.7 562.8h0M545.7 574.6h0M544.6 567.7h0M559.4 580.3h0M535.8 565.7h0M541.7 565.2h0M533.4 561.9h0M530.8 563.1h0M541.7 571.2h0M534.7 568.2h0M541 565.1h0M543.2 570.7h0M551 577.2h0M541.6 570.8h0M529.3 555.2h0M540.3 572.6h0M533.2 558.4h0M529.5 553.7h0M551.8 579.2h0M529.4 555h0M547.6 570.5h0M559.2 577.3h0M531.2 569.4h0M537.6 559.8h0M531.3 562h0M530.5 560.3h0M525.9 550h0M533.8 565.7h0M537.4 569.5h0M555.2 580.4h0M556.1 578h0M536 560.6h0M541.6 575.3h0M538.1 561.2h0M529.5 555.7h0M552.5 579.2h0M547.4 579h0M550.6 578.3h0M545.2 565.7h0M544.7 577.8h0M547.1 576.8h0M524.5 547h0M549.4 574.2h0M550 575.1h0M529.5 560.9h0M549.7 577.8h0M557.3 576.1h0M530 548.1h0M542.2 571.6h0M544.2 571.8h0M542.6 568h0M527.7 560.6h0M537.4 557.3h0M528.3 549.7h0M525.1 551.9h0M536.8 573.8h0M532 550.3h0M531.9 551.7h0M548.9 580.2h0M527 553.8h0M533.4 560.1h0M535.8 571.3h0M535.4 558.3h0M560 580.4h0M554 579h0M534.2 569.4h0M535.5 560.9h0M541 569.2h0M532.3 568.4h0M547.7 571h0M537.8 558.9h0M526.8 552h0M546 576.5h0M544.9 569.6h0M531.5 561.7h0M554.8 578.5h0M541.7 570.5h0M536.3 557.7h0M526.1 552.3h0M527 562h0M554.3 575.8h0M538.1 569.8h0M528.4 550.9h0M547.5 569.9h0M530.8 568.6h0M531.1 555.6h0M544.5 569.2h0M531.2 549.4h0M559.1 577.6h0M542.4 572h0M555.2 574.8h0M536.5 555h0M544.9 575.5h0M525.8 554.8h0M527.3 547.3h0M556.3 578.8h0M539.4 568.1h0M527.8 561.2h0M534.2 555.5h0M528.7 562.4h0M532 551.5h0M528 556.9h0M549.3 577.6h0M545.8 574h0M554.2 576.4h0M533.3 571.3h0M545.4 578.5h0M540.8 573.6h0M534.1 569h0M524.9 553.8h0M553.4 576h0M542.7 571.9h0M525.7 557.7h0M539.8 561.5h0M526.9 562.2h0M524.9 552h0M529.8 565.5h0M525.9 547h0M541.9 565.9h0M536.4 569.5h0M540.1 574h0M546.1 575.9h0M537.4 561.9h0M543.1 566.4h0M530.5 551.2h0M526.7 553.5h0M530.4 556.7h0M546.5 568h0M533.4 567.3h0M525 548.3h0M523.9 548.3h0M528.3 564.5h0M532.1 558h0M550.8 573.8h0M529.7 563.1h0M538.2 572.7h0M543 567.8h0M541.7 570h0M546.4 569.6h0M538.5 542.3h0M536.1 540.4h0M529.7 546h0M531 546.7h0M531.4 536.3h0M534.3 545.2h0M534.6 540.8h0M529.4 546.6h0M530.6 547.5h0M534.9 544.4h0M530.4 530.4h0M531.6 536.6h0M531.3 533.2h0M539.9 545.6h0M538.1 552.1h0M537.4 549.6h0M557.3 564h0M554.2 566.9h0M540.9 543.9h0M539.1 549.1h0M557.7 567.8h0M535.2 549.6h0M546.8 561h0M556.8 570h0M552.7 567.5h0M544.6 559.4h0M555.4 571.3h0M536.7 551.8h0M542 547.6h0M539.4 554.4h0M556.4 563.6h0M546.4 556.1h0M553.3 566.6h0M544.5 550.6h0M541.3 547.7h0M546.1 551.5h0M559.4 567.1h0M542.3 554.7h0M540.5 557h0M558.4 573.4h0M548.9 559.3h0M541.8 557.7h0M545.9 551.7h0M549.8 560.8h0M546.3 557.3h0M536.8 543.7h0M543.3 549.4h0M550.1 558.2h0M550.9 560.4h0M546.9 558.1h0M545.5 553.6h0M554 568h0M542.1 548.5h0M526.9 522.3h0M526.9 524.3h0M528.3 535.6h0M530.4 539h0M533.9 532.3h0"/><polygon fill="#bfbf00" points="492.2,585.8 493.2,585.7 494.2,585.2 495.2,585 496.2,585 497.1,584.6 498.1,584.4 499.1,584 500.1,584.2 501.1,583.8 502.1,583.5 502.6,583.4 503.1,582.7 504.1,582 505.1,581.1 506.1,579.8 507.1,578.8 507.5,578.7 508.1,576.9 509.1,574.6 510.1,572 511,569.3 511.6,567.9 512,565.8 513,559.4 514,553 514.4,550.5 515,549.1 516,547.4 517,545 517.9,542.8 518,542.7 519,541.9 519.3,541.2 520,544.4 521,548.4 522,552.1 522.8,555.5 523,555.6 524,557.5 524.9,558.9 525.9,560.5 526.9,562.6 527.9,563.8 528.9,565.4 529.9,567.1 530.4,568 530.9,568.3 531.9,569.1 532.9,570.2 533.9,571.1 534.9,571.7 535.9,573.2 536.9,573.6 537.9,574.7 538.8,575.9 539.8,576.6 540.8,577.6 541.8,577.9 542.8,578.1 543.8,578.3 544.8,578.7 545.8,578.8 546.8,579.5 547.8,579.6 548.8,580 549.8,580 550.8,580.3 551.3,580.7 551.8,581 552.7,580.8 553.7,580.8 554.7,581.1 555.7,581.5 556.7,581.2 557.7,581.4 558.7,581.7 559.7,581.6 560.7,581.9 561.7,581.8 562.7,586.5 491.2,586.5"/><path stroke="#bfbf00" stroke-width="3" stroke-linecap="round" d="M548.9 578.6h0M501.6 582.8h0M545 578.5h0M556.8 580.6h0M499.8 583.4h0M544.2 577.7h0M539.4 575.3h0M528.7 565.1h0M519.2 540.8h0M525.7 560.4h0M555.7 580.3h0M523.2 555.2h0M499.7 583.3h0M533.4 569.8h0M527.8 562.5h0M555 580.8h0M493.2 584.7h0M541.4 577.5h0M532.9 568.9h0M528.8 564h0M502 582.4h0M535.9 572h0M500.7 583.1h0M542.8 576.9h0M547.2 577.9h0M526.8 560.6h0M541.6 576.5h0M555.2 581h0M519.6 541.2h0M502 583.5h0M525.8 560.3h0M555.4 580.1h0M539.5 575.5h0M532.2 568.7h0M521.7 551.3h0M541.9 577h0M520.5 545.4h0M523.2 555.7h0M535.4 572.2h0M548.2 578.5h0M544.3 577.9h0M524.5 558.1h0M560.6 581.3h0M511.4 567.3h0M533.5 569.6h0M530.6 568.3h0M552.7 579.6h0M505.8 579.8h0M502.9 581.8h0M508.9 574.3h0M527.4 562h0M499.4 583.6h0M504.1 580.8h0M556.8 581.5h0M493.1 585.6h0M539.3 576h0M540.4 576h0M529.3 565.6h0M541.8 576.9h0M531.1 568.5h0M537.3 573.7h0M552.6 580h0M510.7 569.2h0"/><path stroke="#c4c428" stroke-opacity="0.85" stroke-width="2.9" stroke-linecap="round" d="M513 538.3h0"/></g><g clip-path="url(#c45)"><path stroke="#0000ff" stroke-opacity="0.95" stroke-width="2.9" stroke-linecap="round" d="M596.7 523.7h0M616.2 522.3h0M601.6 543.6h0M605.1 545.6h0M623.8 543.6h0M614.1 552.2h0M626.6 564.2h0M625.2 567.5h0M622.4 570.2h0M629.4 575.5h0M612 562.2h0"/><path stroke="#ff0000" stroke-opacity="0.95" stroke-width="2.9" stroke-linecap="round" d="M608.3 573.7h0M624.4 575.2h0M595.4 565.3h0M603.6 562.1h0M611.1 562.2h0M602.3 559.3h0M612.9 562.9h0M620.9 568.5h0M588.2 556.2h0M596.9 550.4h0M591.7 547.1h0M620.7 579.5h0M589.5 562h0M603.9 554.7h0M605.9 565.4h0M619.9 577.4h0M626.7 573.9h0M629.7 581.3h0M600.5 567.6h0M614.9 565h0M604.2 580h0M594.9 548.8h0M621.2 573.2h0M609.1 577.1h0M611.3 576.2h0M593.7 551.2h0M596 562.6h0M617 576.9h0M609.7 568.9h0M615.8 576.5h0M619.2 578h0M625.2 574.6h0M591.6 567.6h0M618.8 566.8h0M596.2 570.3h0M609.1 575.4h0M624.1 575.3h0M609.6 561.7h0M621.4 578.1h0M606.5 576.3h0M608.9 566.7h0M598.3 559.6h0M600.1 572.7h0M616.3 567.4h0M604.8 563.9h0M608.2 572.6h0M597.5 551h0M620.4 572.6h0M603.5 557.3h0M606.4 560.9h0M610.8 573h0M604.7 575.5h0M595.5 566.8h0M599.9 570.2h0M608.7 561.4h0M611.8 576.2h0M624.8 580.4h0M619.5 570.8h0M606 577.5h0M624.3 577.8h0M626.1 578.3h0M590.2 569.5h0M599.8 568.2h0M612.7 565.5h0M605.7 577h0M616.7 575.2h0M611.7 570.8h0M590.1 567h0M598.1 554.6h0M615.9 571.7h0M611.7 566.6h0M623.7 578.7h0M625.5 574.3h0M624.7 579.5h0M601.4 569h0M592.5 564.4h0M588.7 564.5h0M600.4 552.9h0M609.2 573.4h0M601.9 560.3h0M609.2 575.6h0M598.5 552.1h0M595.9 571.1h0M591.8 566.7h0M590.6 547.2h0M603.6 571.6h0M617 578.9h0M588.5 550.7h0M613.4 567.3h0M595.8 553.5h0M613.5 577.8h0M615.6 570.8h0M591.2 568.1h0M618.3 569.4h0M620.1 578.9h0M631.8 579.4h0M604.8 562h0M610.7 570.3h0M601.2 554.6h0M620.7 575.2h0M609.8 562.9h0M595.6 550.5h0M614.4 570.8h0M602.3 577h0M619.5 573.6h0M596.1 569.6h0M600.7 553.2h0M621.3 569h0M615.5 574h0M630.9 577h0M615.9 572.2h0M601.9 556.4h0M595.9 563.9h0M617.2 567.9h0M595.7 552h0M596.1 561.6h0M600.7 563.8h0M600.9 572.8h0M616.8 568h0M587.8 551.1h0M615.6 578.6h0M608.9 578.4h0M596.4 576.1h0M628.2 574.9h0M599.5 551.4h0M602.3 562.4h0M588.3 562.6h0M602.9 576.6h0M610.9 562.7h0M588.9 553.3h0M590 551.4h0M618.1 579.9h0M598.9 571.3h0M604.8 558.8h0M590.2 564.7h0M593.2 552.9h0M590.8 552.7h0M599.1 551.4h0M615.7 569.7h0M588.3 549.4h0M602.3 565.3h0M619.4 570.7h0M590.2 552h0M618.1 568.2h0M620.3 572.4h0M624.4 580.2h0M597.8 570.9h0M603.4 559h0M629.3 579.2h0M605.3 569.4h0M618.2 571.7h0M607.9 571.4h0M624.5 575.3h0M609.4 577.3h0M601.9 575.7h0M592.3 569.2h0M627.9 573.2h0M600.6 553.2h0M594 573.5h0M631.7 576.7h0M598.5 568.4h0M612.4 580.2h0M613.6 577.3h0M619.4 580h0M615.9 579.9h0M593.5 563h0M599.7 551.7h0M602.2 570.9h0M594.9 566.7h0M593.8 564.1h0M622.1 579.4h0M596.2 556.1h0M596.5 572.9h0M594.4 555.3h0M618.8 578.2h0M625.3 573.3h0M602 554.9h0M591.8 553.6h0M595.1 565.7h0M600.2 558h0M595.9 553.1h0M607.5 577.7h0M614.2 580.7h0M599.4 563.6h0M604.5 569.3h0M605 564.8h0M599.3 552h0M600.8 561.7h0M609.4 578.5h0M610.5 571.5h0M606 577.7h0M612.6 580.1h0M600 555.8h0M591.7 548.3h0M600 576h0M597.5 564.7h0M613.7 578.6h0M612.7 572.9h0M629.9 579.7h0M596.6 549.6h0M616.6 574.5h0M625.7 581h0M607.2 568.2h0M603.1 560.9h0M600.6 554.4h0M616.9 565.9h0M602.7 557.3h0M596.5 563.9h0M594.7 549.7h0M600.8 575.9h0M614.9 574.9h0M617.1 578.4h0M596.4 573h0M597.3 569.6h0M609.6 564.6h0M599.1 563.1h0M629.3 577.2h0M594.5 558.9h0M611 571.2h0M607.5 567.9h0M624.1 573h0M607.3 568.2h0M617.3 571.8h0M599.5 561.2h0M600.9 573.2h0M613.6 576.9h0M591.3 572.1h0M632.4 577.4h0M598.2 560.6h0M629.2 578.7h0M586.8 556.9h0M609.9 573h0M591.6 548.9h0M624.4 575.1h0M603.4 567.6h0M615.6 566.2h0M600 559.9h0M596 561.6h0M599.2 573.6h0M599.8 555.7h0M595.4 558.5h0M622.3 578.3h0M612.5 565.1h0M622.5 572.6h0M631.8 577.9h0M610 576.9h0M596.8 555.7h0M589.9 561.4h0M597.4 575.7h0M617.3 573.6h0M606.8 563.2h0M608.9 579.3h0M606.4 557.4h0M601.2 573.2h0M604.6 572.9h0M616.4 574.1h0M601.9 571.8h0M601.8 557.5h0M592.7 555.8h0M606 561.6h0M617.7 576h0M601 552.4h0M591.4 555.6h0M597.8 558.6h0M587.4 560.4h0M611.4 570.3h0M627 578.4h0M618 567h0M601.7 563.8h0M617.1 566.8h0M611.3 566.1h0M597.4 558.7h0M618.2 576.4h0M606 567.2h0M602.5 566.5h0M619.5 570h0M593.8 565.5h0M598.7 566.4h0M594.7 547.5h0M588 549.5h0M594.4 559.9h0M608.6 560.7h0M598.3 551.4h0M593.5 568.9h0M610.6 565h0M602.3 579.2h0M594 557.4h0M600.3 553.2h0M592.3 547.3h0M596.6 558.7h0M610.4 563.4h0M586.7 560.1h0M612.2 565.7h0M593.9 553.5h0M603.7 577.8h0M620 568.9h0M594.7 566.4h0M627.2 579.6h0M619.4 578.2h0M594.4 569h0M589.8 546.6h0M599 559.7h0M593.6 557.7h0M606.4 574.9h0M604.7 577.4h0M607.9 571.4h0M592 550.2h0M591.8 568.9h0M589.4 564.7h0M594.4 549.2h0M612.1 579.8h0M606.4 569.1h0M593.8 572h0M599.6 560.8h0M621.4 578.6h0M598.6 556.5h0M608.8 579.1h0M586.4 558.5h0M628.8 573.6h0M593.6 571.4h0M617.2 574h0M615.4 564.8h0M601.5 558.6h0M601.5 559.5h0M606.3 574.7h0M594.7 566.3h0M596.4 565.3h0M600.7 577.1h0M619.4 580.1h0M594.3 567.8h0M601.4 578.8h0M613.6 576.6h0M594.5 561.2h0M613.3 569.5h0M625.1 579.3h0M595.2 565h0M624.3 573.5h0M605.3 570.3h0M596.1 564.3h0M603.1 559h0M594.5 562.1h0M620.2 570.2h0M614.1 563.2h0M601.3 571h0M616.7 578.6h0M613.7 572.7h0M603.6 564.2h0M603.4 570.5h0M593 560.4h0M589.3 553.9h0M609.4 572.7h0M602.3 570.1h0M594.7 557.7h0M587.7 556.2h0M616.8 569.9h0M598.4 576.4h0M607.7 559.5h0M606.7 568.4h0M596.1 559.6h0M605.6 572.3h0M622.7 575.5h0M613.6 567.8h0M631 576.1h0M603 576.9h0M588.5 562.8h0M598.2 537.7h0M599.2 541.4h0M599.4 546.1h0M597.3 546.8h0M593.4 546.1h0M598.9 545.6h0M593.2 542.7h0M594.2 546.7h0M594.6 532.3h0"/><polygon fill="#bfbf00" points="563.4,585.7 564.3,586.3 565.3,586.1 566.3,586.2 567.3,586.2 568.3,586.1 569.3,586.1 570.3,585.8 571.3,585.9 572.3,586.1 573.3,585.8 574.3,585.8 575.3,585.9 576.3,585.7 577.2,586 578.2,586 579.2,585.9 580.2,585.8 581.2,586.2 582.1,586.1 582.2,580.2 582.8,546.1 583.2,545.6 584.2,544.1 585.2,545.8 585.6,546 586.2,550 587.2,556.4 587.7,559.3 588.2,560.7 589.2,563.1 590.2,565.6 591.1,567.8 592.1,570.6 592.5,571.5 593.1,571.8 594.1,573.1 595.1,573.4 596.1,574.5 597.1,575.3 598.1,576 599.1,577.4 600.1,578.3 601.1,579.1 601.6,579.3 602.1,579.4 603.1,579.7 604.1,579.3 605.1,579.7 606,579.5 607,579.5 608,579.7 609,580.3 610,580.1 611,580 612,580 613,580.3 614,580.6 615,580.8 616,580.3 617,580.5 618,580.5 619,581.1 619.9,581 620.9,580.9 621.9,581.1 622.9,581 623.9,581.2 624.9,581.5 625.9,581.1 626.9,581.6 627.9,581.3 628.9,581.6 629.9,581.6 630.9,581.7 631.9,582.1 632.9,582.3 633.9,586.5 562.4,586.5"/><path stroke="#bfbf00" stroke-width="3" stroke-linecap="round" d="M598.6 576.1h0M620.9 580.9h0M565.1 586h0M617 579.8h0M604.2 579.4h0M564.4 585.2h0M564.4 585h0M618.4 580h0M628.4 580.4h0M591.2 567.2h0M589.2 562.4h0M569.3 584.5h0M593.3 572.1h0M593.4 571.7h0M622.6 579.7h0M632.8 580.7h0M597.3 575.5h0M623.1 581.2h0M610 579.9h0M566.8 585.6h0M628 581.7h0M614 580.3h0M578.1 585.4h0M624.7 580.9h0M586 548.7h0M592.8 570.7h0M625 580.4h0M600.8 578.1h0M606.3 579.1h0M629.4 580.9h0M581 584.7h0M593.6 571.2h0M632.5 581.2h0M574.1 585.6h0M578.1 585.8h0M587.4 556.4h0M626.6 581.2h0M606.1 579.6h0M624.1 580h0M574.5 586.1h0M623.8 580.6h0M620.9 580.9h0M599.1 576.7h0M593 571.3h0M620.8 581h0M589.2 562.8h0M627.7 580.5h0M598.4 576.4h0M589.9 564.6h0M609.2 579.7h0M602.4 578.7h0M608.4 579.8h0M609.5 580.1h0M589.3 563.5h0M607.6 579.8h0M615.3 580.1h0M578.5 585.7h0M601.8 578h0M595.4 573.4h0M612.7 579.2h0M568.3 586.1h0M604.5 578.9h0M581.4 584.7h0"/><path stroke="#c4c428" stroke-opacity="0.85" stroke-width="2.9" stroke-linecap="round" d="M586.3 539h0"/></g><g clip-path="url(#c46)"><polygon fill="#ff0000" points="659.2,570.9 665.8,573.5 672.7,578.9 659.2,580.2"/><path stroke="#0000ff" stroke-opacity="0.95" stroke-width="2.9" stroke-linecap="round" d="M665.8 532.3h0M667.2 537.6h0M659.5 537h0M663.7 543.6h0M667.9 546.9h0M664.4 552.2h0M670 552.2h0M673.4 550.3h0M663 560.2h0M669.3 560.9h0M668.6 565.5h0M663.7 567.5h0M666.5 567.5h0M670.7 568.2h0M676.2 568.2h0M660.9 572.2h0M665.8 575.5h0M672.7 573.5h0M674.1 576.9h0M681.8 578.9h0M687.3 572.2h0M692.2 572.2h0M690.8 578.9h0M697.1 578.9h0M699.2 578.9h0M701.2 578.9h0M703.3 578.9h0"/><path stroke="#ff0000" stroke-opacity="0.95" stroke-width="2.9" stroke-linecap="round" d="M665.8 572.1h0M661.2 572.1h0M658.7 570.5h0M670.2 577h0M671.7 579.4h0M668.4 575.2h0M662.5 580.9h0M664.6 580.5h0M663.1 581h0M658.4 579.8h0M671.8 579.3h0M661.4 578.9h0M659.7 572.9h0M658.6 577.3h0M659.8 578.3h0M659.3 571.1h0M658.1 522.3h0M658.1 532.3h0M658.1 535.6h0M658.1 545.6h0M658.1 553.6h0"/><polygon fill="#bfbf00" points="634.5,582.8 635.5,582.8 636.5,582.8 637.5,582.8 638.5,582.8 639.5,582.8 640.5,582.8 641.5,582.8 642.5,582.8 643.5,582.8 644.4,582.8 645.4,582.8 646.4,582.8 647.4,582.8 648.4,582.8 649.4,582.8 650.4,582.8 651.4,582.8 652.4,582.8 653.4,582.8 654.4,582.8 655.4,582.8 656.1,540.3 656.4,540.3 657.4,540.3 658.3,540.3 658.8,540.3 659.2,580.2 659.3,580.2 660.3,580.2 661.3,580.2 662.3,580.2 663.3,580.2 664.3,580.3 665.3,580.3 666.3,580.3 667.3,580.3 668.3,580.3 669.3,580.3 670.3,580.3 671.3,580.4 672.2,580.4 673.2,580.4 674.2,580.4 675.2,580.4 676.2,580.4 677.2,580.4 678.2,580.5 679.2,580.5 680.2,580.5 681.2,580.5 682.2,580.5 683.2,580.5 684.2,580.6 685.2,580.6 686.1,580.6 687.1,580.6 688.1,580.6 689.1,580.6 690.1,580.6 691.1,580.7 692.1,580.7 693.1,580.7 694.1,580.7 695.1,580.7 696.1,580.7 697.1,580.7 698.1,580.8 699.1,580.8 700,580.8 701,580.8 702,580.8 703,580.8 704,580.8 705,586.5 633.5,586.5"/></g><g clip-path="url(#c50)"><polygon fill="#bfbf00" points="207.5,625.6 208.5,625.8 209.5,625.3 210.5,624.8 211.5,625.5 212.5,625 213.5,625.6 214.4,624.9 215.4,625.3 216.4,625.6 217.4,624.5 218.4,624.9 219.4,625 220.4,624.9 221.4,625.7 222.4,624.6 223.4,625.1 224.4,624.9 225.4,624.6 226.4,624.6 227.4,625.7 228.3,625 229.3,625.7 230.3,625 231.3,624.9 232.3,624.7 233.3,624.6 234.3,624.5 235.3,625.5 236.3,625.7 237.3,625.8 238.3,625.5 239.3,625.7 240.3,625.3 241.3,625.1 242.2,625.8 243.2,625.2 244.2,624.7 245.2,625.3 246.2,625.7 247.2,625.5 248.2,625.2 249.2,625.5 250.2,624.8 251.2,625.4 252.2,625.3 253.2,624.5 254.2,625.8 255.2,625.6 256.1,625.6 257.1,624.8 258.1,625.5 259.1,625 260.1,624.5 261.1,625.7 262.1,625.4 263.1,624.8 264.1,625.1 265.1,624.7 266.1,625.7 267.1,624.9 268.1,625.6 269.1,625 270.1,625.3 271,624.8 272,624.5 273,624.5 274,624.7 275,625 276,624.6 277,625.1 278,656.2 206.5,656.2"/><path stroke="#bfbf00" stroke-width="3" stroke-linecap="round" d="M224.3 622.7h0M234.4 622.7h0M239.5 623.8h0M245.9 621.7h0M217.6 622h0M242.6 623.5h0M231 623.2h0M217.7 623h0M247.6 624.8h0M240.7 624.3h0M211.1 624.4h0M243.1 623.7h0M262.2 624.4h0M232 623.1h0M273.7 624.3h0M273.1 623.5h0M260.2 624h0M246.4 624h0M254.2 623h0M226.5 624.8h0M257.6 623h0M241.2 625.2h0M260.7 625.2h0M271 622.5h0M243.7 624.9h0M272.5 625.3h0M226.6 622.9h0M252.9 622.7h0M214.7 623.6h0M260.1 623.5h0M244 623.3h0M211 624.2h0M270.2 624.9h0M239.9 623.1h0M267.5 622.4h0M210.5 624.9h0M233.3 622.9h0M232.7 622.3h0M274.2 623.7h0M274.7 623.1h0M248.7 623.9h0M208.5 624.3h0M216 625h0M248.3 624.5h0M263.7 622.2h0M213.9 623.8h0M263.3 621.8h0M253.2 622.5h0M241.5 623.2h0M224.1 625.1h0M247.5 622.7h0M211.1 624.7h0M267.8 622h0M216.2 624h0M224.1 624.6h0M259.8 623.9h0M209 624.5h0M230.5 623.6h0M224.9 622.9h0M210.5 623.6h0M229.4 625.3h0M243 624.5h0M258.3 622.9h0"/><path stroke="#0000ff" stroke-opacity="0.95" stroke-width="2.9" stroke-linecap="round" d="M208.6 623.6h0M224.8 614h0M212.6 613.3h0M212.2 623.9h0"/><path stroke="#ff0000" stroke-opacity="0.95" stroke-width="2.9" stroke-linecap="round" d="M240.7 617.3h0M250.6 624.8h0M270.5 617.7h0M276.5 625.4h0M260.7 613.8h0M244 624.9h0M254.1 621.5h0M261.7 614.8h0M210 623.2h0M228.9 613.9h0M255 617.6h0M217.7 622h0M243.6 617.5h0M277 615.2h0M259.5 618.7h0M214.8 618.2h0M271.5 622.7h0M271.2 625.9h0M226.9 619.9h0M243.5 625.7h0M252.5 618.4h0M233.7 625.9h0M259.3 621.3h0M262.5 621.2h0M260.8 617.5h0M211.3 620h0M236.7 613.9h0M225.8 623.3h0M222.1 616.9h0M256.3 620.2h0M234.6 625.4h0M256.5 625.2h0M212 622.8h0M260.2 623h0M276.8 617.6h0M257.5 622.7h0M271.5 617.3h0M221 624h0M272.7 618.9h0M234.8 619.4h0M209.3 616.8h0M250.2 617.3h0M272.5 622.5h0M249.9 620.2h0M210.9 619.4h0M247.9 623.9h0M217.8 625.4h0M223 619.7h0M229.7 592.1h0M208.9 600.1h0M243.6 601.4h0M257.5 596.7h0M274.9 600.1h0M207.5 612.7h0M221.4 612h0M241.6 612.7h0M264.5 612.7h0M211 622h0M221.4 622h0"/><path stroke="#c4c428" stroke-opacity="0.85" stroke-width="2.9" stroke-linecap="round" d="M215.6 619.7h0M267.1 625.6h0M263.5 625.5h0M236.2 615.3h0M262.1 619.4h0M258.7 622.5h0M268.5 624.5h0M272.3 619.3h0M207.5 623.1h0M228.1 617.9h0M219.3 621.4h0M220 621.8h0M220 612.7h0M209.4 617.2h0M226.1 621.5h0M244.2 623h0M224.5 625.5h0M258.1 622.8h0M249.7 616h0M243 618h0M274.7 625.4h0M229.8 625.7h0M232.9 615.5h0M220.9 623.9h0M210 625.1h0M217.3 625h0M228.2 616.8h0M263.8 613.5h0M224.2 608.7h0M249.2 607.4h0"/></g><g clip-path="url(#c51)"><polygon fill="#bfbf00" points="278.7,630.2 279.7,630.2 280.7,629.6 281.6,630.5 282.6,629.7 283.6,629.8 284.6,630.3 285.6,629.7 286.6,630.7 287.6,629.9 288.6,629.8 289.6,629.2 290.6,630.4 291.6,629.5 292.6,629.9 293.6,630.3 294.6,629.9 295.5,630.7 296.5,629.8 297.5,629.8 298.5,629.3 299.5,629.2 300.5,629.4 301.5,630.1 302.5,629.4 303.5,630 304.5,629.4 305.5,630.4 306.5,629.2 307.5,630.4 308.5,630.7 309.4,630.7 310.4,629.9 311.4,630.5 312.4,629.5 313.4,630.7 314.4,630.7 315.4,630.3 316.4,630.7 317.4,630.2 318.4,630.7 319.4,629.8 320.4,629.3 321.4,629.5 322.4,630.6 323.3,630.5 324.3,629.8 325.3,630.3 326.3,630.6 327.3,629.7 328.3,629.6 329.3,630.8 330.3,629.8 331.3,630.7 332.3,629.6 333.3,630.7 334.3,629.2 335.3,629.7 336.3,629.9 337.2,629.3 338.2,630.5 339.2,630.7 340.2,629.8 341.2,630.3 342.2,629.6 343.2,629.7 344.2,630.2 345.2,630 346.2,629.3 347.2,630.8 348.2,630.8 349.2,656.2 277.7,656.2"/><path stroke="#bfbf00" stroke-width="3" stroke-linecap="round" d="M321.2 629.9h0M302 627.8h0M322.9 626.3h0M281.8 628.2h0M292.3 629.2h0M322.7 627.7h0M312.5 628.9h0M287.6 629.3h0M336.5 626.9h0M287.8 629.2h0M324.4 629.4h0M348.1 629h0M342.9 626.9h0M306.6 629.8h0M328.2 628.7h0M306.2 627h0M338.8 626.2h0M341.1 629.6h0M344.2 626.1h0M316.2 629.1h0M306.8 630h0M325.2 629.5h0M281.6 630h0M290.9 627.3h0M305.2 629.2h0M285.2 627.9h0M338.2 628.5h0M301 628.4h0M289.6 626.3h0M309.8 627h0M317.4 626.5h0M290.6 629h0M333.6 626.6h0M336.4 629.2h0M327 628.3h0M286.4 627.2h0M280.5 629.7h0M338.1 626.3h0M338.9 627h0M345.6 628.9h0M303.6 628.1h0M322.9 628.1h0M317.6 629.4h0M283.7 627.5h0M344.1 628.9h0M310.3 626h0M333.9 627.5h0M313.3 627h0M291.6 630.1h0M298.3 629.5h0M285.6 629.4h0M329.8 628.7h0M310.7 627.1h0M285.6 628.5h0M342.5 628.1h0M326.2 627.1h0M315.8 629.5h0M343.2 628h0M327.3 629.3h0M322.4 627.1h0M279.9 629.3h0M287.3 629h0M303.6 628.8h0"/><path stroke="#0000ff" stroke-opacity="0.95" stroke-width="2.9" stroke-linecap="round" d="M301.4 630.5h0M336.6 624.1h0M298.4 628.9h0M307.1 624.9h0M278.7 605.4h0M335 619.3h0M305.1 623.3h0"/><path stroke="#ff0000" stroke-opacity="0.95" stroke-width="2.9" stroke-linecap="round" d="M323.8 624.7h0M340 627.5h0M301.5 630.1h0M293.1 626.4h0M293.4 630.1h0M344.6 630.5h0M308.3 626.9h0M292 622.1h0M290.3 629.2h0M323.6 629.6h0M297.7 621.3h0M288.9 626.3h0M331.2 622.3h0M302.4 630.4h0M285 629.6h0M282 628.1h0M342.9 630.2h0M339.4 627.7h0M304.5 627.1h0M299.7 629.4h0M319.3 627.3h0M306.9 630.2h0M341 630.6h0M310.4 621.5h0M279.7 627.7h0M315.7 628.5h0M337.6 630.3h0M281.8 622.1h0M321 628.4h0M281.1 628.2h0M280.2 630.6h0M296.7 626.8h0M288.8 626.4h0M329.5 627.2h0M339.8 625.9h0M324 621.8h0M344.4 622.7h0M288 629.2h0M304.7 621.5h0M291.2 608h0M284.9 612.7h0M287 616h0M312 614h0M340.5 610.7h0M285.6 625.3h0M291.2 627.3h0M304.4 622h0M313.4 622h0M323.8 623.3h0M287.7 628.6h0M282.1 627.3h0"/><path stroke="#c4c428" stroke-opacity="0.85" stroke-width="2.9" stroke-linecap="round" d="M300.4 622.6h0M290.6 629.7h0M285.6 624.9h0M323.1 623.3h0M306.6 630.6h0M290.2 625.6h0M310.4 625.9h0M324.8 627.4h0M286.3 624.9h0M329.5 624.7h0M303.7 630.3h0M303.9 630.4h0M302.6 627.1h0M311.1 625.1h0M311.6 624.4h0M294.7 629.2h0M301 621.9h0M323.2 620.9h0M313.8 629.7h0M343.9 627.9h0M297.9 623.8h0M323.8 612.7h0M325.9 616.7h0"/></g><g clip-path="url(#c52)"><polygon fill="#bfbf00" points="349.8,626.3 350.8,625.9 351.8,626.1 352.8,626.7 353.8,626.6 354.8,625.9 355.8,626.8 356.8,626.8 357.8,625.8 358.8,626.5 359.8,626.2 360.8,625.8 361.8,626.1 362.7,626.5 363.7,625.9 364.7,626.1 365.7,626.5 366.7,626 367.7,626.8 368.7,626.4 369.7,626.5 370.7,625.8 371.7,625.8 372.7,626.5 373.7,625.9 374.2,626.4 374.7,638.7 374.9,643.1 375.7,642.9 376.6,642.5 377.6,642.5 378.3,616 378.6,616.7 379.6,616 380.6,614.9 381.1,614.5 381.6,615.7 382.6,615.9 383.6,615.6 384.6,615.6 385.6,616.1 386.6,616.8 386.7,616 387.4,640 387.6,639.6 388.6,639.7 389.6,640.1 390.2,639 390.5,634.6 391.5,622.5 392.5,623.6 393.5,625.3 394.5,625.3 395,626.9 395.5,626.2 396.5,626.4 397.5,626.3 398.5,625.9 399.5,626 400.5,626 401.5,626.1 402.5,625.7 403.5,626.4 404.4,626 405.4,626.5 406.4,626.4 407.4,626.7 408.4,626.9 409.4,626.1 410.4,626.5 411.4,626.7 412.4,626.1 413.4,626.4 414.4,626.6 415.4,626.8 416.4,626.6 417.4,626.3 418.3,626.3 419.3,626.2 420.3,656.2 348.8,656.2"/><path stroke="#bfbf00" stroke-width="3" stroke-linecap="round" d="M394.4 625.9h0M351.3 625.5h0M400.2 624.7h0M351.1 624.2h0M413.4 625.8h0M397 626.3h0M412.1 623.4h0M380.7 614.5h0M405.3 624.8h0M354.4 625.3h0M396.6 624.6h0M351.9 623.9h0M361.6 624.9h0M407.2 623.8h0M374.1 624h0M358.7 623.9h0M387.9 639.1h0M415.4 626.3h0M417 625h0M403.9 624.2h0M394.9 625.9h0M370 624h0M366.5 625.3h0M396.3 624.7h0M365.4 624.9h0M360.4 625.9h0M408.5 623.7h0M376 642.8h0M367.8 626h0M412.2 625.6h0M398.5 624.6h0M367.4 624.7h0M355.4 623.7h0M394.3 623.4h0M366.5 626.4h0M397.8 624.9h0M386.5 613.4h0M414.5 624.6h0M369.2 623.9h0M402.4 625h0M386.1 614.7h0M417.3 626.5h0M380.2 612.7h0M418.2 624.2h0M407.6 623.3h0M404.9 624.8h0M411.1 624.1h0M391.2 627.6h0M373.7 623.5h0M410.7 625.7h0M350.3 624.4h0M360 624.6h0M404.7 625.1h0M378.9 614.6h0M402 623.6h0M382.8 614.5h0M396.1 624.9h0M415.9 624.4h0M355.5 626.1h0M411.9 625.4h0M415.1 624.9h0M382.8 613.7h0M378.7 614.5h0"/><path stroke="#0000ff" stroke-opacity="0.95" stroke-width="2.9" stroke-linecap="round" d="M381.9 612h0M410.3 625.9h0M354 621.6h0M381.1 592.1h0M381.1 603.4h0M384.6 606.7h0"/><path stroke="#ff0000" stroke-opacity="0.95" stroke-width="2.9" stroke-linecap="round" d="M367.4 624.2h0M358.6 621.8h0M360.5 625.5h0M383.8 609.3h0M372 623.8h0M407 626.8h0M377.2 642.5h0M406 625.3h0M379.7 607.4h0M382.5 600.7h0M384.6 599.4h0M398.5 613.4h0M370.7 619.3h0M353.3 625.3h0"/><path stroke="#c4c428" stroke-opacity="0.85" stroke-width="2.9" stroke-linecap="round" d="M378.3 616.8h0M354.9 627.2h0M383.8 610.4h0M357.3 623.9h0M403.9 622.5h0M355.7 626.9h0M374.2 624.9h0M405.4 621.6h0M412.6 627.1h0M390.7 628.2h0M415.1 620h0M393.6 625.7h0M411.1 623h0M375.3 636.5h0M383.3 609.6h0M398.4 622.9h0M391.9 624.2h0M365.8 626h0M393.4 617.8h0M378.1 618.5h0M391.9 622.7h0M392.9 624.9h0M369.9 623.3h0M356 626.8h0M370.7 595.4h0M381.8 597.4h0M383.2 600.1h0M384.6 602h0M402 608h0M395 615.4h0"/></g><g clip-path="url(#c53)"><polygon fill="#bfbf00" points="421,653.7 422,653.7 423,653.5 424,653.6 425,654 426,653.2 427,653.8 428,653.6 429,653 429.9,653 430.9,653.3 431.4,653.6 431.9,652.7 432.9,652 433.9,651.1 434.2,651 434.9,649.8 435.9,648.2 436.9,647.1 437.9,645.7 438.9,644.2 439.9,643.1 440.9,641.4 441.9,640.3 442.9,639 443.8,637.7 443.9,637 444.8,636.3 445.8,635.1 446.8,633.1 447.8,631.8 448.8,630.7 449.8,629.3 450.8,628.3 451.8,626.3 452.3,625.6 452.8,626 453.8,625.4 454.8,624.7 455.8,624 456.8,623.7 457.7,623.5 458.7,622.9 459.7,622.1 460.7,621.4 461.3,621.2 461.7,621.6 462.7,622.7 463.7,623.6 464.7,624.3 465.7,625.2 466.7,626.1 466.9,626 467.7,627.2 468.7,629.8 469.7,631.3 470.7,633.5 471.6,635.2 471.7,635.4 472.6,636.3 473.6,637.3 474.6,638.9 475.6,639.5 476.6,641 477.6,641.8 478.6,643 479.6,644.5 480.6,646 481.5,646.7 481.6,646.6 482.6,647.2 483.6,648.3 484.6,649 485.5,649.7 486.5,650.6 487,650.4 487.5,651.1 488.5,650.8 489.5,651.1 490.5,650.9 491.5,656.2 420,656.2"/><path stroke="#bfbf00" stroke-width="3" stroke-linecap="round" d="M463.3 622.8h0M442.5 637.4h0M457.7 622.9h0M440.9 640h0M430.9 652.5h0M467.5 626h0M483.2 646.9h0M486 649.3h0M432.1 652.3h0M429.1 653.2h0M460.4 620.1h0M441.7 639.1h0M449 629h0M426.5 652.2h0M479.6 643.4h0M444.5 635h0M489.1 649h0M429 651.4h0M468.6 627.6h0M425.7 653.6h0M430.2 652.2h0M437.7 645.8h0M466.2 624h0M423.3 652.1h0M465.1 623.3h0M466.5 624.7h0M453.1 624.6h0M444.9 634.8h0M431 651.9h0M478.1 641.1h0M434.8 649.2h0M469.5 629.1h0M470.5 632h0M486 647.9h0M435 649.3h0M466.1 625.2h0M443.5 638h0M449.2 630h0M423.6 652.9h0M446.7 632.7h0M484.1 646.6h0M463.8 622.8h0M472.9 636.5h0M443.4 636.5h0M438.6 644h0M444.9 634.6h0M427.3 651.9h0M471.3 633.6h0M455 623.6h0M422.3 654h0M422.1 652.2h0M439 643.2h0M480.8 644.1h0M446.2 633.2h0M421 653.5h0M439.7 643h0M487.6 650.6h0M456.8 622.1h0M427.4 651.7h0M482.7 647.1h0M470.9 632.1h0M431.6 653.2h0M473.1 636.4h0"/><path stroke="#0000ff" stroke-opacity="0.95" stroke-width="2.9" stroke-linecap="round" d="M457.1 592.1h0M455.8 590.1h0M467.6 604.7h0M445.3 625.3h0M446 634h0M444.6 643.3h0M482.2 643.9h0"/><path stroke="#ff0000" stroke-opacity="0.95" stroke-width="2.9" stroke-linecap="round" d="M464.9 614.7h0M466.6 615.8h0M457.6 610h0M471.6 619.9h0M460.6 609.6h0M461.4 607.9h0M467.3 609.2h0M458.1 616.2h0M468.1 620.8h0M463 608h0M465 618.9h0M461.6 609.6h0M470.4 613.4h0M452.1 614.5h0M465 609h0M455.2 607.9h0M470.5 619.1h0M453.3 618.5h0M454.4 609.3h0M454.9 608.1h0M462.3 615.5h0M456.4 607.6h0M465.2 609.9h0M470.1 622.1h0M454 620.9h0M461.6 616.7h0M455.2 621.4h0M462.3 619.2h0M467.7 615.9h0M457.3 612.8h0M451.9 621.9h0M452.4 621.5h0M458 606.3h0M461.7 618.3h0M467.5 622.1h0M462.1 607.6h0M463.7 613.9h0M449.1 631h0M446.6 638.2h0M448.1 626.2h0M444.6 637.6h0M446.7 634.1h0M439.9 638.9h0M450.1 630.2h0M447.5 636.2h0M446.4 632.4h0M451.8 627.3h0M440.1 638h0M444.6 634.6h0M447.2 628.4h0M475.9 636.2h0M481.5 643.1h0M476.8 634.9h0M469.2 624.5h0M478.2 643.1h0M469.5 627.1h0M485.5 646.6h0M481.4 642h0M480.6 641.5h0M484 645.5h0M470.6 628.6h0M468.4 623.6h0M471.1 629.1h0M477 639.9h0M477.8 643.5h0M461.3 598.7h0M464.1 603.4h0M441.9 647.3h0"/></g><g clip-path="url(#c54)"><polygon fill="#bfbf00" points="492.2,652.6 493.2,652.4 494.2,652.4 495.2,652.1 496.2,651.4 497.1,651.1 498.1,651.4 499.1,651.1 500.1,650.8 501.1,650.8 502.1,650.3 503.1,649.8 504.1,649.6 505.1,649.1 506.1,649.5 507.1,648.4 508.1,647.8 509.1,646.7 510.1,646.6 511,645.4 512,644.4 513,644.1 514,642.7 515,640.8 516,639.8 517,638 518,636.6 518.6,636.3 519,635.4 520,632.3 521,629.9 522,627.8 523,625.3 524,623.3 524.1,622.3 524.9,620.6 525.9,618.5 526.9,616 527.9,617.6 528.9,618.7 529.7,620.3 529.9,621.1 530.9,625.4 531.9,630.1 532.5,632.7 532.9,633.2 533.9,635 534.9,636.3 535.9,637.6 536.9,639.2 537.9,640.3 538.8,642.1 539.8,643.1 540.8,644.6 541.8,645.2 542.8,645.5 543.8,645.8 544.8,646.4 545.8,646.5 546.8,647.3 547.8,648 548.8,648.2 549.8,648.6 550.8,649.4 551.3,649.6 551.8,649.3 552.7,649.8 553.7,649.5 554.7,649.7 555.7,650.5 556.7,650.4 557.7,650.4 558.7,650.4 559.7,651.2 560.7,651.1 561.7,651.5 562.7,656.2 491.2,656.2"/><path stroke="#bfbf00" stroke-width="3" stroke-linecap="round" d="M517.5 637.1h0M539.1 640.6h0M551.2 649.1h0M495.2 650.3h0M509.1 646.3h0M506.9 647.2h0M555.1 648.6h0M498.5 650.5h0M543.7 644.4h0M507.6 647.1h0M494.7 651.2h0M545.9 645.5h0M525.9 617.1h0M493 651.8h0M513.8 641.3h0M494.8 652h0M549.2 647.7h0M534.6 635.3h0M547.9 646.9h0M531.6 628.1h0M526.3 616.9h0M495.1 650h0M547.2 646h0M558 649.9h0M525.6 618.2h0M499.6 650.3h0M521.4 629.2h0M518.8 634h0M506.2 648.7h0M507.1 647.5h0M501 650.1h0M555.8 648.8h0M537 638.1h0M559.8 650.8h0M500 649.9h0M526.9 615.3h0M532.7 631.4h0M506.6 648.1h0M532.4 631.1h0M504 648.9h0M545.6 645.7h0M515.2 639h0M550.7 647.6h0M558.1 649h0M500.2 650.4h0M524.7 621.2h0M504.1 649.6h0M542.9 644.7h0M516.7 637.2h0M524.5 620.4h0M559.6 650.7h0M554.1 648.6h0M521.2 628h0M534.2 633.4h0M505.9 649.3h0M534.8 635h0M494.7 651.1h0M536.4 636.8h0M546.7 646.2h0M521.2 628.8h0M514.9 640.2h0M520.6 630.9h0M542.3 644.2h0"/><path stroke="#0000ff" stroke-opacity="0.95" stroke-width="2.9" stroke-linecap="round" d="M506.8 622h0M514.4 618.7h0M524.8 608.7h0M535.3 621.3h0M507.5 638h0M508.2 642h0M499.1 647.3h0M549.9 643.3h0M561.7 647.3h0"/><path stroke="#ff0000" stroke-opacity="0.95" stroke-width="2.9" stroke-linecap="round" d="M555.6 644.4h0M554 646.6h0M535.9 628h0M551.3 647.7h0M538 636h0M534.1 629.7h0M547.4 642h0M530.1 621.7h0M535.2 625.5h0M542 639.6h0M537.5 634.3h0M556.3 645.4h0M543.1 635.9h0M559.6 647.8h0M538 632h0M525.6 613.1h0M543.5 643.2h0M531.1 616.2h0M546.9 647.6h0M526.5 609.9h0M552.6 646.1h0M534.9 628.2h0M545.3 638h0M527 612.1h0M542.1 638.5h0M539 632.3h0M540.9 639.2h0M557.9 646h0M541.4 638.2h0M541.4 636.7h0M539 640.6h0M530.6 623.1h0M538.9 630.7h0M529 612.2h0M545.8 646.7h0M540.6 638.1h0M530.5 622.1h0M554.5 645.9h0M559.3 648.4h0M546.7 642.7h0M538.7 638.7h0M552.8 643.8h0M540.9 632.5h0M534.3 623.6h0M526.6 609.9h0M535.2 637h0M529.1 610.7h0M530.8 624.3h0M528 613.1h0M548.8 642.9h0M542.3 636.7h0M536.9 630.1h0M542.3 644h0M536.8 637.2h0M543.2 638.9h0M550.2 641.3h0M525.1 614.8h0M539.6 636.4h0M542.1 644.4h0M533.1 631h0M542.3 637.5h0M528 619.5h0M560 646.1h0M529.9 615.4h0M530.7 612.9h0M552.4 644.8h0M540.9 636.6h0M552.2 646.4h0M547.7 639.8h0M557.3 647.5h0M560 648.8h0M558.8 647.4h0M532.3 625.1h0M536.1 632.2h0M537.8 630.5h0M554.4 649.1h0M532.5 630.1h0M556.5 647.9h0M527.6 617.2h0M551.1 644.2h0M537.7 628.7h0M529.9 617.7h0M530.9 624.2h0M534 632.7h0M543 636.1h0M528 610.4h0M539.8 641.2h0M528.3 611.1h0M545.2 640.1h0M527.2 618.5h0M530.4 614.9h0M534 630.1h0M530.1 615.7h0M528 615.1h0M551.4 647.9h0M548.8 646.5h0M551.6 644.5h0M535.5 634.6h0M533.2 619.3h0M547.1 639.1h0M539 641h0M535.6 634h0M556.5 647.1h0M544 641.9h0M538.1 632.4h0M510.9 642.5h0M518.8 635.6h0M513.1 640.3h0M512 639.3h0M520.4 633.1h0M515 640.4h0M511.6 642.1h0M519.5 630.8h0M510.5 643.3h0M516.8 637.5h0M516.4 637.1h0M521.7 630.3h0M510.3 643.5h0M513.9 638.3h0M519 636.4h0M505.1 649.2h0M519 631.9h0M520.4 629h0M516.6 639.2h0M513.9 639.1h0M516 636.2h0M510.5 641h0M509.4 643.6h0M519.5 636.5h0M518.5 632.3h0M509.7 643.5h0M510.6 643.9h0M505.8 649.5h0M528.3 590.7h0M526.9 595.4h0M528.3 598.7h0M529 603.4h0M525.5 605.4h0M520 602h0M513 628.6h0M517.2 622h0"/></g><g clip-path="url(#c55)"><path stroke="#0000ff" stroke-opacity="0.95" stroke-width="2.9" stroke-linecap="round" d="M592.5 591.4h0M599.5 606h0M605.1 618h0M607.1 626.7h0M594.6 626h0M589.1 633.3h0M609.9 636.6h0M616.9 635.3h0M613.4 642h0M622.4 643.3h0"/><path stroke="#ff0000" stroke-opacity="0.95" stroke-width="2.9" stroke-linecap="round" d="M604.1 638.4h0M603.5 633.4h0M612 639.9h0M604.5 630.5h0M614.7 641.8h0M604.7 644.5h0M615.2 645.8h0M604 639.3h0M615.5 648.7h0M624.9 649.2h0M603.1 627.5h0M609.5 644.9h0M619.2 647.4h0M606.5 637.6h0M618 647.6h0M601.4 633.3h0M613 640.7h0M607.9 644.9h0M609.2 637.3h0M607.7 632.8h0M601.6 628.1h0M608.8 645.1h0M601.7 625.2h0M607 639.9h0M620.4 648.9h0M625.7 647.8h0M601.4 634.8h0M602.6 635.4h0M606.2 644.6h0M604.1 631h0M615.8 646.1h0M606.3 635h0M610.8 641.8h0M613.6 649.5h0M608 647.9h0M621.9 649h0M614.5 649.2h0M614.7 640.7h0M612 647.7h0M606.5 636.7h0M624.2 647.7h0M601.8 629.2h0M615.2 643.1h0M606.5 645.8h0M620.1 644.8h0M604 629.7h0M613.4 642.2h0M626.7 647.9h0M607.1 639.6h0M616.9 648.5h0M609.4 642.1h0M602.4 643.2h0M604.7 639.1h0M615.5 649.6h0M610.7 641.4h0M611.6 643.4h0M612 645.6h0M623.6 649.3h0M612.5 643h0M603.6 635.1h0M612.7 642h0M614 649.1h0M612.8 639.2h0M625.8 647h0M612.4 647.9h0M601.6 635.5h0M602.4 627.7h0M603.1 634.4h0M619 643.2h0M601.7 625.5h0M609 637.9h0M604.1 639.6h0M606 637.1h0M601.5 621.3h0M604.1 640.5h0M626.8 648.4h0M614.5 647.7h0M603.7 640.5h0M611.7 645.4h0M627.6 648.4h0M615.8 644.9h0M620.8 648.4h0M604.3 643h0M610.3 642.5h0M612.8 650.3h0M603.1 627.1h0M606 639.4h0M603.1 632.4h0M607.7 635.3h0M601.3 622.4h0M602.9 639.9h0M609.3 645.9h0M609.7 635.5h0M613.5 640.9h0M605 628.9h0M607.9 641.4h0M602.7 633.3h0M602.6 623h0M610.4 637.6h0M613.9 645.1h0M615.8 647.4h0M603.8 642.2h0M608.5 648h0M603 636.7h0M610.4 647.8h0M601.5 624.9h0M601.7 629.9h0M603.7 631.6h0M604.9 644.1h0M619.7 644.1h0M605 636h0M602.5 624.5h0M601.8 626.9h0M605.8 644.5h0M608 634.6h0M620.5 648.7h0M582.1 648.6h0M597.8 636.2h0M594.8 642.2h0M592.6 646.6h0M593.8 644.2h0M589 647.4h0M595.5 641.5h0M591.8 645.8h0M588.9 648.4h0M596.9 644.8h0M592.8 647.8h0M585 648.4h0M586.8 648.4h0M597.2 643.2h0M595.1 643.6h0M596.2 645.8h0M591.5 642h0M594 643.7h0M590.1 642.9h0M585.6 647.5h0M587 644.2h0M596.3 640.8h0M591.8 647.7h0M590.3 644.3h0M596.4 642.8h0M593.7 641.5h0M588.5 648h0M593.9 641.7h0M593.7 640.7h0M600.2 592.1h0M601.6 594.1h0M600.2 598.7h0M599.5 612h0M591.1 632.6h0"/><polygon fill="#bfbf00" points="563.4,655.5 564.3,655.7 565.3,655.2 566.3,655.2 567.3,654.8 568.3,654.8 569.3,654.5 570.3,654 571.3,654.3 572.3,654 573.3,653.5 574.3,653.4 575.3,653.3 576.3,653.1 577.2,652.9 578.2,652.8 578.6,652.7 579.2,652 580.2,651.3 581.2,651 582.2,650.4 583.2,650.2 584.2,649.7 585.2,649.3 586.2,648.7 587.2,648.2 587.7,648.1 588.2,647.6 589.2,646.7 590.2,646.4 591.1,645.7 592.1,644.8 593.1,644.1 594.1,643.5 595.1,642.8 596,642.6 596.1,641.8 597.1,632.2 598.1,622.5 599.1,613.2 599.5,609.1 600.1,614.8 600.9,622.2 601.1,624.2 602.1,634 603,642.4 603.1,642.8 604.1,642.9 605.1,644.1 606,644.7 607,645.2 608,645.9 609,646.5 610,646.9 611,647.7 612,648.7 613,648.6 614,648.5 615,648.8 616,648.7 617,649.2 618,649.1 619,649.6 619.9,649.7 620.9,649.6 621.9,649.5 622.9,649.8 623.9,650.1 624.9,649.9 625.9,650.1 626.9,650.3 627.9,650.6 628.9,650.4 629.9,650.6 630.9,651 631.9,650.8 632.9,651.2 633.9,656.2 562.4,656.2"/><path stroke="#bfbf00" stroke-width="3" stroke-linecap="round" d="M568.3 653.9h0M571.8 653.3h0M575.5 651.8h0M626.9 650h0M599.3 609.7h0M596.8 633h0M620.3 648.8h0M572.6 653h0M622 649.7h0M598.4 619.2h0M589.4 646.3h0M594 643.7h0M607 643.8h0M590.3 646h0M573.6 653h0M609 645.2h0M591 644.5h0M566.3 654.3h0M564.1 654.3h0M599.1 612h0M585 648.1h0M591.4 645.4h0M631.9 649.6h0M612.1 648.4h0M622.7 649.5h0M616.8 648.1h0M584.4 648.1h0M591.2 645.6h0M624.6 648.6h0M580.1 650.3h0M600.8 620.3h0M579.3 652.1h0M580.4 650.5h0M625.2 649.7h0M571.1 653.5h0M627 649.7h0M581.2 650.6h0M623.3 648.5h0M564.1 655.3h0M601.4 627h0M573.4 653.4h0M598.1 621.9h0M585.7 647.7h0M611.1 646.4h0M622.5 648.7h0M585.9 648.7h0M620.1 649.3h0M597.8 624.5h0M615.9 647.8h0M584.7 649.4h0M630 650.7h0M610.3 647.1h0M621.5 648.7h0M612.5 647.4h0M606.1 643.8h0M573.6 653.2h0M619.7 648.2h0M584.4 649h0M579.7 651.8h0M597 632.9h0M607.2 644.5h0M586 647.7h0M626.1 650h0"/><path stroke="#c4c428" stroke-opacity="0.85" stroke-width="2.9" stroke-linecap="round" d="M599.5 603.4h0"/></g><g clip-path="url(#c56)"><path stroke="#0000ff" stroke-opacity="0.95" stroke-width="2.9" stroke-linecap="round" d="M670.7 628.6h0M674.1 630.6h0M677.6 632h0M676.2 640.6h0M677.6 645.3h0M684.6 640.6h0M685.3 645.3h0M695.7 648.6h0"/><path stroke="#ff0000" stroke-opacity="0.95" stroke-width="2.9" stroke-linecap="round" d="M663.6 645.7h0M665.3 649.5h0M669.8 649.3h0M673.7 644.3h0M669.1 647.7h0M668.9 622.4h0M666.9 619.6h0M666.6 648.8h0M672.3 649.3h0M668.8 644.3h0M672.6 649.9h0M666 623.5h0M673.5 640.3h0M669.4 625.1h0M671.1 645.2h0M687.4 649.8h0M670.4 636.6h0M670.5 640h0M670.6 638.2h0M677.8 644.4h0M664.9 637.2h0M673.5 642.9h0M665.4 642.8h0M668.3 641h0M667.4 624.6h0M667.9 646.6h0M668.4 636.7h0M663.6 637h0M678.7 648h0M672.6 645.6h0M668.1 632.6h0M667 633.8h0M668.7 637.8h0M667.3 622.4h0M662.9 643.4h0M668.2 627.9h0M664.3 632.6h0M668.7 626.4h0M667.9 630.1h0M664.7 645.8h0M665.2 631.5h0M683.4 647.9h0M672.9 639.9h0M670 649.5h0M663.7 647.7h0M689.2 649.5h0M678.6 645.1h0M672 640.7h0M669.6 635h0M666.7 647.1h0M666.9 629h0M671.2 641h0M679.7 646.1h0M671.7 644.8h0M668.9 647.4h0M663.8 629.6h0M672.3 640h0M672.3 641.6h0M664 649.1h0M665.3 616.9h0M669.1 647.5h0M671 640.7h0M669.6 641.2h0M671.1 649.7h0M667.1 625.6h0M669 627h0M666.6 629.2h0M668.9 627.9h0M667 645.4h0M667.7 646.5h0M665.1 628.3h0M665.5 634h0M676.2 649h0M668.3 645.5h0M666.2 639.8h0M676.5 649.8h0M683.6 647.7h0M663.9 627.3h0M666 630.5h0M665.2 632h0M669.6 641.6h0M664.1 634.4h0M669.6 633.3h0M667.6 642.4h0M669.1 631.1h0M666.9 626.6h0M668.1 640h0M665.6 624.1h0M663.4 623.7h0M682.9 647.5h0M683.1 648h0M667.2 642.3h0M672.2 642.1h0M670.5 636h0M667.2 620.3h0M680 647.1h0M667.5 626.2h0M666.1 640.6h0M670.6 633.8h0M669.5 635.5h0M676.9 647.3h0M663.4 640.3h0M665.1 644.7h0M669.7 637.8h0M665.5 646.3h0M667 627.9h0M668.6 645h0M667.9 629.4h0M681.4 647.3h0M675 645.2h0M675.5 641.5h0M665.7 644.9h0M683.6 649.7h0M670 632.2h0M668.5 624.8h0M665.3 647.2h0M675.2 648.6h0M663.7 640.1h0M668.8 623.1h0M668.6 630.9h0M675.1 647.5h0M668.9 641.6h0M663.5 643.5h0M665.1 626h0M672.1 644.1h0M671.6 635.3h0M664.6 633.9h0M666 631.4h0M663 629.4h0M673.5 642h0M665.7 623.3h0M668.6 644h0M673.7 641.8h0M665.7 628.2h0M668.7 630.1h0M668.8 633.4h0M685.5 649.1h0M664.1 649.9h0M668.6 640.3h0M665.3 649.5h0M667.3 632.8h0M663.1 645.4h0M668.2 635.2h0M663.4 633.4h0M668.8 630.3h0M675.3 648.3h0M678.2 644.3h0M667.1 648h0M665.1 620h0M667.9 636h0M667.7 628.5h0M669.2 645.8h0M664.9 646.2h0M672 647.4h0M669.3 648.8h0M667.9 641h0M670 646h0M665.1 630.1h0M673.4 646.4h0M666.1 636.8h0M665 633.5h0M675.3 641.4h0M663.8 633h0M667.6 633.4h0M677.9 643.9h0M664.7 639.5h0M668.2 641.7h0M668 621.9h0M664.9 636.2h0M675.4 642.1h0M666.9 637.1h0M671.7 636.6h0M667.3 626.2h0M683 647.3h0M671.4 633.5h0M670.4 637.9h0M666.5 592.1h0M664.4 610.7h0M665.1 618.7h0"/><polygon fill="#bfbf00" points="634.5,652.6 635.5,652.6 636.5,652.6 637.5,652.6 638.5,652.6 639.5,652.6 640.5,652.6 641.5,652.6 642.5,652.6 643.5,652.6 644.4,652.6 645.4,652.6 646.4,652.6 647.4,652.6 648.4,652.6 649.4,652.6 650.4,652.6 651.4,652.6 652.4,652.6 653.4,652.6 654.4,652.6 655.4,652.6 656.4,652.6 656.8,652.6 656.9,624 657.4,624 658.3,624 659.3,624 659.5,624 659.7,649.9 660.3,649.9 661.3,650 662.3,650 663.3,650 664.3,650 665.3,650 666.3,650 667.3,650 668.3,650.1 669.3,650.1 670.3,650.1 671.3,650.1 672.2,650.1 673.2,650.1 674.2,650.1 675.2,650.2 676.2,650.2 677.2,650.2 678.2,650.2 679.2,650.2 680.2,650.2 681.2,650.3 682.2,650.3 683.2,650.3 684.2,650.3 685.2,650.3 686.1,650.3 687.1,650.3 688.1,650.4 689.1,650.4 690.1,650.4 691.1,650.4 692.1,650.4 693.1,650.4 694.1,650.4 695.1,650.5 696.1,650.5 697.1,650.5 698.1,650.5 699.1,650.5 700,650.5 701,650.6 702,650.6 703,650.6 704,650.6 705,656.2 633.5,656.2"/><path stroke="#c4c428" stroke-opacity="0.85" stroke-width="2.9" stroke-linecap="round" d="M657.5 614h0"/></g><g clip-path="url(#c60)"><polygon fill="#bfbf00" points="207.5,697.1 208.5,696.2 209.5,696.3 210.5,697.1 211.5,697.1 212.5,696.2 213.5,696.3 214.4,697.1 215.4,696.7 216.4,696.5 217.4,695.6 218.4,696.8 219.4,696.6 220.4,696.2 221.4,695.9 222.4,695.6 223.4,695.9 224.4,695.8 225.4,696.2 226.4,696.7 227.4,696.9 228.3,695.8 229.3,697.1 230.3,696.3 231.3,696.7 232.3,696.5 233.3,696.9 234.3,696.1 235.3,696.6 236.3,695.8 237.3,696.6 238.3,696.2 239.3,696.7 240.3,696.5 241.3,696.5 242.2,697 243.2,697.1 244.2,696 245.2,695.8 246.2,697.2 247.2,696.4 248.2,696.8 249.2,696.2 250.2,696.6 251.2,697 252.2,695.6 253.2,695.9 254.2,696.6 255.2,696.5 256.1,697 257.1,696.5 258.1,696.1 259.1,696.1 260.1,696.8 261.1,695.9 262.1,696.6 263.1,696.3 264.1,695.8 265.1,696.7 266.1,695.8 267.1,697 268.1,697.2 269.1,696.5 270.1,696.5 271,695.9 272,696.5 273,696 274,696.7 275,696.1 276,695.7 277,696.9 278,723.4 206.5,723.4"/><path stroke="#bfbf00" stroke-width="3" stroke-linecap="round" d="M252.2 694.6h0M272.2 696h0M215.7 693.2h0M260.7 695.5h0M276.1 695.4h0M226.2 696h0M238.2 692.8h0M210.1 695.4h0M241.9 695.5h0M255.2 693.1h0M274.5 695h0M233.9 693.7h0M253.4 693.7h0M233.8 694.9h0M239.1 692.7h0M241.2 694.6h0M245.2 694.1h0M263.5 693.2h0M260.7 694.6h0M276.4 692.8h0M264 695.4h0M222.9 694.3h0M270.2 695.5h0M237.7 694.8h0M254.7 695.5h0M243.7 695.7h0M272.8 695.5h0M225.1 696.5h0M221.8 694.1h0M208.8 696h0M248.9 694.6h0M272.8 696.4h0M238 696.5h0M212.7 694.7h0M226.8 693.9h0M227.3 696.3h0M208.9 693.9h0M270.3 695.6h0M208.1 694.2h0M250.6 696.5h0M254.1 696h0M263.7 695.4h0M218.8 694.9h0M260.7 692.9h0M263.7 692.6h0M225.6 694.3h0M263.9 695.7h0M249.3 696.2h0M218.6 695.9h0M255.7 693.7h0M235.5 693.5h0M236.1 695.3h0M228.1 695.9h0M220.3 693.5h0M243.4 694h0M235.2 694.5h0M265.5 695.6h0M248.7 692.5h0M228.9 694.9h0M220.2 692.5h0M270.3 695h0M232.9 693h0M264.6 694.2h0"/><path stroke="#0000ff" stroke-opacity="0.95" stroke-width="2.9" stroke-linecap="round" d="M210.2 684.9h0M265.7 696.5h0M247.4 696.4h0M240.2 690.3h0M229 693.8h0M213.8 667.8h0M238.8 671.1h0M207.5 678.5h0M217.9 685.1h0M249.2 695.1h0"/><path stroke="#ff0000" stroke-opacity="0.95" stroke-width="2.9" stroke-linecap="round" d="M232.9 691.7h0M235.9 694.6h0M274.3 689h0M230.7 687h0M260.4 688.6h0M227.5 696.8h0M246.6 696.7h0M259.6 697h0M259 684.1h0M214.5 687.8h0M261.8 684.2h0M274.3 689.1h0M243.1 697h0M268.1 691.7h0M212.7 697h0M246.7 691h0M235 695.9h0M232.5 689h0M249 690.5h0M247.2 696.7h0M234 694.6h0M220.9 683.9h0M269.1 691.3h0M241.3 687.2h0M256.1 660.5h0M249.9 681.1h0M260.3 686.4h0M228.3 691.8h0M211 691.8h0M263.1 691.8h0M273.5 692.4h0"/><path stroke="#c4c428" stroke-opacity="0.85" stroke-width="2.9" stroke-linecap="round" d="M254.8 686.9h0M249.9 693.4h0M268 697h0M241.2 687.1h0M265.6 694.6h0M272.8 693.7h0M228.7 685.7h0M262.3 689.4h0M248.1 686.2h0M266.6 695.1h0M236.6 695.9h0M209 685.4h0M215 694.1h0M234.3 693.9h0M272.9 691.3h0M212.3 695.8h0M250.4 689.2h0M254.4 684.8h0M260.2 693.5h0M250.2 696.6h0M239 692.4h0M207.5 693.7h0M225.5 686.3h0M270.7 686.4h0M249.8 688h0M267.4 693.5h0M272.5 689.3h0M237.5 684.5h0M275.6 697.1h0M236.8 689.9h0M207.9 694h0M264.7 692.5h0M260.4 696.7h0M261.1 690.5h0M211.7 696.1h0M235.9 690.9h0M251.6 692.2h0M238.7 696.9h0M226.3 695.3h0M223.5 695.2h0M221.9 690.9h0M267.8 693.5h0M213.8 693.3h0M220.7 677.8h0M268 677.1h0M240.2 686.4h0"/></g><g clip-path="url(#c61)"><polygon fill="#bfbf00" points="278.7,695.9 279.7,696.5 280.7,696.8 281.6,695.8 282.6,696.8 283.6,696.4 284.6,697 285.6,696.9 286.6,696.2 287.6,696.7 288.6,696.6 289.6,696.4 290.6,696.7 291.6,696.7 292.6,696 293.6,696.1 294.6,696.5 295.5,696.2 296.5,696.7 297.5,696 298.5,696 299.5,696.3 300.5,695.7 301.5,696.8 302.5,696 303.5,695.6 304.5,696.7 305.5,696.2 306.5,696.4 307.5,695.9 308.5,696.6 309.4,696.4 310.4,695.7 311.4,696.7 312.4,695.8 313.4,696.6 314.4,696.6 315.4,696.3 316.4,695.9 317.4,697.1 318.4,697.2 319.4,696.6 320.4,696.9 321.4,696.1 322.4,697.1 323.3,696.3 324.3,696.6 325.3,696.2 326.3,696.7 327.3,696 328.3,697.1 329.3,697.1 330.3,695.9 331.3,696.1 332.3,696.8 333.3,696.5 334.3,696.9 335.3,696.9 336.3,696.5 337.2,695.8 338.2,696 339.2,696.1 340.2,696.4 341.2,696.3 342.2,696.4 343.2,695.6 344.2,696.5 345.2,696 346.2,695.9 347.2,696.5 348.2,696.4 349.2,723.4 277.7,723.4"/><path stroke="#bfbf00" stroke-width="3" stroke-linecap="round" d="M331.3 695.4h0M346.1 694.9h0M299.4 695.6h0M292.1 693.3h0M304.5 694.6h0M339.4 695.6h0M321.1 693h0M321.8 694.7h0M295.2 692.6h0M325.7 696.2h0M330.9 694h0M292.8 692.6h0M333.5 696h0M303.9 695.5h0M324.5 696.6h0M314.8 695.5h0M339.1 696.2h0M292.9 695.2h0M336.6 694.7h0M304.5 693.4h0M305.4 694.3h0M293.9 696.1h0M280.9 694.9h0M297.5 695h0M289.1 696.2h0M293.6 695.8h0M300.3 695.4h0M307.7 695.7h0M343.6 693.5h0M296.5 696.4h0M285.5 694h0M338.8 695.7h0M323.3 695.2h0M295.1 696.3h0M288 693.7h0M314.3 693.5h0M294.5 694.1h0M295.1 694.6h0M278.7 693.8h0M341.2 694.2h0M332.3 695.3h0M324.3 694.6h0M314.3 694h0M326.8 694.8h0M289.5 695.2h0M309 694.3h0M322.6 695.3h0M284.4 696.5h0M306.5 692.6h0M281.6 693.1h0M290.4 695.3h0M320.6 695.1h0M297 694.1h0M345.5 692.6h0M336 695.6h0M302 696.2h0M316.9 695.8h0M319.7 695.6h0M338.7 694.3h0M320.5 694.7h0M343.6 696.4h0M289.3 695h0M321.7 693.2h0"/><path stroke="#0000ff" stroke-opacity="0.95" stroke-width="2.9" stroke-linecap="round" d="M302.4 688.3h0M281 687.5h0M326.8 687.1h0M292.7 688.3h0M279.6 693h0M322 695.8h0M284 696.2h0M288.4 687.5h0M297.4 694h0M304.4 665.1h0M278.7 686.4h0M335 688.4h0"/><path stroke="#ff0000" stroke-opacity="0.95" stroke-width="2.9" stroke-linecap="round" d="M304.9 695.4h0M345.6 689.2h0M287.5 689.1h0M312.6 694.5h0M339.4 693.8h0M347.6 684.8h0M336.3 691.3h0M341.1 684.7h0M314.7 688.6h0M287.4 696.3h0M286 697.1h0M323.2 693h0M291.6 684.6h0M305 685.5h0M344.4 687.1h0M338.9 688h0M299.4 693.6h0M281.7 696.7h0M340.7 692.3h0M301.4 687.4h0M335.6 693.7h0M340.8 695.1h0M295.5 687.5h0M331.7 686.6h0M281.5 687.7h0M311.9 696.9h0M328 685.4h0M286.3 696.5h0M338.6 697h0M301.7 687.9h0M320.6 685.9h0M290.8 684.7h0M316 696.9h0M323.8 660.5h0M301.6 671.8h0M298.1 675.8h0M283.5 675.1h0M320.4 675.1h0M311.3 681.8h0M337.7 681.8h0M346.1 683.8h0M283.5 687.8h0M325.2 687.8h0"/><path stroke="#c4c428" stroke-opacity="0.85" stroke-width="2.9" stroke-linecap="round" d="M300.2 696.6h0M333.7 695.8h0M336.4 687.2h0M324.4 687.1h0M337 695.9h0M318.9 691.6h0M318.1 688.3h0M320.4 687.3h0M289.6 692.6h0M284.4 685.6h0M279.5 687h0M281 696h0M334.9 695h0M296.7 692.8h0M327.1 695.5h0M339.3 683.9h0M346.9 696.1h0M331.3 685.5h0M287.9 690.8h0M307 687.3h0M283.9 691.4h0M330.8 686.7h0M301.8 696.8h0M326.5 689.7h0M289.7 693.4h0M300.2 691.1h0M334.1 685.8h0M299 696h0M338.1 696.9h0M344.5 696.8h0M279.2 691.3h0M308 695.9h0M336.6 692.1h0M340.7 694.6h0M283.1 694.5h0M346.4 684.4h0M331.6 685.4h0M345.7 693.7h0M334.3 677.8h0M343.3 677.1h0"/></g><g clip-path="url(#c62)"><polygon fill="#bfbf00" points="349.8,697.9 350.8,697.9 351.8,698.3 352.8,698 353.8,698.2 354.8,697.9 355.8,698.4 356.8,698.1 357.8,698.6 358.8,697.9 359.8,698 360.8,698 361.8,698.4 362.7,697.8 363.7,697.8 364.7,697.6 365.7,697.6 366.7,697.5 367.7,697.8 368.7,697.7 369.7,698.3 370.7,697.6 371.7,698.4 372.7,697.6 373.7,697.9 374.2,697.6 374.7,709 374.9,712.1 375.7,712.9 376.6,712.9 377.6,712.2 378.3,712.3 378.6,703.3 379,689.6 379.6,689.2 380.6,689.7 381.6,689.9 382.6,689.3 383.6,688.9 384.6,689.7 385.6,689.9 386.6,689.8 387.6,688.8 388.1,689.4 388.6,705.3 388.8,711.6 389.6,711 390.5,711.6 390.8,711.4 391.5,697.3 392.5,697 393.5,696.5 394.5,696.7 395.5,697.3 396.5,696.9 397.5,696.9 398.5,697.1 399.5,696.9 400.5,696.6 401.5,696.1 402.5,696.4 403.5,697.1 404.4,696.8 405.4,697.1 406.4,696.9 407.4,696.7 408.4,696.9 409.4,696.6 410.4,696.6 411.4,697.2 412.4,696.7 413.4,696.9 414.4,696.4 415.4,696.9 416.4,696.4 417.4,697.1 418.3,697.2 419.3,697 420.3,723.4 348.8,723.4"/><path stroke="#bfbf00" stroke-width="3" stroke-linecap="round" d="M354.6 696.2h0M393.3 696.2h0M390.9 707.8h0M356.9 697.7h0M360 697.3h0M390.5 708.8h0M360.9 696.9h0M374.9 709.8h0M396.5 696.7h0M386.2 686.6h0M416.9 695.2h0M415.2 696.1h0M366.6 698h0M363.9 695.3h0M358.6 697.9h0M416.4 695.1h0M391.6 696.2h0M402.2 696.2h0M387.1 688.7h0M372.8 695.2h0M402 695.7h0M411.3 694.6h0M406.5 696.9h0M375.6 710.8h0M378.9 692.1h0M414.9 693.9h0M356.8 696.8h0M394.4 696.3h0M382.9 688.9h0M351.3 697.7h0M371.2 697.7h0M408.6 694.4h0M406.9 695.5h0M404.7 694.9h0M387.9 688.5h0M372.7 696h0M392.7 693.9h0M410.4 695.6h0M412.5 695.6h0M398.4 695.1h0M366.3 696.4h0M375.2 710.7h0M382.9 687.5h0M399.4 695.3h0M387.4 688.5h0M354.1 697.7h0M359.2 695.8h0M377.8 712.6h0M401.9 696.3h0M364.3 697.9h0M396.1 694.1h0M387.1 689.3h0M379.1 687h0M397.7 695.6h0M409.4 696.3h0M404.2 695.1h0M386.9 689.1h0M404.8 695.7h0M363.7 697.8h0M403.9 695.4h0M358 698.1h0M390.4 710.6h0M383.8 688.7h0"/><path stroke="#0000ff" stroke-opacity="0.95" stroke-width="2.9" stroke-linecap="round" d="M418.6 696.1h0M380.6 690.1h0M371.6 698.8h0M406.5 692h0M402.9 697.7h0M366.6 697.7h0M394.9 697.4h0M404.5 692.2h0M350.3 699h0M381.3 689.8h0M365.5 697.8h0M379.7 669.8h0M351.2 678.5h0M363 680.4h0M396.4 683.1h0M403.4 687.1h0M359.6 691.8h0M370 691.8h0M371.4 689.8h0"/><path stroke="#ff0000" stroke-opacity="0.95" stroke-width="2.9" stroke-linecap="round" d="M362.8 695.5h0M364.3 698.8h0M390.8 711.8h0M361.8 696.3h0M385.9 683.3h0M350.3 695.6h0M408.2 690.3h0M417.7 694.4h0M378.2 707h0M381.8 659.8h0M382.5 678.5h0M382.5 685.1h0M404.1 688.4h0M410.3 691.8h0M353.3 695.1h0M365.1 695.7h0M384.6 680.4h0M383.2 683.1h0"/><path stroke="#c4c428" stroke-opacity="0.85" stroke-width="2.9" stroke-linecap="round" d="M368.5 699h0M399.1 694.7h0M371.3 699h0M364.4 697.3h0M398.8 697.2h0M361.1 696.4h0M404.5 692.2h0M390.5 709.2h0M400.7 696.8h0M393.4 696h0M366.4 697.9h0M406.2 697h0M405.6 692.6h0M403.5 696.7h0M409.4 691.4h0M381.1 680.4h0M368.6 686.4h0M415.9 688.4h0"/></g><g clip-path="url(#c63)"><polygon fill="#bfbf00" points="421,722.1 422,722.2 423,721.9 424,721.8 425,721.6 426,721 427,720.9 428,720.7 429,720.6 429.9,719.8 430.9,719.6 431.9,718.7 432.9,718.3 433.9,717.9 434.9,716.8 435.9,716.3 436.9,715.1 437.9,714.3 438.9,713.5 439.9,711.9 440.9,711 441.9,710.7 442.9,709.2 443.8,708.8 444.6,707.9 444.8,707.3 445.8,706.7 446.8,705.6 447.8,703.7 448.8,703.2 449.8,702 450.8,700.5 451.8,699.6 452.3,698.8 452.8,699 453.8,697.8 454.8,697.2 455.8,696.5 456.8,696 457.1,695.4 457.7,696.5 458.7,696.6 459.7,697.4 460.7,698.2 461.7,698.4 462.7,698.7 463.7,699.7 464.7,701 465.7,702 466.7,703.2 467.7,703.9 468.7,705 469.7,705.5 470.7,706.6 471.6,707.5 472.6,708.8 473.6,709.9 474.6,710.8 475.6,711.6 476.6,712.4 477.6,712.9 478.6,714 479.4,715.3 479.6,715.1 480.6,715.4 481.6,715.9 482.6,716.7 483.6,717.4 484.6,718 485.5,718.2 486.5,718.7 487,719.1 487.5,719.1 488.5,720 489.5,720.3 490.5,720 491.5,723.4 420,723.4"/><path stroke="#bfbf00" stroke-width="3" stroke-linecap="round" d="M471.2 706.8h0M436.8 714.6h0M425.2 720.2h0M479 714.6h0M450.4 701.1h0M423.1 720.8h0M433.7 717.5h0M477.4 712.5h0M433.5 717.7h0M463.1 699.1h0M433.1 717.1h0M434.7 717.2h0M487 719h0M435.1 715.1h0M473.5 708.2h0M431.9 718.4h0M468.4 702.7h0M438.4 712.1h0M442.2 708.9h0M428.2 720.1h0M442.4 708.7h0M452.2 697.3h0M465.7 701.9h0M442 709.8h0M473.1 708.2h0M450.9 699h0M489.1 719h0M451.3 698.6h0M441 710.9h0M459.2 696h0M474.9 709.8h0M472.8 708.4h0M466.8 701.1h0M487 717.6h0M474.1 708.6h0M422.6 721.2h0M461.8 697.7h0M438.6 713.1h0M487.7 719.2h0M428.4 719.6h0M489 718.5h0M434.3 717.3h0M484.6 716.8h0M475.8 710.2h0M456.4 695.1h0M443.2 707.1h0M466.8 701.5h0M446.6 704.9h0M473.8 708.6h0M455 696.5h0M464.3 699.3h0M462.5 697.8h0M421.6 721.2h0M446.7 704.1h0M430.6 718.8h0M459.6 696.6h0M473.2 708.4h0M424.4 721.3h0M489 718.6h0M484.9 717.5h0M487.8 718.7h0M442 710.3h0M456.1 696.1h0"/><path stroke="#0000ff" stroke-opacity="0.95" stroke-width="2.9" stroke-linecap="round" d="M464.8 667.8h0M450.2 677.1h0M450.9 687.1h0M447.4 695.1h0M466.9 703.1h0M471.7 711.7h0M439.8 713.7h0M444.6 709h0"/><path stroke="#ff0000" stroke-opacity="0.95" stroke-width="2.9" stroke-linecap="round" d="M452.9 694.2h0M457.5 695.1h0M453 695.5h0M456.4 690.4h0M458.4 692.9h0M461.4 693.4h0M454.1 692.9h0M462.6 696.7h0M455.1 693.3h0M462.2 695.4h0M459 697.5h0M459.7 692.8h0M459.9 690h0M459.7 691.1h0M456.7 691.8h0M461.9 693.4h0M458.8 689.7h0M461.6 696.7h0M454.4 693.4h0M461 691.2h0M457.9 691.7h0M474.4 708.8h0M470.8 705.6h0M474 706.3h0M463.7 699.8h0M471.5 709.1h0M467.3 702.7h0M478.9 712.8h0M482.1 713.9h0M475.2 710.8h0M469.4 701.2h0M463.3 700.3h0M476.8 713.6h0M468.2 701.9h0M471.4 706.1h0M464.5 703.1h0M478.2 712.1h0M467 702.3h0M472.7 711.6h0M474.2 709.1h0M471.3 704.4h0M465.7 702.9h0M479.7 715.2h0M472 705.4h0M477.7 711.8h0M468 703.7h0M481.5 716.4h0M468.7 700.7h0M478.3 709.6h0M480.7 716.1h0M468.2 704.9h0M468.2 704.8h0M466.4 702.6h0M473.5 709.7h0M476.1 709.7h0M478 711.9h0M469.8 701.4h0M478.8 710.4h0M475.7 709.5h0M473.1 706.7h0M471 705.3h0M445.1 708.8h0M450.1 704.4h0M446.8 710.3h0M447 708.8h0M447.2 706.7h0M448.3 708.3h0M444.5 713.5h0M442.3 711.7h0M442.6 713.3h0M449.1 706h0M443.3 712.2h0M439.9 715.7h0M438.7 714.3h0M459.2 668.5h0M458.5 671.8h0M457.8 675.1h0M457.1 678.5h0M459.2 681.8h0M455.8 685.1h0M459.9 686.4h0M426.6 720.3h0"/></g><g clip-path="url(#c64)"><path stroke="#0000ff" stroke-opacity="0.95" stroke-width="2.9" stroke-linecap="round" d="M532.5 667.1h0M534.6 671.8h0M538 673.1h0M538.7 685.8h0M538.7 689.8h0M540.8 700.4h0M546.4 706.4h0M549.9 708.4h0"/><path stroke="#ff0000" stroke-opacity="0.95" stroke-width="2.9" stroke-linecap="round" d="M537.6 705.3h0M554.8 717.4h0M546 713.9h0M559.3 716.9h0M531.9 696.6h0M538.3 699.3h0M544.8 713.6h0M543 704.4h0M548.5 714.8h0M536.9 703.2h0M532.2 694.4h0M543.9 705.9h0M549.9 711.1h0M546 706.3h0M541.1 702h0M533.4 700.7h0M547.1 709.9h0M550.3 712.6h0M555.1 715.9h0M545.4 710.6h0M543.6 707.2h0M554.8 716.6h0M546.9 715.1h0M529.3 689.4h0M550.2 710.1h0M551.3 710.4h0M540.2 703.1h0M533.9 702.1h0M547.7 707.5h0M532.7 694.6h0M546.6 708.3h0M558.7 714.9h0M543.4 714.6h0M545.6 714.9h0M557.3 713.8h0M534.1 699.6h0M534.8 698.1h0M551.2 711.8h0M554.7 717.8h0M530.8 698.2h0M555.1 716.7h0M529.3 688.3h0M533.5 704.7h0M553.5 710.9h0M546.6 709.3h0M552.6 716.4h0M560.1 716.6h0M542 710.5h0M546.6 715.8h0M552.2 712.7h0M553.5 716.3h0M538 710.3h0M537.5 704.2h0M544.7 711.4h0M535.4 703.1h0M534.4 704.1h0M535.1 699.2h0M554.7 713h0M536.4 702.9h0M536.2 698.1h0M555.8 714.5h0M554 713h0M538.5 711.2h0M528.8 683.2h0M536.7 705.7h0M556.5 716.6h0M533.5 698.3h0M545.2 707.3h0M542.1 705.4h0M533 702.5h0M543.1 710.1h0M533.8 695.4h0M545.3 712.6h0M536.6 706.6h0M541.1 709.5h0M545 709.4h0M541.8 713.5h0M546.6 708.2h0M549.4 712.1h0M550.8 709.9h0M549.8 710h0M551.8 716.5h0M530.5 693.7h0M555.8 716.5h0M530 687.5h0M535 706.8h0M541.7 706.2h0M545.6 712h0M529.4 692.9h0M535.3 697h0M548.4 716.5h0M542 706.2h0M542.9 714.4h0M535.3 670.5h0M529.7 681.8h0"/><polygon fill="#bfbf00" points="492.2,720.6 493.2,720.8 494.2,720.4 495.2,719.9 496.2,719.8 497.1,719.5 498.1,719.3 499.1,719.1 500.1,718.3 501.1,717.9 502.1,717.2 503.1,716.7 504.1,716.4 505.1,716.2 506.1,715.4 507.1,714.9 508.1,714.9 509.1,714.3 510.1,713.6 511,712.9 512,712.7 513,712 514,711.6 515,710.9 516,709.9 517,709.1 518,708.1 519,707.4 520,706.8 521,704.3 522,701 522.8,698.6 523,696.9 524,687.3 524.1,685.6 524.9,683.5 525.5,681.7 525.9,681.9 526.9,682.7 527.9,683.7 528.3,684.5 528.9,687.3 529.9,692.9 530.9,697.8 531.1,698.9 531.9,700.4 532.9,702.4 533.9,704.2 534.9,705 535.9,705.8 536.9,707 537.9,708 538.8,708.5 539.8,709.4 540.8,710 541.8,711.3 542.2,711.7 542.8,712 543.8,712.1 544.8,712.4 545.8,712.6 546.8,713.2 547.8,713.5 548.8,714 549.8,714.6 550.8,714.7 551.8,715 552.7,715.5 553.7,716.2 554.7,716.2 555.7,716.5 556.1,716.7 556.7,716.9 557.7,717.6 558.7,717.7 559.7,718 560.7,718.5 561.7,718.8 562.7,723.4 491.2,723.4"/><path stroke="#bfbf00" stroke-width="3" stroke-linecap="round" d="M500 718.5h0M539.2 707.8h0M522.8 698.6h0M508.4 713.6h0M499.5 717.9h0M535.7 704.7h0M526.3 681.4h0M504.3 715h0M506.3 713.9h0M503 716.7h0M517.1 707.8h0M527.4 682.1h0M495.2 719.3h0M514.8 709.4h0M522.5 698.4h0M527.6 682.9h0M536.9 705.7h0M502.4 716.6h0M555.4 715.7h0M513.8 710.9h0M499.8 717.4h0M546.7 712h0M553.9 715.2h0M551.9 713.9h0M560 717.7h0M523.3 693.5h0M509.7 713.3h0M558.9 717.4h0M518.5 707.3h0M506.4 714.5h0M516.2 709.5h0M551.4 714.9h0M531.2 698.2h0M498 717.9h0M494.2 719.8h0M504.4 716.4h0M512.3 711.2h0M541.4 709.5h0M560 717.3h0M536.9 705.8h0M505.8 715.5h0M537.8 707h0M538.4 707.6h0M544.3 711.7h0M545.3 711.3h0M495.3 719.9h0M542.5 710.1h0M552 713.9h0M498.7 717.6h0M492.6 719.3h0M512.1 712.3h0M524.1 685.7h0M494.3 720.1h0M508.6 713.7h0M554 715.2h0M527.1 682.4h0M509 713.2h0M524.5 684.2h0M530.4 695h0M557.5 717h0M498 719h0M512.9 710.9h0M560.3 718.1h0"/><path stroke="#c4c428" stroke-opacity="0.85" stroke-width="2.9" stroke-linecap="round" d="M516.5 710.4h0M502.6 717h0"/></g><g clip-path="url(#c65)"><path stroke="#0000ff" stroke-opacity="0.95" stroke-width="2.9" stroke-linecap="round" d="M591.1 660.5h0M603.7 717h0M619 718.4h0M629.4 718.4h0M586.3 683.8h0"/><path stroke="#ff0000" stroke-opacity="0.95" stroke-width="2.9" stroke-linecap="round" d="M588.6 702h0M593.4 697.1h0M590 695.6h0M589.5 691.5h0M588.4 697.6h0M592.4 706h0M591.6 691.9h0M592.3 698.5h0M591.4 686.4h0M586 697.9h0M587.3 696.5h0M595.4 702.8h0M587.7 694.6h0M591.2 690.9h0M590.2 695.7h0M590.3 696.4h0M585.2 705.1h0M595.5 693.3h0M588.1 700.9h0M587.9 683.9h0M589.8 692.1h0M590.5 695.6h0M590.3 687.5h0M588.4 698h0M594 694.8h0M586.4 698.7h0M588.1 692.8h0M587.9 686.2h0M593.7 705.3h0M592.6 700.7h0M588.9 701.4h0M587.4 689.6h0M587.9 701.5h0M585.2 702.2h0M595.8 697.2h0M592.5 685.6h0M592.7 687h0M591.8 702h0M592.1 701.5h0M587 692h0M584.6 702.2h0M590.5 706h0M593.3 701.1h0M594.1 697.2h0M590.2 699.7h0M595.7 699.9h0M587.6 701.2h0M590.8 684.3h0M591 695.3h0M593 687.1h0M590 689.7h0M588.6 705h0M586.4 703.2h0M587.2 698.8h0M591.6 690.9h0M590.5 703.4h0M584.6 702.7h0M591 692.6h0M585.5 692.7h0M589.3 693.4h0M591.3 687.1h0M587.4 704.1h0M584.6 696.2h0M586.5 690.9h0M592.3 702.4h0M588.8 691.8h0M585 690.2h0M589.6 700.1h0M589.1 693.8h0M585.8 688.8h0M589.8 693h0M590.2 697.6h0M585.7 693.3h0M586.6 692.4h0M593.7 690.7h0M594.7 694.4h0M590.5 697.5h0M590.9 694.4h0M588.3 692.6h0M591.4 687.6h0M585.6 681.8h0M591.1 683.1h0M601.6 717h0M605.1 718.4h0M612 718.4h0"/><polygon fill="#bfbf00" points="563.4,708.9 564.3,709.3 565.3,709.1 566.3,709.1 567.3,708.7 568.3,708.8 569.3,709.2 570.3,709.2 571.3,708.6 572.3,708.6 573.3,709.4 574.3,708.5 575.3,708.9 576.3,708.6 577.2,709 578.2,708.9 579.2,708.7 580.2,708.6 581.2,708.9 582.2,709.3 583.2,709.2 584.2,708.9 585.2,709.1 586.2,708.6 587.2,708.4 588.2,708.4 589.2,708.4 590.2,708.3 591.1,708.6 592.1,708.9 593.1,708.9 594.1,708.7 594.6,708.9 595.1,705.7 596,699.6 596.1,698.2 597.1,691.7 597.4,689 598.1,688.9 599.1,689.2 599.5,689.5 600.1,714.6 600.2,719.7 601.1,719.9 602.1,720.8 603.1,721.2 604.1,721.5 605.1,722.8 606,722 607,723 608,722.3 609,722.6 610,722.4 611,722.4 612,722.3 613,722.8 614,722.3 615,722.5 616,723 617,722.9 618,722.6 619,722.8 619.9,722 620.9,722.6 621.9,722.8 622.9,722.7 623.9,722.4 624.9,722.7 625.9,722.4 626.9,722.6 627.9,722.5 628.9,722.3 629.9,722.3 630.9,722.4 631.9,722 632.9,722.7 633.9,723.4 562.4,723.4"/><path stroke="#bfbf00" stroke-width="3" stroke-linecap="round" d="M629.2 720.8h0M629.2 720h0M600.5 717.3h0M623.5 721h0M572.2 708.1h0M591 707.2h0M607.8 720.8h0M632.7 720.7h0M570 707.1h0M632.1 720.6h0M571.3 707.3h0M598 688.8h0M577.7 708.8h0M566.1 707.6h0M600.2 718.3h0M624.5 720.5h0M611 721.9h0M627.6 721h0M631.3 720h0M595.5 702.2h0M569.6 709.1h0M625.3 722.3h0M606.3 722h0M613.5 721.6h0M576.9 708.2h0M615.3 721.6h0M612.9 721.3h0M574.3 709h0M572.6 708.7h0M624.6 722h0M612.1 722.1h0M601.7 718.8h0M617.7 721.3h0M626.3 721.7h0M586.7 708h0M624.5 720.8h0M585.7 707.3h0M564.9 709.1h0M628 720.5h0M569.3 707h0M576.9 707.4h0M574.9 708h0M616.8 722h0M598.2 687.9h0M607.3 721.8h0M577.7 707.1h0M584.8 707.7h0M575.9 708.3h0M587.5 707.3h0M595.4 703.1h0M597.9 689.3h0M611.2 720.1h0M631.3 721.5h0M616.5 721.4h0M579.4 707.4h0M566.8 706.9h0M573.6 708.6h0M576.9 708h0M629.6 720.9h0M588.1 706.7h0M604.7 721.3h0M613.7 721.2h0M631 720.8h0"/><path stroke="#c4c428" stroke-opacity="0.85" stroke-width="2.9" stroke-linecap="round" d="M598.1 676.5h0M575.2 702.4h0"/></g><g clip-path="url(#c66)"><path stroke="#0000ff" stroke-opacity="0.95" stroke-width="2.9" stroke-linecap="round" d="M677.6 663.8h0M677.6 682.4h0M674.1 688.4h0M676.2 696.4h0M680.4 698.4h0M681.8 711.7h0M684.6 713h0M660.9 709.7h0M635.9 717h0M702.6 713.7h0"/><path stroke="#ff0000" stroke-opacity="0.95" stroke-width="2.9" stroke-linecap="round" d="M665.6 699.8h0M681.9 714.9h0M683.4 717.5h0M686.2 717.1h0M665.4 694.7h0M666.4 705.7h0M676.6 714h0M671.3 711h0M673.9 696h0M667.8 716.3h0M665 701h0M684.1 718.4h0M673 706.4h0M682.7 715.5h0M665.2 703.7h0M665.7 703h0M670 690.5h0M675.8 713.6h0M674.4 717.8h0M667.2 689.7h0M666.1 707.5h0M668.7 709.1h0M669.1 691.4h0M664.7 699.8h0M678.6 716.5h0M678.2 716.4h0M676.8 717.3h0M670.3 694.8h0M671.4 700.8h0M665.9 705.6h0M664.1 700.4h0M672.2 693.6h0M672.6 709h0M674.6 707.1h0M673.3 715.8h0M673.7 696.5h0M671.9 690.6h0M667.7 718h0M669.1 709.2h0M665.3 704.7h0M672.5 703.1h0M667.8 689.4h0M673.8 712h0M672.3 714.9h0M669 697.8h0M673.2 711.5h0M666.8 711.4h0M671.8 696.8h0M674 706h0M673.2 710.8h0M673.1 702h0M670.5 715.2h0M687.3 718.1h0M670.6 705.3h0M674.9 717.3h0M681.1 715h0M671.8 691.7h0M665.6 701.9h0M669.1 718.6h0M664.4 710.7h0M679.8 714.3h0M664.9 711.1h0M671.6 694.8h0M672.5 693.7h0M672.3 717.4h0M666.3 712.9h0M676.5 719.6h0M685.6 718h0M681 714.1h0M664.3 710h0M673 695.7h0M667 695.4h0M669.3 693.9h0M664.6 699.1h0M668.2 698.2h0M667.7 708h0M668.5 702.9h0M675.6 712.3h0M664.9 716.8h0M677.7 718.7h0M678.1 712.8h0M676.6 709h0M666.6 701.2h0M668.7 718h0M667.4 713.1h0M666.3 695.2h0M673.6 706.3h0M676.2 714.3h0M676.6 712.6h0M671.7 698.5h0M664 707.5h0M669.2 704.6h0M668.3 704.8h0M675.5 715.5h0M683.9 717h0M665.1 710h0M669.1 706.6h0M675.3 704.8h0M675.8 704.6h0M673.3 703.4h0M664.5 719.3h0M675.2 705.1h0M669.7 695h0M676.2 714.6h0M665.2 719.1h0M666.6 707.4h0M682.5 716.6h0M672.7 693.5h0M672.3 718.2h0M670.1 699.9h0M684.2 717.3h0M671.5 693h0M674.9 711h0M673.4 707.7h0M685.6 719.2h0M668.6 700h0M667.8 700.2h0M668.6 697.1h0M672.2 711.6h0M663.9 699.9h0M684.7 719.1h0M683.6 715.5h0M668.2 698.6h0M677.6 716.7h0M665.9 707.7h0M664.4 704.4h0M673.3 700.1h0M673.2 717.3h0M674.2 716.1h0M667.9 717.1h0M675.9 704.5h0M672.6 707h0M673.8 702.4h0M674.7 709.8h0M674.1 700.8h0M673.1 718.8h0M671.8 692.6h0M685.2 720.2h0M680.6 717.9h0M669.9 701.5h0M671.5 709.7h0M667 705h0M669 719.1h0M674.6 703.2h0M677 710.2h0M672.6 693.4h0M668 690.9h0M673.5 695.5h0M665.6 705.2h0M668.2 692.2h0M683.3 717.3h0M670.1 696.2h0M678.8 714h0M676.3 713.9h0M671.5 702h0M671.7 714.5h0M671.6 718.6h0M664.8 711.1h0M672.8 694.9h0M668.2 708.1h0M664.6 702.5h0M664.8 713.7h0M673.6 708.7h0M666.3 711.4h0M665 706.1h0M669.4 697.6h0M675.6 710.8h0M672.6 694.9h0M668.5 699h0M665.8 708.5h0M683.8 719.1h0M673.8 694.6h0M671.1 696.1h0M674.2 716.9h0M686.9 718.4h0M669.5 712.8h0M667.7 694h0M670.7 695.5h0M664.8 707.7h0M666.2 694.5h0M675.9 705.5h0M674.3 706h0M670.9 711.4h0M665.6 716.5h0M668.8 705.1h0M670.3 699.6h0M669.3 670.5h0M667.2 683.8h0M665.8 686.4h0M670.7 688.4h0M651.9 718.4h0M658.8 718.4h0"/><polygon fill="#bfbf00" points="634.5,721.7 635.5,721.7 636.5,721.7 637.5,721.7 638.5,721.7 639.5,721.7 640.5,721.7 641.5,721.7 642.5,721.7 643.5,721.7 644.4,721.7 645.4,721.7 646.4,721.7 647.4,721.7 648.4,721.7 649.4,721.7 650.4,721.7 651.4,721.7 652.4,721.7 653.4,721.7 654.4,721.7 655.4,721.7 656.4,721.7 657.4,721.7 658.3,721.7 659.3,721.7 660.3,721.7 661.3,721.7 662.3,721.7 663.3,721.7 664.3,721.7 665.3,721.7 666.3,721.7 667.3,721.7 667.9,721.7 668,695.1 668.3,695.1 669.3,695.1 670.3,695.1 671.3,695.1 671.4,695.1 671.5,719.7 672.2,719.7 673.2,719.7 674.2,719.7 675.2,719.8 676.2,719.8 677.2,719.8 678.2,719.8 679.2,719.8 680.2,719.9 681.2,719.9 682.2,719.9 683.2,719.9 684.2,719.9 685.2,720 686.1,720 687.1,720 688.1,720 689.1,720 690.1,720.1 691.1,720.1 692.1,720.1 693.1,720.1 694.1,720.1 695.1,720.2 696.1,720.2 697.1,720.2 698.1,720.2 699.1,720.2 700,720.3 701,720.3 702,720.3 703,720.3 704,720.3 705,723.4 633.5,723.4"/><path stroke="#c4c428" stroke-opacity="0.85" stroke-width="2.9" stroke-linecap="round" d="M669.3 676.5h0"/></g><g fill="#a3a3a3"><rect x="276.8" y="240.6" width="2.1" height="65.3"/><rect x="348" y="240.6" width="2.1" height="65.3"/><rect x="419.1" y="240.6" width="2.1" height="65.3"/><rect x="490.3" y="240.6" width="2.1" height="65.3"/><rect x="561.5" y="240.6" width="2.1" height="65.3"/><rect x="632.6" y="240.6" width="2.1" height="65.3"/><rect x="276.8" y="310.4" width="2.1" height="65.3"/><rect x="348" y="310.4" width="2.1" height="65.3"/><rect x="419.1" y="310.4" width="2.1" height="65.3"/><rect x="490.3" y="310.4" width="2.1" height="65.3"/><rect x="561.5" y="310.4" width="2.1" height="65.3"/><rect x="632.6" y="310.4" width="2.1" height="65.3"/><rect x="276.8" y="380.1" width="2.1" height="65.3"/><rect x="348" y="380.1" width="2.1" height="65.3"/><rect x="419.1" y="380.1" width="2.1" height="65.3"/><rect x="490.3" y="380.1" width="2.1" height="65.3"/><rect x="561.5" y="380.1" width="2.1" height="65.3"/><rect x="632.6" y="380.1" width="2.1" height="65.3"/><rect x="276.8" y="449.9" width="2.1" height="65.3"/><rect x="348" y="449.9" width="2.1" height="65.3"/><rect x="419.1" y="449.9" width="2.1" height="65.3"/><rect x="490.3" y="449.9" width="2.1" height="65.3"/><rect x="561.5" y="449.9" width="2.1" height="65.3"/><rect x="632.6" y="449.9" width="2.1" height="65.3"/><rect x="276.8" y="519.6" width="2.1" height="65.3"/><rect x="348" y="519.6" width="2.1" height="65.3"/><rect x="419.1" y="519.6" width="2.1" height="65.3"/><rect x="490.3" y="519.6" width="2.1" height="65.3"/><rect x="561.5" y="519.6" width="2.1" height="65.3"/><rect x="632.6" y="519.6" width="2.1" height="65.3"/><rect x="276.8" y="589.4" width="2.1" height="65.3"/><rect x="348" y="589.4" width="2.1" height="65.3"/><rect x="419.1" y="589.4" width="2.1" height="65.3"/><rect x="490.3" y="589.4" width="2.1" height="65.3"/><rect x="561.5" y="589.4" width="2.1" height="65.3"/><rect x="632.6" y="589.4" width="2.1" height="65.3"/><rect x="276.8" y="659.1" width="2.1" height="65.3"/><rect x="348" y="659.1" width="2.1" height="65.3"/><rect x="419.1" y="659.1" width="2.1" height="65.3"/><rect x="490.3" y="659.1" width="2.1" height="65.3"/><rect x="561.5" y="659.1" width="2.1" height="65.3"/><rect x="632.6" y="659.1" width="2.1" height="65.3"/></g><g fill="none" stroke="#7a7a7a" stroke-width="1.4"><rect x="208.1" y="240.6" width="68.3" height="65.3"/><rect x="279.3" y="240.6" width="68.3" height="65.3"/><rect x="350.4" y="240.6" width="68.3" height="65.3"/><rect x="492.8" y="240.6" width="68.3" height="65.3"/><rect x="564" y="240.6" width="68.3" height="65.3"/><rect x="208.1" y="310.4" width="68.3" height="65.3"/><rect x="279.3" y="310.4" width="68.3" height="65.3"/><rect x="350.4" y="310.4" width="68.3" height="65.3"/><rect x="492.8" y="310.4" width="68.3" height="65.3"/><rect x="635.1" y="310.4" width="68.3" height="65.3"/><rect x="208.1" y="380.1" width="68.3" height="65.3"/><rect x="279.3" y="380.1" width="68.3" height="65.3"/><rect x="350.4" y="380.1" width="68.3" height="65.3"/><rect x="564" y="380.1" width="68.3" height="65.3"/><rect x="635.1" y="380.1" width="68.3" height="65.3"/><rect x="208.1" y="449.9" width="68.3" height="65.3"/><rect x="279.3" y="449.9" width="68.3" height="65.3"/><rect x="350.4" y="449.9" width="68.3" height="65.3"/><rect x="492.8" y="449.9" width="68.3" height="65.3"/><rect x="564" y="449.9" width="68.3" height="65.3"/><rect x="635.1" y="449.9" width="68.3" height="65.3"/><rect x="208.1" y="519.6" width="68.3" height="65.3"/><rect x="279.3" y="519.6" width="68.3" height="65.3"/><rect x="350.4" y="519.6" width="68.3" height="65.3"/><rect x="492.8" y="519.6" width="68.3" height="65.3"/><rect x="564" y="519.6" width="68.3" height="65.3"/><rect x="635.1" y="519.6" width="68.3" height="65.3"/><rect x="208.1" y="589.4" width="68.3" height="65.3"/><rect x="279.3" y="589.4" width="68.3" height="65.3"/><rect x="350.4" y="589.4" width="68.3" height="65.3"/><rect x="492.8" y="589.4" width="68.3" height="65.3"/><rect x="564" y="589.4" width="68.3" height="65.3"/><rect x="635.1" y="589.4" width="68.3" height="65.3"/><rect x="208.1" y="659.1" width="68.3" height="65.3"/><rect x="279.3" y="659.1" width="68.3" height="65.3"/><rect x="350.4" y="659.1" width="68.3" height="65.3"/><rect x="492.8" y="659.1" width="68.3" height="65.3"/><rect x="564" y="659.1" width="68.3" height="65.3"/><rect x="635.1" y="659.1" width="68.3" height="65.3"/></g><g fill="none" stroke="#262626" stroke-width="1.9" stroke-dasharray="7.1 2.1"><path d="M419.5 240.5H491.7M419.5 306.4H491.7"/><path d="M419.5 310.2H491.7M419.5 376.1H491.7"/><path d="M419.5 380H491.7M419.5 445.9H491.7"/></g><g fill="none" stroke="#262626" stroke-width="2.7" stroke-dasharray="8.2 1.3"><path d="M420.7 239.5V307.4M490.2 239.5V307.4"/><path d="M420.7 309.2V377.1M490.2 309.2V377.1"/><path d="M420.7 379V446.9M490.2 379V446.9"/></g><g fill="none" stroke="#0000ff" stroke-width="3.8"><rect x="634.4" y="240.2" width="69.4" height="65.9"/><rect x="563.2" y="309.9" width="69.4" height="65.9"/><rect x="492.1" y="379.7" width="69.4" height="65.9"/><rect x="420.9" y="449.4" width="69.4" height="65.9"/><rect x="420.9" y="519.2" width="69.4" height="65.9"/><rect x="420.9" y="589" width="69.4" height="65.9"/><rect x="420.9" y="658.7" width="69.4" height="65.9"/></g><g font-family="Liberation Sans, sans-serif" font-size="21.3" fill="#000"><text transform="translate(198.3 276.6) rotate(-90) scale(1.12 1)" text-anchor="middle">0.3</text><text transform="translate(198.3 346.3) rotate(-90) scale(1.12 1)" text-anchor="middle">0.2</text><text transform="translate(198.3 416.1) rotate(-90) scale(1.12 1)" text-anchor="middle">0.1</text><text transform="translate(198.3 485.8) rotate(-90) scale(1.12 1)" text-anchor="middle">0.0</text><text transform="translate(198.3 555.5) rotate(-90) scale(1.12 1)" text-anchor="middle">-0.1</text><text transform="translate(198.3 625.3) rotate(-90) scale(1.12 1)" text-anchor="middle">-0.2</text><text transform="translate(198.3 695) rotate(-90) scale(1.12 1)" text-anchor="middle">-0.3</text><text transform="translate(241.8 744.3) scale(1.14 1)" text-anchor="middle">0.70</text><text transform="translate(312.9 744.3) scale(1.14 1)" text-anchor="middle">0.80</text><text transform="translate(384.1 744.3) scale(1.14 1)" text-anchor="middle">0.90</text><text transform="translate(455.3 744.3) scale(1.14 1)" text-anchor="middle">1.00</text><text transform="translate(526.4 744.3) scale(1.14 1)" text-anchor="middle">1.10</text><text transform="translate(597.6 744.3) scale(1.14 1)" text-anchor="middle">1.20</text><text transform="translate(668.8 744.3) scale(1.14 1)" text-anchor="middle">1.30</text></g></svg><div class="ln" id="l1" style="left:128px;top:822px;transform:scaleX(1.092);">Figure 5: Condensation map. Each color in each box is a scatter of {(<i>A<sub>k</sub></i>, <i>&#373;<sub>k</sub></i>)}<span style="display:inline-block;position:relative;width:20px;height:10px;"><span style="position:absolute;left:1px;top:-7px;font-size:9.5px;font-style:italic;">m</span><span style="position:absolute;left:1px;top:3px;font-size:9.5px;"><i>k</i>=1</span></span> for a NN with</div>
<div class="ln" id="l2" style="left:128px;top:838.3px;transform:scaleX(1.092);">corresponding <i>&#947;</i> and <i>&#947;</i>&#8242;. The hidden neuron numbers are: <i>m</i> = 10<sup>3</sup> (blue), 10<sup>4</sup> (red), 10<sup>6</sup> (yellow).</div>
<div class="ln" id="l3" style="left:128px;top:854.6px;transform:scaleX(1.082);">The abscissa coordinate is <i>&#947;</i> and the ordinate one is <i>&#947;</i>&#8242;.</div>
<div class="ln" id="pn" style="left:417px;top:930.5px;font-size:15.3px;transform:scaleX(1.15);">13</div>

</body></html>
